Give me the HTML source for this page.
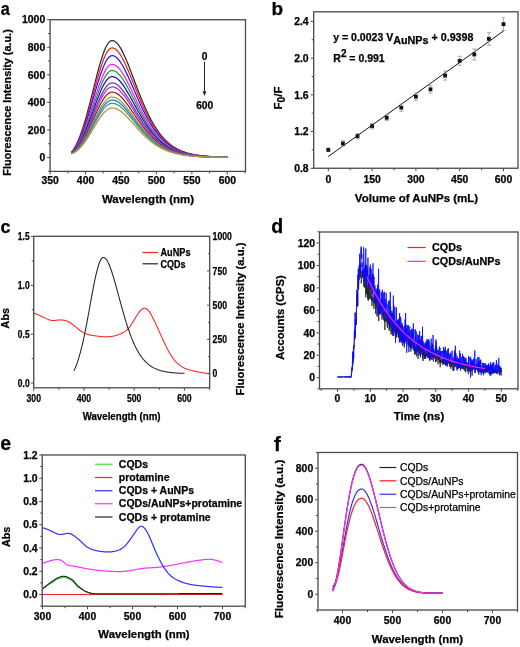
<!DOCTYPE html>
<html><head><meta charset="utf-8"><style>
html,body{margin:0;padding:0;background:#fff;}
svg{display:block;font-family:"Liberation Sans", sans-serif;will-change:transform;} text{stroke:#000;stroke-width:0.25px;}
</style></head><body>
<svg width="520" height="647" viewBox="0 0 520 647">
<rect width="520" height="647" fill="#fff"/>
<text x="0.8" y="14.8" font-size="17.6" text-anchor="start" font-weight="bold" fill="#000"  textLength="9.1" lengthAdjust="spacingAndGlyphs">a</text>
<path d="M71.36 152.28 L72.07 151.45 L72.78 150.52 L73.49 149.51 L74.20 148.40 L74.91 147.21 L75.62 145.92 L76.33 144.55 L77.03 143.09 L77.74 141.55 L78.45 139.92 L79.16 138.20 L79.87 136.40 L80.58 134.51 L81.29 132.54 L82.00 130.50 L82.70 128.37 L83.41 126.17 L84.12 123.89 L84.83 121.55 L85.54 119.13 L86.25 116.65 L86.96 114.11 L87.67 111.51 L88.38 108.87 L89.08 106.17 L89.79 103.44 L90.50 100.67 L91.21 97.87 L91.92 95.06 L92.63 92.22 L93.34 89.38 L94.05 86.55 L94.75 83.72 L95.46 80.90 L96.17 78.12 L96.88 75.37 L97.59 72.66 L98.30 70.01 L99.01 67.41 L99.72 64.89 L100.42 62.45 L101.13 60.10 L101.84 57.84 L102.55 55.69 L103.26 53.66 L103.97 51.74 L104.68 49.96 L105.39 48.31 L106.10 46.81 L106.80 45.45 L107.51 44.25 L108.22 43.21 L108.93 42.34 L109.64 41.63 L110.35 41.09 L111.06 40.73 L111.77 40.54 L112.47 40.52 L113.18 40.62 L113.89 40.85 L114.60 41.19 L115.31 41.65 L116.02 42.21 L116.73 42.88 L117.44 43.65 L118.14 44.52 L118.85 45.48 L119.56 46.53 L120.27 47.66 L120.98 48.88 L121.69 50.17 L122.40 51.52 L123.11 52.95 L123.82 54.43 L124.52 55.97 L125.23 57.56 L125.94 59.20 L126.65 60.88 L127.36 62.60 L128.07 64.35 L128.78 66.13 L129.49 67.93 L130.19 69.76 L130.90 71.60 L131.61 73.46 L132.32 75.33 L133.03 77.20 L133.74 79.08 L134.45 80.96 L135.16 82.83 L135.86 84.70 L136.57 86.56 L137.28 88.41 L137.99 90.25 L138.70 92.07 L139.41 93.87 L140.12 95.66 L140.83 97.42 L141.54 99.16 L142.24 100.87 L142.95 102.57 L143.66 104.23 L144.37 105.86 L145.08 107.47 L145.79 109.05 L146.50 110.59 L147.21 112.11 L147.91 113.59 L148.62 115.04 L149.33 116.46 L150.04 117.85 L150.75 119.20 L151.46 120.52 L152.17 121.81 L152.88 123.06 L153.58 124.28 L154.29 125.47 L155.00 126.62 L155.71 127.74 L156.42 128.83 L157.13 129.89 L157.84 130.92 L158.55 131.92 L159.26 132.88 L159.96 133.82 L160.67 134.73 L161.38 135.60 L162.09 136.45 L162.80 137.27 L163.51 138.07 L164.22 138.83 L164.93 139.58 L165.63 140.29 L166.34 140.98 L167.05 141.65 L167.76 142.29 L168.47 142.91 L169.18 143.51 L169.89 144.08 L170.60 144.64 L171.30 145.17 L172.01 145.69 L172.72 146.18 L173.43 146.66 L174.14 147.11 L174.85 147.55 L175.56 147.98 L176.27 148.38 L176.98 148.77 L177.68 149.15 L178.39 149.51 L179.10 149.85 L179.81 150.18 L180.52 150.50 L181.23 150.81 L181.94 151.10 L182.65 151.38 L183.35 151.65 L184.06 151.91 L184.77 152.16 L185.48 152.39 L186.19 152.62 L186.90 152.84 L187.61 153.04 L188.32 153.24 L189.02 153.43 L189.73 153.62 L190.44 153.79 L191.15 153.96 L191.86 154.12 L192.57 154.27 L193.28 154.42 L193.99 154.56 L194.70 154.69 L195.40 154.82 L196.11 154.94 L196.82 155.06 L197.53 155.17 L198.24 155.28 L198.95 155.38 L199.66 155.48 L200.37 155.57 L201.07 155.66 L201.78 155.74 L202.49 155.82 L203.20 155.90 L203.91 155.97 L204.62 156.05 L205.33 156.11 L206.04 156.18 L206.74 156.24 L207.45 156.30 L208.16 156.35 L208.87 156.41 L209.58 156.46 L210.29 156.50 L211.00 156.55 L211.71 156.60 L212.42 156.64 L213.12 156.68 L213.83 156.72 L214.54 156.75 L215.25 156.79 L215.96 156.82 L216.67 156.85 L217.38 156.88 L218.09 156.91 L218.79 156.94 L219.50 156.96 L220.21 156.99 L220.92 157.01 L221.63 157.04 L222.34 157.06 L223.05 157.08 L223.76 157.10 L224.46 157.12 L225.17 157.13 L225.88 157.15 L226.59 157.17 L227.30 157.18" fill="none" stroke="#2a2a2a" stroke-width="1.25" stroke-linejoin="round" />
<path d="M71.36 152.44 L72.07 151.67 L72.78 150.82 L73.49 149.88 L74.20 148.86 L74.91 147.75 L75.62 146.56 L76.33 145.29 L77.03 143.93 L77.74 142.49 L78.45 140.97 L79.16 139.37 L79.87 137.68 L80.58 135.92 L81.29 134.09 L82.00 132.17 L82.70 130.19 L83.41 128.13 L84.12 126.00 L84.83 123.80 L85.54 121.54 L86.25 119.22 L86.96 116.85 L87.67 114.42 L88.38 111.94 L89.08 109.42 L89.79 106.86 L90.50 104.27 L91.21 101.65 L91.92 99.01 L92.63 96.36 L93.34 93.70 L94.05 91.05 L94.75 88.40 L95.46 85.76 L96.17 83.16 L96.88 80.58 L97.59 78.05 L98.30 75.56 L99.01 73.13 L99.72 70.77 L100.42 68.49 L101.13 66.28 L101.84 64.17 L102.55 62.16 L103.26 60.25 L103.97 58.46 L104.68 56.79 L105.39 55.25 L106.10 53.84 L106.80 52.57 L107.51 51.45 L108.22 50.47 L108.93 49.65 L109.64 48.99 L110.35 48.49 L111.06 48.15 L111.77 47.97 L112.47 47.95 L113.18 48.05 L113.89 48.26 L114.60 48.58 L115.31 49.01 L116.02 49.53 L116.73 50.16 L117.44 50.88 L118.14 51.70 L118.85 52.60 L119.56 53.58 L120.27 54.64 L120.98 55.78 L121.69 56.98 L122.40 58.26 L123.11 59.59 L123.82 60.98 L124.52 62.42 L125.23 63.91 L125.94 65.44 L126.65 67.02 L127.36 68.63 L128.07 70.27 L128.78 71.93 L129.49 73.62 L130.19 75.33 L130.90 77.06 L131.61 78.80 L132.32 80.55 L133.03 82.30 L133.74 84.06 L134.45 85.82 L135.16 87.58 L135.86 89.33 L136.57 91.07 L137.28 92.80 L137.99 94.52 L138.70 96.23 L139.41 97.91 L140.12 99.59 L140.83 101.24 L141.54 102.87 L142.24 104.47 L142.95 106.06 L143.66 107.61 L144.37 109.14 L145.08 110.65 L145.79 112.13 L146.50 113.57 L147.21 114.99 L147.91 116.38 L148.62 117.74 L149.33 119.07 L150.04 120.37 L150.75 121.63 L151.46 122.87 L152.17 124.07 L152.88 125.25 L153.58 126.39 L154.29 127.50 L155.00 128.58 L155.71 129.63 L156.42 130.66 L157.13 131.65 L157.84 132.61 L158.55 133.54 L159.26 134.45 L159.96 135.32 L160.67 136.17 L161.38 136.99 L162.09 137.79 L162.80 138.56 L163.51 139.30 L164.22 140.02 L164.93 140.71 L165.63 141.38 L166.34 142.03 L167.05 142.66 L167.76 143.26 L168.47 143.84 L169.18 144.40 L169.89 144.94 L170.60 145.46 L171.30 145.96 L172.01 146.44 L172.72 146.90 L173.43 147.34 L174.14 147.77 L174.85 148.19 L175.56 148.58 L176.27 148.96 L176.98 149.33 L177.68 149.68 L178.39 150.02 L179.10 150.34 L179.81 150.65 L180.52 150.95 L181.23 151.23 L181.94 151.51 L182.65 151.77 L183.35 152.02 L184.06 152.26 L184.77 152.50 L185.48 152.72 L186.19 152.93 L186.90 153.13 L187.61 153.33 L188.32 153.51 L189.02 153.69 L189.73 153.86 L190.44 154.03 L191.15 154.18 L191.86 154.33 L192.57 154.48 L193.28 154.61 L193.99 154.74 L194.70 154.87 L195.40 154.99 L196.11 155.10 L196.82 155.21 L197.53 155.32 L198.24 155.42 L198.95 155.51 L199.66 155.60 L200.37 155.69 L201.07 155.77 L201.78 155.85 L202.49 155.93 L203.20 156.00 L203.91 156.07 L204.62 156.14 L205.33 156.20 L206.04 156.26 L206.74 156.32 L207.45 156.37 L208.16 156.43 L208.87 156.48 L209.58 156.52 L210.29 156.57 L211.00 156.61 L211.71 156.65 L212.42 156.69 L213.12 156.73 L213.83 156.77 L214.54 156.80 L215.25 156.83 L215.96 156.86 L216.67 156.89 L217.38 156.92 L218.09 156.95 L218.79 156.97 L219.50 157.00 L220.21 157.02 L220.92 157.04 L221.63 157.07 L222.34 157.09 L223.05 157.11 L223.76 157.12 L224.46 157.14 L225.17 157.16 L225.88 157.17 L226.59 157.19 L227.30 157.20" fill="none" stroke="#ff1a1a" stroke-width="1.25" stroke-linejoin="round" />
<path d="M71.36 152.60 L72.07 151.91 L72.78 151.13 L73.49 150.28 L74.20 149.34 L74.91 148.32 L75.62 147.22 L76.33 146.05 L77.03 144.80 L77.74 143.47 L78.45 142.06 L79.16 140.58 L79.87 139.02 L80.58 137.39 L81.29 135.69 L82.00 133.91 L82.70 132.07 L83.41 130.16 L84.12 128.18 L84.83 126.14 L85.54 124.05 L86.25 121.89 L86.96 119.69 L87.67 117.43 L88.38 115.13 L89.08 112.79 L89.79 110.41 L90.50 108.00 L91.21 105.57 L91.92 103.12 L92.63 100.65 L93.34 98.18 L94.05 95.71 L94.75 93.25 L95.46 90.80 L96.17 88.38 L96.88 85.99 L97.59 83.63 L98.30 81.32 L99.01 79.06 L99.72 76.87 L100.42 74.74 L101.13 72.70 L101.84 70.73 L102.55 68.86 L103.26 67.09 L103.97 65.42 L104.68 63.87 L105.39 62.44 L106.10 61.13 L106.80 59.95 L107.51 58.91 L108.22 58.00 L108.93 57.24 L109.64 56.63 L110.35 56.16 L111.06 55.84 L111.77 55.67 L112.47 55.66 L113.18 55.75 L113.89 55.94 L114.60 56.24 L115.31 56.64 L116.02 57.13 L116.73 57.71 L117.44 58.38 L118.14 59.14 L118.85 59.98 L119.56 60.89 L120.27 61.88 L120.98 62.93 L121.69 64.06 L122.40 65.24 L123.11 66.48 L123.82 67.77 L124.52 69.11 L125.23 70.49 L125.94 71.92 L126.65 73.38 L127.36 74.88 L128.07 76.40 L128.78 77.95 L129.49 79.52 L130.19 81.11 L130.90 82.72 L131.61 84.34 L132.32 85.96 L133.03 87.59 L133.74 89.23 L134.45 90.86 L135.16 92.50 L135.86 94.12 L136.57 95.74 L137.28 97.35 L137.99 98.95 L138.70 100.54 L139.41 102.11 L140.12 103.66 L140.83 105.19 L141.54 106.71 L142.24 108.20 L142.95 109.67 L143.66 111.12 L144.37 112.55 L145.08 113.94 L145.79 115.32 L146.50 116.66 L147.21 117.98 L147.91 119.27 L148.62 120.54 L149.33 121.77 L150.04 122.98 L150.75 124.16 L151.46 125.30 L152.17 126.42 L152.88 127.52 L153.58 128.58 L154.29 129.61 L155.00 130.62 L155.71 131.59 L156.42 132.54 L157.13 133.47 L157.84 134.36 L158.55 135.23 L159.26 136.07 L159.96 136.88 L160.67 137.67 L161.38 138.44 L162.09 139.18 L162.80 139.89 L163.51 140.58 L164.22 141.25 L164.93 141.90 L165.63 142.52 L166.34 143.12 L167.05 143.70 L167.76 144.26 L168.47 144.80 L169.18 145.32 L169.89 145.82 L170.60 146.30 L171.30 146.77 L172.01 147.21 L172.72 147.65 L173.43 148.06 L174.14 148.46 L174.85 148.84 L175.56 149.21 L176.27 149.56 L176.98 149.90 L177.68 150.23 L178.39 150.54 L179.10 150.84 L179.81 151.13 L180.52 151.41 L181.23 151.67 L181.94 151.93 L182.65 152.17 L183.35 152.41 L184.06 152.63 L184.77 152.85 L185.48 153.05 L186.19 153.25 L186.90 153.44 L187.61 153.62 L188.32 153.79 L189.02 153.96 L189.73 154.12 L190.44 154.27 L191.15 154.42 L191.86 154.56 L192.57 154.69 L193.28 154.82 L193.99 154.94 L194.70 155.05 L195.40 155.17 L196.11 155.27 L196.82 155.37 L197.53 155.47 L198.24 155.56 L198.95 155.65 L199.66 155.74 L200.37 155.82 L201.07 155.90 L201.78 155.97 L202.49 156.04 L203.20 156.11 L203.91 156.17 L204.62 156.23 L205.33 156.29 L206.04 156.35 L206.74 156.40 L207.45 156.45 L208.16 156.50 L208.87 156.55 L209.58 156.59 L210.29 156.63 L211.00 156.67 L211.71 156.71 L212.42 156.75 L213.12 156.78 L213.83 156.82 L214.54 156.85 L215.25 156.88 L215.96 156.91 L216.67 156.94 L217.38 156.96 L218.09 156.99 L218.79 157.01 L219.50 157.03 L220.21 157.06 L220.92 157.08 L221.63 157.10 L222.34 157.12 L223.05 157.13 L223.76 157.15 L224.46 157.17 L225.17 157.18 L225.88 157.20 L226.59 157.21 L227.30 157.22" fill="none" stroke="#1a1aff" stroke-width="1.25" stroke-linejoin="round" />
<path d="M71.36 152.78 L72.07 152.17 L72.78 151.48 L73.49 150.72 L74.20 149.88 L74.91 148.96 L75.62 147.97 L76.33 146.91 L77.03 145.77 L77.74 144.57 L78.45 143.29 L79.16 141.94 L79.87 140.52 L80.58 139.04 L81.29 137.49 L82.00 135.87 L82.70 134.19 L83.41 132.44 L84.12 130.64 L84.83 128.78 L85.54 126.86 L86.25 124.90 L86.96 122.88 L87.67 120.82 L88.38 118.71 L89.08 116.57 L89.79 114.40 L90.50 112.20 L91.21 109.98 L91.92 107.73 L92.63 105.48 L93.34 103.22 L94.05 100.96 L94.75 98.71 L95.46 96.48 L96.17 94.26 L96.88 92.07 L97.59 89.91 L98.30 87.80 L99.01 85.74 L99.72 83.73 L100.42 81.79 L101.13 79.91 L101.84 78.12 L102.55 76.41 L103.26 74.78 L103.97 73.26 L104.68 71.84 L105.39 70.53 L106.10 69.33 L106.80 68.25 L107.51 67.30 L108.22 66.47 L108.93 65.78 L109.64 65.21 L110.35 64.78 L111.06 64.49 L111.77 64.34 L112.47 64.33 L113.18 64.41 L113.89 64.59 L114.60 64.86 L115.31 65.23 L116.02 65.67 L116.73 66.21 L117.44 66.82 L118.14 67.51 L118.85 68.28 L119.56 69.12 L120.27 70.02 L120.98 70.99 L121.69 72.01 L122.40 73.09 L123.11 74.23 L123.82 75.41 L124.52 76.63 L125.23 77.90 L125.94 79.21 L126.65 80.54 L127.36 81.91 L128.07 83.31 L128.78 84.72 L129.49 86.16 L130.19 87.62 L130.90 89.09 L131.61 90.57 L132.32 92.05 L133.03 93.55 L133.74 95.04 L134.45 96.54 L135.16 98.03 L135.86 99.52 L136.57 101.00 L137.28 102.47 L137.99 103.94 L138.70 105.39 L139.41 106.82 L140.12 108.24 L140.83 109.65 L141.54 111.03 L142.24 112.40 L142.95 113.75 L143.66 115.07 L144.37 116.37 L145.08 117.65 L145.79 118.91 L146.50 120.14 L147.21 121.35 L147.91 122.53 L148.62 123.68 L149.33 124.81 L150.04 125.92 L150.75 126.99 L151.46 128.05 L152.17 129.07 L152.88 130.07 L153.58 131.04 L154.29 131.99 L155.00 132.91 L155.71 133.80 L156.42 134.67 L157.13 135.51 L157.84 136.33 L158.55 137.12 L159.26 137.89 L159.96 138.64 L160.67 139.36 L161.38 140.06 L162.09 140.74 L162.80 141.39 L163.51 142.02 L164.22 142.63 L164.93 143.22 L165.63 143.79 L166.34 144.34 L167.05 144.87 L167.76 145.39 L168.47 145.88 L169.18 146.36 L169.89 146.81 L170.60 147.26 L171.30 147.68 L172.01 148.09 L172.72 148.48 L173.43 148.86 L174.14 149.23 L174.85 149.58 L175.56 149.91 L176.27 150.24 L176.98 150.55 L177.68 150.85 L178.39 151.13 L179.10 151.41 L179.81 151.67 L180.52 151.93 L181.23 152.17 L181.94 152.40 L182.65 152.63 L183.35 152.84 L184.06 153.05 L184.77 153.24 L185.48 153.43 L186.19 153.61 L186.90 153.79 L187.61 153.95 L188.32 154.11 L189.02 154.26 L189.73 154.41 L190.44 154.55 L191.15 154.68 L191.86 154.81 L192.57 154.93 L193.28 155.05 L193.99 155.16 L194.70 155.26 L195.40 155.36 L196.11 155.46 L196.82 155.56 L197.53 155.64 L198.24 155.73 L198.95 155.81 L199.66 155.89 L200.37 155.96 L201.07 156.03 L201.78 156.10 L202.49 156.16 L203.20 156.23 L203.91 156.29 L204.62 156.34 L205.33 156.39 L206.04 156.45 L206.74 156.49 L207.45 156.54 L208.16 156.59 L208.87 156.63 L209.58 156.67 L210.29 156.71 L211.00 156.74 L211.71 156.78 L212.42 156.81 L213.12 156.84 L213.83 156.88 L214.54 156.90 L215.25 156.93 L215.96 156.96 L216.67 156.98 L217.38 157.01 L218.09 157.03 L218.79 157.05 L219.50 157.07 L220.21 157.09 L220.92 157.11 L221.63 157.13 L222.34 157.15 L223.05 157.16 L223.76 157.18 L224.46 157.19 L225.17 157.21 L225.88 157.22 L226.59 157.24 L227.30 157.25" fill="none" stroke="#ff1aff" stroke-width="1.25" stroke-linejoin="round" />
<path d="M71.36 152.91 L72.07 152.36 L72.78 151.73 L73.49 151.03 L74.20 150.26 L74.91 149.42 L75.62 148.50 L76.33 147.52 L77.03 146.47 L77.74 145.35 L78.45 144.17 L79.16 142.91 L79.87 141.60 L80.58 140.21 L81.29 138.77 L82.00 137.26 L82.70 135.70 L83.41 134.08 L84.12 132.40 L84.83 130.66 L85.54 128.88 L86.25 127.04 L86.96 125.16 L87.67 123.24 L88.38 121.28 L89.08 119.28 L89.79 117.25 L90.50 115.20 L91.21 113.12 L91.92 111.03 L92.63 108.93 L93.34 106.82 L94.05 104.71 L94.75 102.61 L95.46 100.53 L96.17 98.46 L96.88 96.41 L97.59 94.40 L98.30 92.43 L99.01 90.50 L99.72 88.63 L100.42 86.82 L101.13 85.07 L101.84 83.39 L102.55 81.79 L103.26 80.28 L103.97 78.86 L104.68 77.53 L105.39 76.31 L106.10 75.19 L106.80 74.19 L107.51 73.29 L108.22 72.52 L108.93 71.87 L109.64 71.35 L110.35 70.95 L111.06 70.68 L111.77 70.53 L112.47 70.52 L113.18 70.60 L113.89 70.77 L114.60 71.02 L115.31 71.36 L116.02 71.78 L116.73 72.28 L117.44 72.85 L118.14 73.50 L118.85 74.21 L119.56 74.99 L120.27 75.83 L120.98 76.74 L121.69 77.69 L122.40 78.70 L123.11 79.76 L123.82 80.86 L124.52 82.01 L125.23 83.19 L125.94 84.41 L126.65 85.66 L127.36 86.94 L128.07 88.24 L128.78 89.56 L129.49 90.90 L130.19 92.26 L130.90 93.63 L131.61 95.02 L132.32 96.40 L133.03 97.80 L133.74 99.19 L134.45 100.59 L135.16 101.98 L135.86 103.37 L136.57 104.76 L137.28 106.13 L137.99 107.50 L138.70 108.85 L139.41 110.19 L140.12 111.52 L140.83 112.83 L141.54 114.12 L142.24 115.40 L142.95 116.65 L143.66 117.89 L144.37 119.11 L145.08 120.30 L145.79 121.47 L146.50 122.62 L147.21 123.75 L147.91 124.85 L148.62 125.93 L149.33 126.99 L150.04 128.02 L150.75 129.02 L151.46 130.00 L152.17 130.96 L152.88 131.89 L153.58 132.80 L154.29 133.68 L155.00 134.54 L155.71 135.38 L156.42 136.19 L157.13 136.97 L157.84 137.74 L158.55 138.48 L159.26 139.20 L159.96 139.89 L160.67 140.57 L161.38 141.22 L162.09 141.85 L162.80 142.46 L163.51 143.05 L164.22 143.62 L164.93 144.17 L165.63 144.70 L166.34 145.22 L167.05 145.71 L167.76 146.19 L168.47 146.65 L169.18 147.10 L169.89 147.52 L170.60 147.94 L171.30 148.33 L172.01 148.72 L172.72 149.08 L173.43 149.44 L174.14 149.78 L174.85 150.10 L175.56 150.42 L176.27 150.72 L176.98 151.01 L177.68 151.29 L178.39 151.56 L179.10 151.81 L179.81 152.06 L180.52 152.30 L181.23 152.52 L181.94 152.74 L182.65 152.95 L183.35 153.15 L184.06 153.34 L184.77 153.53 L185.48 153.70 L186.19 153.87 L186.90 154.03 L187.61 154.19 L188.32 154.34 L189.02 154.48 L189.73 154.61 L190.44 154.74 L191.15 154.87 L191.86 154.99 L192.57 155.10 L193.28 155.21 L193.99 155.31 L194.70 155.41 L195.40 155.51 L196.11 155.60 L196.82 155.68 L197.53 155.77 L198.24 155.85 L198.95 155.92 L199.66 155.99 L200.37 156.06 L201.07 156.13 L201.78 156.19 L202.49 156.25 L203.20 156.31 L203.91 156.37 L204.62 156.42 L205.33 156.47 L206.04 156.52 L206.74 156.56 L207.45 156.61 L208.16 156.65 L208.87 156.69 L209.58 156.72 L210.29 156.76 L211.00 156.79 L211.71 156.83 L212.42 156.86 L213.12 156.89 L213.83 156.92 L214.54 156.94 L215.25 156.97 L215.96 156.99 L216.67 157.02 L217.38 157.04 L218.09 157.06 L218.79 157.08 L219.50 157.10 L220.21 157.12 L220.92 157.14 L221.63 157.16 L222.34 157.17 L223.05 157.19 L223.76 157.20 L224.46 157.22 L225.17 157.23 L225.88 157.24 L226.59 157.25 L227.30 157.26" fill="none" stroke="#1f9a4f" stroke-width="1.25" stroke-linejoin="round" />
<path d="M71.36 153.04 L72.07 152.54 L72.78 151.98 L73.49 151.34 L74.20 150.64 L74.91 149.86 L75.62 149.02 L76.33 148.12 L77.03 147.15 L77.74 146.12 L78.45 145.02 L79.16 143.86 L79.87 142.65 L80.58 141.37 L81.29 140.03 L82.00 138.63 L82.70 137.18 L83.41 135.67 L84.12 134.11 L84.83 132.50 L85.54 130.84 L86.25 129.14 L86.96 127.39 L87.67 125.60 L88.38 123.78 L89.08 121.92 L89.79 120.04 L90.50 118.13 L91.21 116.20 L91.92 114.26 L92.63 112.30 L93.34 110.34 L94.05 108.38 L94.75 106.43 L95.46 104.49 L96.17 102.56 L96.88 100.66 L97.59 98.79 L98.30 96.96 L99.01 95.16 L99.72 93.42 L100.42 91.73 L101.13 90.11 L101.84 88.55 L102.55 87.06 L103.26 85.65 L103.97 84.33 L104.68 83.10 L105.39 81.96 L106.10 80.92 L106.80 79.98 L107.51 79.16 L108.22 78.44 L108.93 77.83 L109.64 77.34 L110.35 76.97 L111.06 76.72 L111.77 76.59 L112.47 76.57 L113.18 76.65 L113.89 76.80 L114.60 77.04 L115.31 77.36 L116.02 77.75 L116.73 78.21 L117.44 78.74 L118.14 79.34 L118.85 80.01 L119.56 80.73 L120.27 81.52 L120.98 82.36 L121.69 83.25 L122.40 84.19 L123.11 85.17 L123.82 86.20 L124.52 87.26 L125.23 88.37 L125.94 89.50 L126.65 90.66 L127.36 91.85 L128.07 93.06 L128.78 94.29 L129.49 95.54 L130.19 96.80 L130.90 98.08 L131.61 99.37 L132.32 100.66 L133.03 101.95 L133.74 103.25 L134.45 104.55 L135.16 105.85 L135.86 107.14 L136.57 108.43 L137.28 109.71 L137.99 110.98 L138.70 112.24 L139.41 113.48 L140.12 114.72 L140.83 115.94 L141.54 117.14 L142.24 118.33 L142.95 119.50 L143.66 120.65 L144.37 121.78 L145.08 122.89 L145.79 123.98 L146.50 125.05 L147.21 126.10 L147.91 127.13 L148.62 128.13 L149.33 129.11 L150.04 130.07 L150.75 131.00 L151.46 131.92 L152.17 132.81 L152.88 133.67 L153.58 134.52 L154.29 135.34 L155.00 136.14 L155.71 136.92 L156.42 137.67 L157.13 138.40 L157.84 139.11 L158.55 139.80 L159.26 140.47 L159.96 141.12 L160.67 141.75 L161.38 142.35 L162.09 142.94 L162.80 143.51 L163.51 144.06 L164.22 144.59 L164.93 145.10 L165.63 145.60 L166.34 146.07 L167.05 146.53 L167.76 146.98 L168.47 147.41 L169.18 147.82 L169.89 148.22 L170.60 148.60 L171.30 148.97 L172.01 149.33 L172.72 149.67 L173.43 150.00 L174.14 150.31 L174.85 150.62 L175.56 150.91 L176.27 151.19 L176.98 151.46 L177.68 151.72 L178.39 151.97 L179.10 152.21 L179.81 152.44 L180.52 152.66 L181.23 152.87 L181.94 153.07 L182.65 153.27 L183.35 153.45 L184.06 153.63 L184.77 153.80 L185.48 153.97 L186.19 154.12 L186.90 154.27 L187.61 154.42 L188.32 154.56 L189.02 154.69 L189.73 154.81 L190.44 154.93 L191.15 155.05 L191.86 155.16 L192.57 155.27 L193.28 155.37 L193.99 155.46 L194.70 155.56 L195.40 155.65 L196.11 155.73 L196.82 155.81 L197.53 155.89 L198.24 155.96 L198.95 156.03 L199.66 156.10 L200.37 156.16 L201.07 156.23 L201.78 156.28 L202.49 156.34 L203.20 156.39 L203.91 156.44 L204.62 156.49 L205.33 156.54 L206.04 156.58 L206.74 156.63 L207.45 156.67 L208.16 156.71 L208.87 156.74 L209.58 156.78 L210.29 156.81 L211.00 156.84 L211.71 156.87 L212.42 156.90 L213.12 156.93 L213.83 156.96 L214.54 156.98 L215.25 157.01 L215.96 157.03 L216.67 157.05 L217.38 157.07 L218.09 157.09 L218.79 157.11 L219.50 157.13 L220.21 157.15 L220.92 157.16 L221.63 157.18 L222.34 157.19 L223.05 157.21 L223.76 157.22 L224.46 157.24 L225.17 157.25 L225.88 157.26 L226.59 157.27 L227.30 157.28" fill="none" stroke="#1a1a9a" stroke-width="1.25" stroke-linejoin="round" />
<path d="M71.36 153.17 L72.07 152.74 L72.78 152.23 L73.49 151.66 L74.20 151.03 L74.91 150.33 L75.62 149.57 L76.33 148.75 L77.03 147.86 L77.74 146.92 L78.45 145.92 L79.16 144.86 L79.87 143.74 L80.58 142.57 L81.29 141.34 L82.00 140.06 L82.70 138.72 L83.41 137.34 L84.12 135.91 L84.83 134.42 L85.54 132.90 L86.25 131.33 L86.96 129.72 L87.67 128.08 L88.38 126.40 L89.08 124.69 L89.79 122.95 L90.50 121.20 L91.21 119.42 L91.92 117.63 L92.63 115.83 L93.34 114.02 L94.05 112.22 L94.75 110.42 L95.46 108.63 L96.17 106.85 L96.88 105.10 L97.59 103.38 L98.30 101.69 L99.01 100.04 L99.72 98.43 L100.42 96.87 L101.13 95.38 L101.84 93.94 L102.55 92.57 L103.26 91.27 L103.97 90.05 L104.68 88.92 L105.39 87.87 L106.10 86.91 L106.80 86.05 L107.51 85.28 L108.22 84.62 L108.93 84.06 L109.64 83.61 L110.35 83.27 L111.06 83.04 L111.77 82.92 L112.47 82.90 L113.18 82.97 L113.89 83.12 L114.60 83.33 L115.31 83.62 L116.02 83.98 L116.73 84.41 L117.44 84.90 L118.14 85.46 L118.85 86.07 L119.56 86.74 L120.27 87.46 L120.98 88.24 L121.69 89.06 L122.40 89.92 L123.11 90.83 L123.82 91.78 L124.52 92.76 L125.23 93.77 L125.94 94.82 L126.65 95.89 L127.36 96.98 L128.07 98.10 L128.78 99.24 L129.49 100.39 L130.19 101.55 L130.90 102.73 L131.61 103.91 L132.32 105.10 L133.03 106.30 L133.74 107.50 L134.45 108.69 L135.16 109.89 L135.86 111.08 L136.57 112.27 L137.28 113.45 L137.99 114.62 L138.70 115.78 L139.41 116.93 L140.12 118.07 L140.83 119.19 L141.54 120.30 L142.24 121.39 L142.95 122.47 L143.66 123.53 L144.37 124.57 L145.08 125.60 L145.79 126.60 L146.50 127.59 L147.21 128.56 L147.91 129.50 L148.62 130.43 L149.33 131.33 L150.04 132.21 L150.75 133.08 L151.46 133.92 L152.17 134.74 L152.88 135.54 L153.58 136.32 L154.29 137.07 L155.00 137.81 L155.71 138.53 L156.42 139.22 L157.13 139.90 L157.84 140.55 L158.55 141.19 L159.26 141.80 L159.96 142.40 L160.67 142.98 L161.38 143.54 L162.09 144.08 L162.80 144.60 L163.51 145.11 L164.22 145.60 L164.93 146.07 L165.63 146.53 L166.34 146.97 L167.05 147.39 L167.76 147.80 L168.47 148.20 L169.18 148.58 L169.89 148.95 L170.60 149.30 L171.30 149.64 L172.01 149.97 L172.72 150.28 L173.43 150.59 L174.14 150.88 L174.85 151.16 L175.56 151.43 L176.27 151.69 L176.98 151.93 L177.68 152.17 L178.39 152.40 L179.10 152.62 L179.81 152.84 L180.52 153.04 L181.23 153.23 L181.94 153.42 L182.65 153.60 L183.35 153.77 L184.06 153.93 L184.77 154.09 L185.48 154.24 L186.19 154.39 L186.90 154.53 L187.61 154.66 L188.32 154.79 L189.02 154.91 L189.73 155.02 L190.44 155.14 L191.15 155.24 L191.86 155.34 L192.57 155.44 L193.28 155.53 L193.99 155.62 L194.70 155.71 L195.40 155.79 L196.11 155.87 L196.82 155.94 L197.53 156.01 L198.24 156.08 L198.95 156.15 L199.66 156.21 L200.37 156.27 L201.07 156.33 L201.78 156.38 L202.49 156.43 L203.20 156.48 L203.91 156.53 L204.62 156.57 L205.33 156.62 L206.04 156.66 L206.74 156.70 L207.45 156.73 L208.16 156.77 L208.87 156.80 L209.58 156.83 L210.29 156.87 L211.00 156.89 L211.71 156.92 L212.42 156.95 L213.12 156.98 L213.83 157.00 L214.54 157.02 L215.25 157.05 L215.96 157.07 L216.67 157.09 L217.38 157.11 L218.09 157.12 L218.79 157.14 L219.50 157.16 L220.21 157.17 L220.92 157.19 L221.63 157.20 L222.34 157.22 L223.05 157.23 L223.76 157.24 L224.46 157.26 L225.17 157.27 L225.88 157.28 L226.59 157.29 L227.30 157.30" fill="none" stroke="#8a2ab8" stroke-width="1.25" stroke-linejoin="round" />
<path d="M71.36 153.26 L72.07 152.86 L72.78 152.39 L73.49 151.87 L74.20 151.28 L74.91 150.62 L75.62 149.91 L76.33 149.14 L77.03 148.31 L77.74 147.43 L78.45 146.49 L79.16 145.49 L79.87 144.43 L80.58 143.33 L81.29 142.17 L82.00 140.96 L82.70 139.70 L83.41 138.39 L84.12 137.04 L84.83 135.64 L85.54 134.19 L86.25 132.71 L86.96 131.19 L87.67 129.64 L88.38 128.05 L89.08 126.43 L89.79 124.79 L90.50 123.13 L91.21 121.45 L91.92 119.75 L92.63 118.05 L93.34 116.34 L94.05 114.63 L94.75 112.93 L95.46 111.24 L96.17 109.56 L96.88 107.90 L97.59 106.27 L98.30 104.67 L99.01 103.11 L99.72 101.59 L100.42 100.12 L101.13 98.70 L101.84 97.34 L102.55 96.04 L103.26 94.81 L103.97 93.66 L104.68 92.59 L105.39 91.59 L106.10 90.69 L106.80 89.87 L107.51 89.15 L108.22 88.52 L108.93 87.99 L109.64 87.57 L110.35 87.24 L111.06 87.02 L111.77 86.91 L112.47 86.89 L113.18 86.96 L113.89 87.10 L114.60 87.30 L115.31 87.58 L116.02 87.92 L116.73 88.32 L117.44 88.79 L118.14 89.31 L118.85 89.89 L119.56 90.53 L120.27 91.21 L120.98 91.94 L121.69 92.72 L122.40 93.54 L123.11 94.40 L123.82 95.29 L124.52 96.22 L125.23 97.18 L125.94 98.17 L126.65 99.19 L127.36 100.22 L128.07 101.28 L128.78 102.35 L129.49 103.44 L130.19 104.55 L130.90 105.66 L131.61 106.78 L132.32 107.91 L133.03 109.04 L133.74 110.17 L134.45 111.30 L135.16 112.44 L135.86 113.56 L136.57 114.69 L137.28 115.80 L137.99 116.91 L138.70 118.01 L139.41 119.10 L140.12 120.18 L140.83 121.24 L141.54 122.29 L142.24 123.33 L142.95 124.35 L143.66 125.35 L144.37 126.34 L145.08 127.31 L145.79 128.26 L146.50 129.19 L147.21 130.10 L147.91 131.00 L148.62 131.88 L149.33 132.73 L150.04 133.57 L150.75 134.38 L151.46 135.18 L152.17 135.96 L152.88 136.71 L153.58 137.45 L154.29 138.17 L155.00 138.86 L155.71 139.54 L156.42 140.20 L157.13 140.84 L157.84 141.46 L158.55 142.06 L159.26 142.64 L159.96 143.21 L160.67 143.75 L161.38 144.28 L162.09 144.80 L162.80 145.29 L163.51 145.77 L164.22 146.23 L164.93 146.68 L165.63 147.11 L166.34 147.53 L167.05 147.93 L167.76 148.32 L168.47 148.69 L169.18 149.06 L169.89 149.40 L170.60 149.74 L171.30 150.06 L172.01 150.37 L172.72 150.67 L173.43 150.96 L174.14 151.23 L174.85 151.50 L175.56 151.75 L176.27 152.00 L176.98 152.23 L177.68 152.46 L178.39 152.68 L179.10 152.88 L179.81 153.08 L180.52 153.28 L181.23 153.46 L181.94 153.64 L182.65 153.81 L183.35 153.97 L184.06 154.13 L184.77 154.27 L185.48 154.42 L186.19 154.55 L186.90 154.69 L187.61 154.81 L188.32 154.93 L189.02 155.05 L189.73 155.16 L190.44 155.26 L191.15 155.36 L191.86 155.46 L192.57 155.55 L193.28 155.64 L193.99 155.72 L194.70 155.81 L195.40 155.88 L196.11 155.96 L196.82 156.03 L197.53 156.09 L198.24 156.16 L198.95 156.22 L199.66 156.28 L200.37 156.33 L201.07 156.39 L201.78 156.44 L202.49 156.49 L203.20 156.53 L203.91 156.58 L204.62 156.62 L205.33 156.66 L206.04 156.70 L206.74 156.74 L207.45 156.77 L208.16 156.81 L208.87 156.84 L209.58 156.87 L210.29 156.90 L211.00 156.93 L211.71 156.95 L212.42 156.98 L213.12 157.00 L213.83 157.03 L214.54 157.05 L215.25 157.07 L215.96 157.09 L216.67 157.11 L217.38 157.13 L218.09 157.14 L218.79 157.16 L219.50 157.18 L220.21 157.19 L220.92 157.21 L221.63 157.22 L222.34 157.23 L223.05 157.25 L223.76 157.26 L224.46 157.27 L225.17 157.28 L225.88 157.29 L226.59 157.30 L227.30 157.31" fill="none" stroke="#9a3ad8" stroke-width="1.25" stroke-linejoin="round" />
<path d="M71.36 153.37 L72.07 153.02 L72.78 152.60 L73.49 152.13 L74.20 151.60 L74.91 151.01 L75.62 150.36 L76.33 149.66 L77.03 148.90 L77.74 148.09 L78.45 147.23 L79.16 146.31 L79.87 145.34 L80.58 144.32 L81.29 143.25 L82.00 142.14 L82.70 140.98 L83.41 139.77 L84.12 138.52 L84.83 137.23 L85.54 135.89 L86.25 134.52 L86.96 133.12 L87.67 131.68 L88.38 130.21 L89.08 128.72 L89.79 127.20 L90.50 125.66 L91.21 124.11 L91.92 122.54 L92.63 120.96 L93.34 119.38 L94.05 117.80 L94.75 116.22 L95.46 114.66 L96.17 113.10 L96.88 111.57 L97.59 110.06 L98.30 108.58 L99.01 107.13 L99.72 105.73 L100.42 104.36 L101.13 103.05 L101.84 101.79 L102.55 100.59 L103.26 99.46 L103.97 98.39 L104.68 97.39 L105.39 96.47 L106.10 95.63 L106.80 94.88 L107.51 94.21 L108.22 93.63 L108.93 93.14 L109.64 92.74 L110.35 92.45 L111.06 92.24 L111.77 92.14 L112.47 92.12 L113.18 92.18 L113.89 92.31 L114.60 92.50 L115.31 92.76 L116.02 93.07 L116.73 93.45 L117.44 93.88 L118.14 94.36 L118.85 94.90 L119.56 95.49 L120.27 96.12 L120.98 96.80 L121.69 97.52 L122.40 98.28 L123.11 99.07 L123.82 99.90 L124.52 100.76 L125.23 101.65 L125.94 102.57 L126.65 103.51 L127.36 104.47 L128.07 105.44 L128.78 106.44 L129.49 107.45 L130.19 108.47 L130.90 109.50 L131.61 110.54 L132.32 111.58 L133.03 112.63 L133.74 113.68 L134.45 114.73 L135.16 115.77 L135.86 116.82 L136.57 117.86 L137.28 118.89 L137.99 119.92 L138.70 120.94 L139.41 121.94 L140.12 122.94 L140.83 123.93 L141.54 124.90 L142.24 125.86 L142.95 126.80 L143.66 127.73 L144.37 128.64 L145.08 129.54 L145.79 130.42 L146.50 131.29 L147.21 132.13 L147.91 132.96 L148.62 133.77 L149.33 134.57 L150.04 135.34 L150.75 136.10 L151.46 136.83 L152.17 137.55 L152.88 138.25 L153.58 138.94 L154.29 139.60 L155.00 140.24 L155.71 140.87 L156.42 141.48 L157.13 142.07 L157.84 142.65 L158.55 143.20 L159.26 143.74 L159.96 144.27 L160.67 144.77 L161.38 145.26 L162.09 145.74 L162.80 146.20 L163.51 146.64 L164.22 147.07 L164.93 147.48 L165.63 147.88 L166.34 148.27 L167.05 148.64 L167.76 149.00 L168.47 149.35 L169.18 149.68 L169.89 150.00 L170.60 150.31 L171.30 150.61 L172.01 150.90 L172.72 151.17 L173.43 151.44 L174.14 151.70 L174.85 151.94 L175.56 152.18 L176.27 152.40 L176.98 152.62 L177.68 152.83 L178.39 153.03 L179.10 153.23 L179.81 153.41 L180.52 153.59 L181.23 153.76 L181.94 153.92 L182.65 154.08 L183.35 154.23 L184.06 154.38 L184.77 154.51 L185.48 154.65 L186.19 154.77 L186.90 154.89 L187.61 155.01 L188.32 155.12 L189.02 155.23 L189.73 155.33 L190.44 155.43 L191.15 155.52 L191.86 155.61 L192.57 155.70 L193.28 155.78 L193.99 155.86 L194.70 155.93 L195.40 156.00 L196.11 156.07 L196.82 156.14 L197.53 156.20 L198.24 156.26 L198.95 156.31 L199.66 156.37 L200.37 156.42 L201.07 156.47 L201.78 156.52 L202.49 156.56 L203.20 156.61 L203.91 156.65 L204.62 156.69 L205.33 156.72 L206.04 156.76 L206.74 156.79 L207.45 156.83 L208.16 156.86 L208.87 156.89 L209.58 156.92 L210.29 156.94 L211.00 156.97 L211.71 156.99 L212.42 157.02 L213.12 157.04 L213.83 157.06 L214.54 157.08 L215.25 157.10 L215.96 157.12 L216.67 157.14 L217.38 157.15 L218.09 157.17 L218.79 157.19 L219.50 157.20 L220.21 157.21 L220.92 157.23 L221.63 157.24 L222.34 157.25 L223.05 157.26 L223.76 157.28 L224.46 157.29 L225.17 157.30 L225.88 157.31 L226.59 157.31 L227.30 157.32" fill="none" stroke="#a01a1a" stroke-width="1.25" stroke-linejoin="round" />
<path d="M71.36 153.47 L72.07 153.17 L72.78 152.80 L73.49 152.38 L74.20 151.91 L74.91 151.37 L75.62 150.79 L76.33 150.15 L77.03 149.46 L77.74 148.72 L78.45 147.93 L79.16 147.09 L79.87 146.20 L80.58 145.26 L81.29 144.28 L82.00 143.26 L82.70 142.19 L83.41 141.07 L84.12 139.92 L84.83 138.73 L85.54 137.50 L86.25 136.24 L86.96 134.94 L87.67 133.62 L88.38 132.26 L89.08 130.88 L89.79 129.48 L90.50 128.06 L91.21 126.62 L91.92 125.18 L92.63 123.72 L93.34 122.26 L94.05 120.80 L94.75 119.34 L95.46 117.90 L96.17 116.46 L96.88 115.04 L97.59 113.65 L98.30 112.28 L99.01 110.95 L99.72 109.65 L100.42 108.39 L101.13 107.17 L101.84 106.01 L102.55 104.90 L103.26 103.85 L103.97 102.87 L104.68 101.95 L105.39 101.10 L106.10 100.32 L106.80 99.62 L107.51 99.00 L108.22 98.47 L108.93 98.02 L109.64 97.65 L110.35 97.37 L111.06 97.19 L111.77 97.09 L112.47 97.08 L113.18 97.13 L113.89 97.25 L114.60 97.43 L115.31 97.66 L116.02 97.95 L116.73 98.30 L117.44 98.70 L118.14 99.15 L118.85 99.64 L119.56 100.19 L120.27 100.77 L120.98 101.40 L121.69 102.06 L122.40 102.77 L123.11 103.50 L123.82 104.27 L124.52 105.06 L125.23 105.88 L125.94 106.73 L126.65 107.60 L127.36 108.48 L128.07 109.39 L128.78 110.31 L129.49 111.24 L130.19 112.18 L130.90 113.14 L131.61 114.10 L132.32 115.06 L133.03 116.03 L133.74 117.00 L134.45 117.97 L135.16 118.94 L135.86 119.90 L136.57 120.86 L137.28 121.82 L137.99 122.77 L138.70 123.71 L139.41 124.64 L140.12 125.56 L140.83 126.47 L141.54 127.37 L142.24 128.25 L142.95 129.13 L143.66 129.99 L144.37 130.83 L145.08 131.66 L145.79 132.48 L146.50 133.27 L147.21 134.06 L147.91 134.82 L148.62 135.57 L149.33 136.30 L150.04 137.02 L150.75 137.72 L151.46 138.40 L152.17 139.06 L152.88 139.71 L153.58 140.34 L154.29 140.96 L155.00 141.55 L155.71 142.13 L156.42 142.70 L157.13 143.24 L157.84 143.77 L158.55 144.29 L159.26 144.79 L159.96 145.27 L160.67 145.74 L161.38 146.19 L162.09 146.63 L162.80 147.05 L163.51 147.46 L164.22 147.86 L164.93 148.24 L165.63 148.61 L166.34 148.97 L167.05 149.31 L167.76 149.64 L168.47 149.97 L169.18 150.27 L169.89 150.57 L170.60 150.86 L171.30 151.13 L172.01 151.40 L172.72 151.65 L173.43 151.90 L174.14 152.14 L174.85 152.36 L175.56 152.58 L176.27 152.79 L176.98 152.99 L177.68 153.19 L178.39 153.37 L179.10 153.55 L179.81 153.72 L180.52 153.89 L181.23 154.04 L181.94 154.19 L182.65 154.34 L183.35 154.48 L184.06 154.61 L184.77 154.74 L185.48 154.86 L186.19 154.98 L186.90 155.09 L187.61 155.20 L188.32 155.30 L189.02 155.40 L189.73 155.49 L190.44 155.58 L191.15 155.67 L191.86 155.75 L192.57 155.83 L193.28 155.91 L193.99 155.98 L194.70 156.05 L195.40 156.12 L196.11 156.18 L196.82 156.24 L197.53 156.30 L198.24 156.35 L198.95 156.40 L199.66 156.45 L200.37 156.50 L201.07 156.55 L201.78 156.59 L202.49 156.63 L203.20 156.67 L203.91 156.71 L204.62 156.75 L205.33 156.78 L206.04 156.82 L206.74 156.85 L207.45 156.88 L208.16 156.91 L208.87 156.93 L209.58 156.96 L210.29 156.99 L211.00 157.01 L211.71 157.03 L212.42 157.05 L213.12 157.08 L213.83 157.09 L214.54 157.11 L215.25 157.13 L215.96 157.15 L216.67 157.17 L217.38 157.18 L218.09 157.20 L218.79 157.21 L219.50 157.22 L220.21 157.24 L220.92 157.25 L221.63 157.26 L222.34 157.27 L223.05 157.28 L223.76 157.29 L224.46 157.30 L225.17 157.31 L225.88 157.32 L226.59 157.33 L227.30 157.34" fill="none" stroke="#a0a030" stroke-width="1.25" stroke-linejoin="round" />
<path d="M71.36 153.54 L72.07 153.26 L72.78 152.93 L73.49 152.54 L74.20 152.09 L74.91 151.60 L75.62 151.05 L76.33 150.45 L77.03 149.80 L77.74 149.10 L78.45 148.36 L79.16 147.56 L79.87 146.72 L80.58 145.84 L81.29 144.91 L82.00 143.94 L82.70 142.93 L83.41 141.87 L84.12 140.78 L84.83 139.65 L85.54 138.49 L86.25 137.29 L86.96 136.06 L87.67 134.80 L88.38 133.51 L89.08 132.20 L89.79 130.87 L90.50 129.53 L91.21 128.16 L91.92 126.79 L92.63 125.41 L93.34 124.02 L94.05 122.63 L94.75 121.25 L95.46 119.88 L96.17 118.51 L96.88 117.17 L97.59 115.84 L98.30 114.55 L99.01 113.28 L99.72 112.04 L100.42 110.85 L101.13 109.69 L101.84 108.59 L102.55 107.54 L103.26 106.54 L103.97 105.60 L104.68 104.73 L105.39 103.92 L106.10 103.19 L106.80 102.52 L107.51 101.93 L108.22 101.43 L108.93 101.00 L109.64 100.65 L110.35 100.39 L111.06 100.21 L111.77 100.12 L112.47 100.11 L113.18 100.16 L113.89 100.27 L114.60 100.44 L115.31 100.66 L116.02 100.94 L116.73 101.27 L117.44 101.65 L118.14 102.07 L118.85 102.54 L119.56 103.06 L120.27 103.61 L120.98 104.21 L121.69 104.84 L122.40 105.51 L123.11 106.21 L123.82 106.93 L124.52 107.69 L125.23 108.47 L125.94 109.27 L126.65 110.10 L127.36 110.94 L128.07 111.80 L128.78 112.67 L129.49 113.56 L130.19 114.46 L130.90 115.36 L131.61 116.27 L132.32 117.19 L133.03 118.11 L133.74 119.03 L134.45 119.95 L135.16 120.87 L135.86 121.79 L136.57 122.70 L137.28 123.61 L137.99 124.51 L138.70 125.40 L139.41 126.28 L140.12 127.16 L140.83 128.02 L141.54 128.88 L142.24 129.72 L142.95 130.55 L143.66 131.37 L144.37 132.17 L145.08 132.96 L145.79 133.73 L146.50 134.49 L147.21 135.23 L147.91 135.96 L148.62 136.67 L149.33 137.37 L150.04 138.05 L150.75 138.71 L151.46 139.36 L152.17 139.99 L152.88 140.60 L153.58 141.20 L154.29 141.78 L155.00 142.35 L155.71 142.90 L156.42 143.44 L157.13 143.96 L157.84 144.46 L158.55 144.95 L159.26 145.42 L159.96 145.88 L160.67 146.33 L161.38 146.76 L162.09 147.17 L162.80 147.58 L163.51 147.97 L164.22 148.34 L164.93 148.71 L165.63 149.06 L166.34 149.40 L167.05 149.72 L167.76 150.04 L168.47 150.34 L169.18 150.64 L169.89 150.92 L170.60 151.19 L171.30 151.45 L172.01 151.70 L172.72 151.95 L173.43 152.18 L174.14 152.40 L174.85 152.62 L175.56 152.83 L176.27 153.03 L176.98 153.22 L177.68 153.40 L178.39 153.58 L179.10 153.75 L179.81 153.91 L180.52 154.07 L181.23 154.22 L181.94 154.36 L182.65 154.50 L183.35 154.63 L184.06 154.76 L184.77 154.88 L185.48 154.99 L186.19 155.11 L186.90 155.21 L187.61 155.31 L188.32 155.41 L189.02 155.51 L189.73 155.60 L190.44 155.68 L191.15 155.76 L191.86 155.84 L192.57 155.92 L193.28 155.99 L193.99 156.06 L194.70 156.12 L195.40 156.18 L196.11 156.24 L196.82 156.30 L197.53 156.36 L198.24 156.41 L198.95 156.46 L199.66 156.51 L200.37 156.55 L201.07 156.60 L201.78 156.64 L202.49 156.68 L203.20 156.72 L203.91 156.75 L204.62 156.79 L205.33 156.82 L206.04 156.85 L206.74 156.88 L207.45 156.91 L208.16 156.94 L208.87 156.96 L209.58 156.99 L210.29 157.01 L211.00 157.03 L211.71 157.06 L212.42 157.08 L213.12 157.10 L213.83 157.12 L214.54 157.13 L215.25 157.15 L215.96 157.17 L216.67 157.18 L217.38 157.20 L218.09 157.21 L218.79 157.22 L219.50 157.24 L220.21 157.25 L220.92 157.26 L221.63 157.27 L222.34 157.28 L223.05 157.29 L223.76 157.30 L224.46 157.31 L225.17 157.32 L225.88 157.33 L226.59 157.34 L227.30 157.34" fill="none" stroke="#3a70d8" stroke-width="1.25" stroke-linejoin="round" />
<path d="M71.36 153.60 L72.07 153.36 L72.78 153.05 L73.49 152.70 L74.20 152.29 L74.91 151.83 L75.62 151.32 L76.33 150.76 L77.03 150.16 L77.74 149.50 L78.45 148.81 L79.16 148.06 L79.87 147.27 L80.58 146.44 L81.29 145.57 L82.00 144.65 L82.70 143.70 L83.41 142.71 L84.12 141.68 L84.83 140.61 L85.54 139.51 L86.25 138.38 L86.96 137.22 L87.67 136.04 L88.38 134.82 L89.08 133.59 L89.79 132.33 L90.50 131.06 L91.21 129.77 L91.92 128.47 L92.63 127.17 L93.34 125.86 L94.05 124.55 L94.75 123.24 L95.46 121.95 L96.17 120.66 L96.88 119.39 L97.59 118.14 L98.30 116.91 L99.01 115.71 L99.72 114.55 L100.42 113.42 L101.13 112.33 L101.84 111.29 L102.55 110.29 L103.26 109.35 L103.97 108.46 L104.68 107.64 L105.39 106.88 L106.10 106.18 L106.80 105.55 L107.51 105.00 L108.22 104.52 L108.93 104.11 L109.64 103.79 L110.35 103.54 L111.06 103.37 L111.77 103.28 L112.47 103.27 L113.18 103.32 L113.89 103.43 L114.60 103.58 L115.31 103.80 L116.02 104.06 L116.73 104.37 L117.44 104.73 L118.14 105.13 L118.85 105.57 L119.56 106.06 L120.27 106.59 L120.98 107.15 L121.69 107.75 L122.40 108.38 L123.11 109.04 L123.82 109.72 L124.52 110.44 L125.23 111.17 L125.94 111.93 L126.65 112.71 L127.36 113.51 L128.07 114.32 L128.78 115.15 L129.49 115.98 L130.19 116.83 L130.90 117.68 L131.61 118.55 L132.32 119.41 L133.03 120.28 L133.74 121.15 L134.45 122.02 L135.16 122.89 L135.86 123.76 L136.57 124.62 L137.28 125.48 L137.99 126.33 L138.70 127.17 L139.41 128.01 L140.12 128.83 L140.83 129.65 L141.54 130.46 L142.24 131.25 L142.95 132.04 L143.66 132.81 L144.37 133.57 L145.08 134.31 L145.79 135.04 L146.50 135.76 L147.21 136.46 L147.91 137.15 L148.62 137.82 L149.33 138.48 L150.04 139.12 L150.75 139.75 L151.46 140.36 L152.17 140.95 L152.88 141.54 L153.58 142.10 L154.29 142.65 L155.00 143.19 L155.71 143.71 L156.42 144.21 L157.13 144.70 L157.84 145.18 L158.55 145.64 L159.26 146.09 L159.96 146.52 L160.67 146.94 L161.38 147.35 L162.09 147.74 L162.80 148.12 L163.51 148.49 L164.22 148.85 L164.93 149.19 L165.63 149.52 L166.34 149.84 L167.05 150.15 L167.76 150.45 L168.47 150.74 L169.18 151.01 L169.89 151.28 L170.60 151.54 L171.30 151.79 L172.01 152.02 L172.72 152.25 L173.43 152.47 L174.14 152.69 L174.85 152.89 L175.56 153.09 L176.27 153.27 L176.98 153.45 L177.68 153.63 L178.39 153.80 L179.10 153.96 L179.81 154.11 L180.52 154.26 L181.23 154.40 L181.94 154.53 L182.65 154.66 L183.35 154.79 L184.06 154.91 L184.77 155.02 L185.48 155.13 L186.19 155.24 L186.90 155.34 L187.61 155.43 L188.32 155.53 L189.02 155.62 L189.73 155.70 L190.44 155.78 L191.15 155.86 L191.86 155.93 L192.57 156.00 L193.28 156.07 L193.99 156.14 L194.70 156.20 L195.40 156.26 L196.11 156.31 L196.82 156.37 L197.53 156.42 L198.24 156.47 L198.95 156.52 L199.66 156.56 L200.37 156.60 L201.07 156.65 L201.78 156.69 L202.49 156.72 L203.20 156.76 L203.91 156.79 L204.62 156.83 L205.33 156.86 L206.04 156.89 L206.74 156.91 L207.45 156.94 L208.16 156.97 L208.87 156.99 L209.58 157.02 L210.29 157.04 L211.00 157.06 L211.71 157.08 L212.42 157.10 L213.12 157.12 L213.83 157.14 L214.54 157.15 L215.25 157.17 L215.96 157.18 L216.67 157.20 L217.38 157.21 L218.09 157.23 L218.79 157.24 L219.50 157.25 L220.21 157.26 L220.92 157.27 L221.63 157.29 L222.34 157.30 L223.05 157.30 L223.76 157.31 L224.46 157.32 L225.17 157.33 L225.88 157.34 L226.59 157.35 L227.30 157.35" fill="none" stroke="#2aaa6a" stroke-width="1.25" stroke-linejoin="round" />
<path d="M71.36 153.70 L72.07 153.50 L72.78 153.24 L73.49 152.94 L74.20 152.58 L74.91 152.18 L75.62 151.72 L76.33 151.23 L77.03 150.68 L77.74 150.10 L78.45 149.47 L79.16 148.80 L79.87 148.08 L80.58 147.33 L81.29 146.54 L82.00 145.71 L82.70 144.84 L83.41 143.94 L84.12 143.00 L84.83 142.03 L85.54 141.03 L86.25 140.00 L86.96 138.95 L87.67 137.86 L88.38 136.76 L89.08 135.63 L89.79 134.49 L90.50 133.32 L91.21 132.15 L91.92 130.97 L92.63 129.77 L93.34 128.58 L94.05 127.38 L94.75 126.19 L95.46 125.01 L96.17 123.83 L96.88 122.67 L97.59 121.53 L98.30 120.41 L99.01 119.31 L99.72 118.25 L100.42 117.22 L101.13 116.22 L101.84 115.27 L102.55 114.36 L103.26 113.50 L103.97 112.69 L104.68 111.94 L105.39 111.24 L106.10 110.61 L106.80 110.03 L107.51 109.53 L108.22 109.09 L108.93 108.72 L109.64 108.42 L110.35 108.19 L111.06 108.04 L111.77 107.96 L112.47 107.95 L113.18 108.00 L113.89 108.09 L114.60 108.24 L115.31 108.43 L116.02 108.67 L116.73 108.95 L117.44 109.28 L118.14 109.65 L118.85 110.05 L119.56 110.50 L120.27 110.98 L120.98 111.49 L121.69 112.04 L122.40 112.61 L123.11 113.22 L123.82 113.85 L124.52 114.50 L125.23 115.17 L125.94 115.87 L126.65 116.58 L127.36 117.31 L128.07 118.05 L128.78 118.80 L129.49 119.57 L130.19 120.34 L130.90 121.12 L131.61 121.91 L132.32 122.70 L133.03 123.49 L133.74 124.29 L134.45 125.08 L135.16 125.88 L135.86 126.67 L136.57 127.46 L137.28 128.24 L137.99 129.02 L138.70 129.79 L139.41 130.55 L140.12 131.31 L140.83 132.05 L141.54 132.79 L142.24 133.52 L142.95 134.23 L143.66 134.94 L144.37 135.63 L145.08 136.31 L145.79 136.98 L146.50 137.63 L147.21 138.28 L147.91 138.90 L148.62 139.52 L149.33 140.12 L150.04 140.71 L150.75 141.28 L151.46 141.84 L152.17 142.38 L152.88 142.91 L153.58 143.43 L154.29 143.93 L155.00 144.42 L155.71 144.90 L156.42 145.36 L157.13 145.81 L157.84 146.24 L158.55 146.66 L159.26 147.07 L159.96 147.47 L160.67 147.85 L161.38 148.23 L162.09 148.59 L162.80 148.93 L163.51 149.27 L164.22 149.59 L164.93 149.91 L165.63 150.21 L166.34 150.50 L167.05 150.79 L167.76 151.06 L168.47 151.32 L169.18 151.57 L169.89 151.82 L170.60 152.05 L171.30 152.28 L172.01 152.50 L172.72 152.71 L173.43 152.91 L174.14 153.10 L174.85 153.29 L175.56 153.47 L176.27 153.64 L176.98 153.80 L177.68 153.96 L178.39 154.11 L179.10 154.26 L179.81 154.40 L180.52 154.54 L181.23 154.67 L181.94 154.79 L182.65 154.91 L183.35 155.02 L184.06 155.13 L184.77 155.24 L185.48 155.34 L186.19 155.43 L186.90 155.52 L187.61 155.61 L188.32 155.70 L189.02 155.78 L189.73 155.86 L190.44 155.93 L191.15 156.00 L191.86 156.07 L192.57 156.13 L193.28 156.19 L193.99 156.25 L194.70 156.31 L195.40 156.36 L196.11 156.42 L196.82 156.47 L197.53 156.51 L198.24 156.56 L198.95 156.60 L199.66 156.64 L200.37 156.68 L201.07 156.72 L201.78 156.76 L202.49 156.79 L203.20 156.82 L203.91 156.85 L204.62 156.88 L205.33 156.91 L206.04 156.94 L206.74 156.97 L207.45 156.99 L208.16 157.01 L208.87 157.04 L209.58 157.06 L210.29 157.08 L211.00 157.10 L211.71 157.12 L212.42 157.13 L213.12 157.15 L213.83 157.17 L214.54 157.18 L215.25 157.20 L215.96 157.21 L216.67 157.23 L217.38 157.24 L218.09 157.25 L218.79 157.26 L219.50 157.27 L220.21 157.28 L220.92 157.29 L221.63 157.30 L222.34 157.31 L223.05 157.32 L223.76 157.33 L224.46 157.34 L225.17 157.35 L225.88 157.35 L226.59 157.36 L227.30 157.37" fill="none" stroke="#c8844a" stroke-width="1.25" stroke-linejoin="round" />
<rect x="50.1" y="19.7" width="195.4" height="151.7" fill="none" stroke="#4a4a4a" stroke-width="1.3"/>
<line x1="50.1" y1="171.4" x2="50.1" y2="174.4" stroke="#4a4a4a" stroke-width="1.0" />
<line x1="85.54" y1="171.4" x2="85.54" y2="174.4" stroke="#4a4a4a" stroke-width="1.0" />
<line x1="120.98" y1="171.4" x2="120.98" y2="174.4" stroke="#4a4a4a" stroke-width="1.0" />
<line x1="156.42" y1="171.4" x2="156.42" y2="174.4" stroke="#4a4a4a" stroke-width="1.0" />
<line x1="191.86" y1="171.4" x2="191.86" y2="174.4" stroke="#4a4a4a" stroke-width="1.0" />
<line x1="227.3" y1="171.4" x2="227.3" y2="174.4" stroke="#4a4a4a" stroke-width="1.0" />
<line x1="67.82" y1="171.4" x2="67.82" y2="173.4" stroke="#4a4a4a" stroke-width="1.0" />
<line x1="103.26" y1="171.4" x2="103.26" y2="173.4" stroke="#4a4a4a" stroke-width="1.0" />
<line x1="138.7" y1="171.4" x2="138.7" y2="173.4" stroke="#4a4a4a" stroke-width="1.0" />
<line x1="174.14" y1="171.4" x2="174.14" y2="173.4" stroke="#4a4a4a" stroke-width="1.0" />
<line x1="209.58" y1="171.4" x2="209.58" y2="173.4" stroke="#4a4a4a" stroke-width="1.0" />
<line x1="245.02" y1="171.4" x2="245.02" y2="173.4" stroke="#4a4a4a" stroke-width="1.0" />
<line x1="50.1" y1="157.5" x2="47.1" y2="157.5" stroke="#4a4a4a" stroke-width="1.0" />
<line x1="50.1" y1="129.94" x2="47.1" y2="129.94" stroke="#4a4a4a" stroke-width="1.0" />
<line x1="50.1" y1="102.38" x2="47.1" y2="102.38" stroke="#4a4a4a" stroke-width="1.0" />
<line x1="50.1" y1="74.82" x2="47.1" y2="74.82" stroke="#4a4a4a" stroke-width="1.0" />
<line x1="50.1" y1="47.26" x2="47.1" y2="47.26" stroke="#4a4a4a" stroke-width="1.0" />
<line x1="50.1" y1="19.7" x2="47.1" y2="19.7" stroke="#4a4a4a" stroke-width="1.0" />
<line x1="50.1" y1="171.28" x2="48.1" y2="171.28" stroke="#4a4a4a" stroke-width="1.0" />
<line x1="50.1" y1="143.72" x2="48.1" y2="143.72" stroke="#4a4a4a" stroke-width="1.0" />
<line x1="50.1" y1="116.16" x2="48.1" y2="116.16" stroke="#4a4a4a" stroke-width="1.0" />
<line x1="50.1" y1="88.6" x2="48.1" y2="88.6" stroke="#4a4a4a" stroke-width="1.0" />
<line x1="50.1" y1="61.04" x2="48.1" y2="61.04" stroke="#4a4a4a" stroke-width="1.0" />
<line x1="50.1" y1="33.48" x2="48.1" y2="33.48" stroke="#4a4a4a" stroke-width="1.0" />
<text x="50.1" y="184.4" font-size="10.4" text-anchor="middle" font-weight="bold" fill="#000" >350</text>
<text x="85.54" y="184.4" font-size="10.4" text-anchor="middle" font-weight="bold" fill="#000" >400</text>
<text x="120.98" y="184.4" font-size="10.4" text-anchor="middle" font-weight="bold" fill="#000" >450</text>
<text x="156.42" y="184.4" font-size="10.4" text-anchor="middle" font-weight="bold" fill="#000" >500</text>
<text x="191.86" y="184.4" font-size="10.4" text-anchor="middle" font-weight="bold" fill="#000" >550</text>
<text x="227.3" y="184.4" font-size="10.4" text-anchor="middle" font-weight="bold" fill="#000" >600</text>
<text x="45.2" y="161.2" font-size="10.4" text-anchor="end" font-weight="bold" fill="#000" >0</text>
<text x="45.2" y="133.64" font-size="10.4" text-anchor="end" font-weight="bold" fill="#000" >200</text>
<text x="45.2" y="106.08" font-size="10.4" text-anchor="end" font-weight="bold" fill="#000" >400</text>
<text x="45.2" y="78.52" font-size="10.4" text-anchor="end" font-weight="bold" fill="#000" >600</text>
<text x="45.2" y="50.96" font-size="10.4" text-anchor="end" font-weight="bold" fill="#000" >800</text>
<text x="45.2" y="23.4" font-size="10.4" text-anchor="end" font-weight="bold" fill="#000" >1000</text>
<text x="148" y="203.3" font-size="11.5" text-anchor="middle" font-weight="bold" fill="#000" >Wavelength (nm)</text>
<text x="10.6" y="102.5" font-size="11.2" text-anchor="middle" font-weight="bold" fill="#000" transform="rotate(-90 10.6 102.5)"  textLength="146.5" lengthAdjust="spacingAndGlyphs">Fluorescence Intensity (a.u.)</text>
<text x="204.5" y="59.7" font-size="10.2" text-anchor="middle" font-weight="bold" fill="#000" >0</text>
<line x1="204.5" y1="62" x2="204.5" y2="92" stroke="#222" stroke-width="1.0" />
<path d="M202.6 91.2 L206.4 91.2 L204.5 96 Z" fill="#222"/>
<text x="204.7" y="108.7" font-size="10.2" text-anchor="middle" font-weight="bold" fill="#000" >600</text>
<text x="271.4" y="15" font-size="19" text-anchor="start" font-weight="bold" fill="#000" >b</text>
<rect x="313.7" y="11.8" width="204.3" height="156.45" fill="none" stroke="#4a4a4a" stroke-width="1.3"/>
<line x1="328.3" y1="168.25" x2="328.3" y2="171.25" stroke="#4a4a4a" stroke-width="1.0" />
<line x1="372.1" y1="168.25" x2="372.1" y2="171.25" stroke="#4a4a4a" stroke-width="1.0" />
<line x1="415.9" y1="168.25" x2="415.9" y2="171.25" stroke="#4a4a4a" stroke-width="1.0" />
<line x1="459.7" y1="168.25" x2="459.7" y2="171.25" stroke="#4a4a4a" stroke-width="1.0" />
<line x1="503.5" y1="168.25" x2="503.5" y2="171.25" stroke="#4a4a4a" stroke-width="1.0" />
<line x1="350.2" y1="168.25" x2="350.2" y2="170.25" stroke="#4a4a4a" stroke-width="1.0" />
<line x1="394" y1="168.25" x2="394" y2="170.25" stroke="#4a4a4a" stroke-width="1.0" />
<line x1="437.8" y1="168.25" x2="437.8" y2="170.25" stroke="#4a4a4a" stroke-width="1.0" />
<line x1="481.6" y1="168.25" x2="481.6" y2="170.25" stroke="#4a4a4a" stroke-width="1.0" />
<line x1="525.4" y1="168.25" x2="525.4" y2="170.25" stroke="#4a4a4a" stroke-width="1.0" />
<line x1="313.7" y1="168.25" x2="310.7" y2="168.25" stroke="#4a4a4a" stroke-width="1.0" />
<line x1="313.7" y1="131.54" x2="310.7" y2="131.54" stroke="#4a4a4a" stroke-width="1.0" />
<line x1="313.7" y1="94.82" x2="310.7" y2="94.82" stroke="#4a4a4a" stroke-width="1.0" />
<line x1="313.7" y1="58.11" x2="310.7" y2="58.11" stroke="#4a4a4a" stroke-width="1.0" />
<line x1="313.7" y1="21.4" x2="310.7" y2="21.4" stroke="#4a4a4a" stroke-width="1.0" />
<line x1="313.7" y1="149.89" x2="311.7" y2="149.89" stroke="#4a4a4a" stroke-width="1.0" />
<line x1="313.7" y1="113.18" x2="311.7" y2="113.18" stroke="#4a4a4a" stroke-width="1.0" />
<line x1="313.7" y1="76.47" x2="311.7" y2="76.47" stroke="#4a4a4a" stroke-width="1.0" />
<line x1="313.7" y1="39.76" x2="311.7" y2="39.76" stroke="#4a4a4a" stroke-width="1.0" />
<text x="328.3" y="183.2" font-size="10.4" text-anchor="middle" font-weight="bold" fill="#000" >0</text>
<text x="372.1" y="183.2" font-size="10.4" text-anchor="middle" font-weight="bold" fill="#000" >150</text>
<text x="415.9" y="183.2" font-size="10.4" text-anchor="middle" font-weight="bold" fill="#000" >300</text>
<text x="459.7" y="183.2" font-size="10.4" text-anchor="middle" font-weight="bold" fill="#000" >450</text>
<text x="503.5" y="183.2" font-size="10.4" text-anchor="middle" font-weight="bold" fill="#000" >600</text>
<text x="308.6" y="171.95" font-size="10.4" text-anchor="end" font-weight="bold" fill="#000" >0.8</text>
<text x="308.6" y="135.24" font-size="10.4" text-anchor="end" font-weight="bold" fill="#000" >1.2</text>
<text x="308.6" y="98.52" font-size="10.4" text-anchor="end" font-weight="bold" fill="#000" >1.6</text>
<text x="308.6" y="61.81" font-size="10.4" text-anchor="end" font-weight="bold" fill="#000" >2.0</text>
<text x="308.6" y="25.1" font-size="10.4" text-anchor="end" font-weight="bold" fill="#000" >2.4</text>
<text x="416.5" y="202.3" font-size="11.5" text-anchor="middle" font-weight="bold" fill="#000" >Volume of AuNPs (mL)</text>
<text transform="translate(282.4 98) rotate(-90)" font-size="11.5" font-weight="bold" text-anchor="middle">F<tspan dy="2.6" font-size="10.2">0</tspan><tspan dy="-2.6">/F</tspan></text>
<line x1="328.2" y1="156.6" x2="503.8" y2="30.8" stroke="#111" stroke-width="1.0" />
<line x1="328.3" y1="148.06" x2="328.3" y2="151.73" stroke="#9a9a9a" stroke-width="0.8" />
<line x1="326.3" y1="148.06" x2="330.3" y2="148.06" stroke="#9a9a9a" stroke-width="0.8" />
<line x1="326.3" y1="151.73" x2="330.3" y2="151.73" stroke="#9a9a9a" stroke-width="0.8" />
<rect x="326.4" y="147.99" width="3.8" height="3.8" fill="#111"/>
<line x1="342.9" y1="140.71" x2="342.9" y2="146.23" stroke="#9a9a9a" stroke-width="0.8" />
<line x1="340.9" y1="140.71" x2="344.9" y2="140.71" stroke="#9a9a9a" stroke-width="0.8" />
<line x1="340.9" y1="146.23" x2="344.9" y2="146.23" stroke="#9a9a9a" stroke-width="0.8" />
<rect x="341" y="141.57" width="3.8" height="3.8" fill="#111"/>
<line x1="357.5" y1="133.37" x2="357.5" y2="138.88" stroke="#9a9a9a" stroke-width="0.8" />
<line x1="355.5" y1="133.37" x2="359.5" y2="133.37" stroke="#9a9a9a" stroke-width="0.8" />
<line x1="355.5" y1="138.88" x2="359.5" y2="138.88" stroke="#9a9a9a" stroke-width="0.8" />
<rect x="355.6" y="134.23" width="3.8" height="3.8" fill="#111"/>
<line x1="372.1" y1="123.27" x2="372.1" y2="128.79" stroke="#9a9a9a" stroke-width="0.8" />
<line x1="370.1" y1="123.27" x2="374.1" y2="123.27" stroke="#9a9a9a" stroke-width="0.8" />
<line x1="370.1" y1="128.79" x2="374.1" y2="128.79" stroke="#9a9a9a" stroke-width="0.8" />
<rect x="370.2" y="124.13" width="3.8" height="3.8" fill="#111"/>
<line x1="386.7" y1="115.01" x2="386.7" y2="120.53" stroke="#9a9a9a" stroke-width="0.8" />
<line x1="384.7" y1="115.01" x2="388.7" y2="115.01" stroke="#9a9a9a" stroke-width="0.8" />
<line x1="384.7" y1="120.53" x2="388.7" y2="120.53" stroke="#9a9a9a" stroke-width="0.8" />
<rect x="384.8" y="115.87" width="3.8" height="3.8" fill="#111"/>
<line x1="401.3" y1="104" x2="401.3" y2="111.35" stroke="#9a9a9a" stroke-width="0.8" />
<line x1="399.3" y1="104" x2="403.3" y2="104" stroke="#9a9a9a" stroke-width="0.8" />
<line x1="399.3" y1="111.35" x2="403.3" y2="111.35" stroke="#9a9a9a" stroke-width="0.8" />
<rect x="399.4" y="105.77" width="3.8" height="3.8" fill="#111"/>
<line x1="415.9" y1="92.98" x2="415.9" y2="100.34" stroke="#9a9a9a" stroke-width="0.8" />
<line x1="413.9" y1="92.98" x2="417.9" y2="92.98" stroke="#9a9a9a" stroke-width="0.8" />
<line x1="413.9" y1="100.34" x2="417.9" y2="100.34" stroke="#9a9a9a" stroke-width="0.8" />
<rect x="414" y="94.76" width="3.8" height="3.8" fill="#111"/>
<line x1="430.5" y1="85.64" x2="430.5" y2="92.99" stroke="#9a9a9a" stroke-width="0.8" />
<line x1="428.5" y1="85.64" x2="432.5" y2="85.64" stroke="#9a9a9a" stroke-width="0.8" />
<line x1="428.5" y1="92.99" x2="432.5" y2="92.99" stroke="#9a9a9a" stroke-width="0.8" />
<rect x="428.6" y="87.42" width="3.8" height="3.8" fill="#111"/>
<line x1="445.1" y1="70.96" x2="445.1" y2="80.15" stroke="#9a9a9a" stroke-width="0.8" />
<line x1="443.1" y1="70.96" x2="447.1" y2="70.96" stroke="#9a9a9a" stroke-width="0.8" />
<line x1="443.1" y1="80.15" x2="447.1" y2="80.15" stroke="#9a9a9a" stroke-width="0.8" />
<rect x="443.2" y="73.65" width="3.8" height="3.8" fill="#111"/>
<line x1="459.7" y1="56.27" x2="459.7" y2="65.46" stroke="#9a9a9a" stroke-width="0.8" />
<line x1="457.7" y1="56.27" x2="461.7" y2="56.27" stroke="#9a9a9a" stroke-width="0.8" />
<line x1="457.7" y1="65.46" x2="461.7" y2="65.46" stroke="#9a9a9a" stroke-width="0.8" />
<rect x="457.8" y="58.97" width="3.8" height="3.8" fill="#111"/>
<line x1="474.3" y1="48.93" x2="474.3" y2="59.96" stroke="#9a9a9a" stroke-width="0.8" />
<line x1="472.3" y1="48.93" x2="476.3" y2="48.93" stroke="#9a9a9a" stroke-width="0.8" />
<line x1="472.3" y1="59.96" x2="476.3" y2="59.96" stroke="#9a9a9a" stroke-width="0.8" />
<rect x="472.4" y="52.54" width="3.8" height="3.8" fill="#111"/>
<line x1="488.9" y1="32.41" x2="488.9" y2="45.27" stroke="#9a9a9a" stroke-width="0.8" />
<line x1="486.9" y1="32.41" x2="490.9" y2="32.41" stroke="#9a9a9a" stroke-width="0.8" />
<line x1="486.9" y1="45.27" x2="490.9" y2="45.27" stroke="#9a9a9a" stroke-width="0.8" />
<rect x="487" y="36.94" width="3.8" height="3.8" fill="#111"/>
<line x1="503.5" y1="17.72" x2="503.5" y2="30.59" stroke="#9a9a9a" stroke-width="0.8" />
<line x1="501.5" y1="17.72" x2="505.5" y2="17.72" stroke="#9a9a9a" stroke-width="0.8" />
<line x1="501.5" y1="30.59" x2="505.5" y2="30.59" stroke="#9a9a9a" stroke-width="0.8" />
<rect x="501.6" y="22.25" width="3.8" height="3.8" fill="#111"/>
<text x="333.3" y="40.8" font-size="10.5" font-weight="bold">y = 0.0023 V<tspan dy="3.4" font-size="10.8">AuNPs</tspan><tspan dy="-3.4" font-size="10.7"> + 0.9398</tspan></text>
<text x="333.3" y="61.5" font-size="10.5" font-weight="bold">R<tspan dy="-4.5" font-size="10">2</tspan><tspan dy="4.5"> = 0.991</tspan></text>
<text x="0.5" y="233.2" font-size="18" text-anchor="start" font-weight="bold" fill="#000" >c</text>
<path d="M33.75 312.92 L34.25 313.14 L34.75 313.35 L35.26 313.57 L35.76 313.78 L36.26 314.00 L36.76 314.22 L37.27 314.44 L37.77 314.66 L38.27 314.88 L38.77 315.10 L39.27 315.32 L39.78 315.54 L40.28 315.77 L40.78 316.00 L41.28 316.23 L41.78 316.46 L42.29 316.69 L42.79 316.93 L43.29 317.17 L43.79 317.41 L44.30 317.66 L44.80 317.90 L45.30 318.15 L45.80 318.39 L46.30 318.63 L46.81 318.86 L47.31 319.08 L47.81 319.30 L48.31 319.50 L48.81 319.69 L49.32 319.86 L49.82 320.02 L50.32 320.16 L50.82 320.27 L51.33 320.37 L51.83 320.44 L52.33 320.48 L52.83 320.51 L53.33 320.51 L53.84 320.49 L54.34 320.46 L54.84 320.42 L55.34 320.36 L55.85 320.30 L56.35 320.24 L56.85 320.17 L57.35 320.11 L57.85 320.05 L58.36 319.99 L58.86 319.95 L59.36 319.92 L59.86 319.90 L60.36 319.89 L60.87 319.90 L61.37 319.92 L61.87 319.95 L62.37 319.99 L62.88 320.05 L63.38 320.12 L63.88 320.20 L64.38 320.30 L64.88 320.41 L65.39 320.54 L65.89 320.69 L66.39 320.85 L66.89 321.02 L67.40 321.22 L67.90 321.43 L68.40 321.67 L68.90 321.92 L69.40 322.19 L69.91 322.49 L70.41 322.80 L70.91 323.14 L71.41 323.49 L71.91 323.86 L72.42 324.24 L72.92 324.63 L73.42 325.04 L73.92 325.45 L74.43 325.87 L74.93 326.29 L75.43 326.72 L75.93 327.15 L76.43 327.57 L76.94 328.00 L77.44 328.42 L77.94 328.83 L78.44 329.24 L78.94 329.63 L79.45 330.02 L79.95 330.40 L80.45 330.76 L80.95 331.11 L81.46 331.45 L81.96 331.78 L82.46 332.09 L82.96 332.39 L83.46 332.67 L83.97 332.93 L84.47 333.18 L84.97 333.41 L85.47 333.62 L85.98 333.82 L86.48 334.01 L86.98 334.18 L87.48 334.34 L87.98 334.49 L88.49 334.62 L88.99 334.75 L89.49 334.87 L89.99 334.98 L90.49 335.08 L91.00 335.18 L91.50 335.27 L92.00 335.35 L92.50 335.44 L93.01 335.51 L93.51 335.59 L94.01 335.66 L94.51 335.74 L95.01 335.81 L95.52 335.88 L96.02 335.95 L96.52 336.02 L97.02 336.09 L97.53 336.16 L98.03 336.22 L98.53 336.28 L99.03 336.34 L99.53 336.40 L100.04 336.45 L100.54 336.50 L101.04 336.55 L101.54 336.59 L102.04 336.64 L102.55 336.67 L103.05 336.71 L103.55 336.74 L104.05 336.76 L104.56 336.78 L105.06 336.80 L105.56 336.81 L106.06 336.82 L106.56 336.82 L107.07 336.81 L107.57 336.80 L108.07 336.78 L108.57 336.76 L109.08 336.72 L109.58 336.68 L110.08 336.64 L110.58 336.58 L111.08 336.52 L111.59 336.44 L112.09 336.36 L112.59 336.27 L113.09 336.17 L113.59 336.07 L114.10 335.95 L114.60 335.83 L115.10 335.69 L115.60 335.55 L116.11 335.40 L116.61 335.24 L117.11 335.08 L117.61 334.90 L118.11 334.72 L118.62 334.53 L119.12 334.33 L119.62 334.13 L120.12 333.91 L120.62 333.69 L121.13 333.46 L121.63 333.22 L122.13 332.98 L122.63 332.72 L123.14 332.46 L123.64 332.18 L124.14 331.88 L124.64 331.56 L125.14 331.22 L125.65 330.86 L126.15 330.47 L126.65 330.06 L127.15 329.61 L127.66 329.13 L128.16 328.61 L128.66 328.06 L129.16 327.47 L129.66 326.83 L130.17 326.16 L130.67 325.45 L131.17 324.71 L131.67 323.95 L132.17 323.17 L132.68 322.36 L133.18 321.54 L133.68 320.72 L134.18 319.88 L134.69 319.05 L135.19 318.21 L135.69 317.38 L136.19 316.56 L136.69 315.76 L137.20 314.97 L137.70 314.21 L138.20 313.47 L138.70 312.76 L139.20 312.09 L139.71 311.45 L140.21 310.86 L140.71 310.31 L141.21 309.82 L141.72 309.38 L142.22 309.01 L142.72 308.69 L143.22 308.45 L143.72 308.28 L144.23 308.18 L144.73 308.17 L145.23 308.24 L145.73 308.40 L146.24 308.64 L146.74 308.97 L147.24 309.37 L147.74 309.85 L148.24 310.39 L148.75 311.00 L149.25 311.67 L149.75 312.39 L150.25 313.17 L150.75 313.99 L151.26 314.86 L151.76 315.77 L152.26 316.71 L152.76 317.68 L153.27 318.68 L153.77 319.69 L154.27 320.73 L154.77 321.78 L155.27 322.85 L155.78 323.92 L156.28 325.00 L156.78 326.10 L157.28 327.20 L157.79 328.31 L158.29 329.42 L158.79 330.53 L159.29 331.65 L159.79 332.77 L160.30 333.89 L160.80 335.01 L161.30 336.13 L161.80 337.24 L162.30 338.35 L162.81 339.45 L163.31 340.55 L163.81 341.64 L164.31 342.71 L164.82 343.78 L165.32 344.83 L165.82 345.86 L166.32 346.88 L166.82 347.88 L167.33 348.86 L167.83 349.82 L168.33 350.76 L168.83 351.68 L169.34 352.57 L169.84 353.43 L170.34 354.26 L170.84 355.07 L171.34 355.84 L171.85 356.59 L172.35 357.32 L172.85 358.02 L173.35 358.69 L173.85 359.34 L174.36 359.96 L174.86 360.56 L175.36 361.13 L175.86 361.69 L176.37 362.22 L176.87 362.72 L177.37 363.21 L177.87 363.67 L178.37 364.12 L178.88 364.54 L179.38 364.94 L179.88 365.33 L180.38 365.69 L180.88 366.04 L181.39 366.37 L181.89 366.69 L182.39 366.99 L182.89 367.27 L183.40 367.54 L183.90 367.79 L184.40 368.04 L184.90 368.27 L185.40 368.48 L185.91 368.69 L186.41 368.89 L186.91 369.08 L187.41 369.25 L187.92 369.42 L188.42 369.59 L188.92 369.74 L189.42 369.89 L189.92 370.04 L190.43 370.18 L190.93 370.31 L191.43 370.44 L191.93 370.57 L192.43 370.70 L192.94 370.82 L193.44 370.94 L193.94 371.06 L194.44 371.17 L194.95 371.28 L195.45 371.39 L195.95 371.50 L196.45 371.60 L196.95 371.70 L197.46 371.80 L197.96 371.90 L198.46 371.99 L198.96 372.08 L199.47 372.17 L199.97 372.26 L200.47 372.35 L200.97 372.44 L201.47 372.52 L201.98 372.60 L202.48 372.68 L202.98 372.76 L203.48 372.84 L203.98 372.92 L204.49 373.00 L204.99 373.07 L205.49 373.15 L205.99 373.22 L206.50 373.30 L207.00 373.37 L207.50 373.44 L208.00 373.51 L208.50 373.58 L209.01 373.66 L209.51 373.73" fill="none" stroke="#ff2020" stroke-width="1.05" stroke-linejoin="round" />
<path d="M73.92 370.83 L74.43 369.77 L74.93 368.65 L75.43 367.47 L75.93 366.23 L76.43 364.92 L76.94 363.56 L77.44 362.12 L77.94 360.63 L78.44 359.06 L78.94 357.43 L79.45 355.72 L79.95 353.95 L80.45 352.11 L80.95 350.19 L81.46 348.21 L81.96 346.15 L82.46 344.03 L82.96 341.84 L83.46 339.58 L83.97 337.26 L84.47 334.87 L84.97 332.43 L85.47 329.93 L85.98 327.38 L86.48 324.78 L86.98 322.14 L87.48 319.46 L87.98 316.74 L88.49 314.00 L88.99 311.24 L89.49 308.46 L89.99 305.68 L90.49 302.89 L91.00 300.12 L91.50 297.36 L92.00 294.63 L92.50 291.92 L93.01 289.26 L93.51 286.65 L94.01 284.10 L94.51 281.62 L95.01 279.22 L95.52 276.90 L96.02 274.68 L96.52 272.56 L97.02 270.55 L97.53 268.66 L98.03 266.89 L98.53 265.26 L99.03 263.77 L99.53 262.43 L100.04 261.24 L100.54 260.21 L101.04 259.34 L101.54 258.63 L102.04 258.09 L102.55 257.72 L103.05 257.53 L103.55 257.50 L104.05 257.60 L104.56 257.82 L105.06 258.16 L105.56 258.60 L106.06 259.16 L106.56 259.82 L107.07 260.58 L107.57 261.43 L108.07 262.38 L108.57 263.42 L109.08 264.54 L109.58 265.74 L110.08 267.01 L110.58 268.36 L111.08 269.76 L111.59 271.23 L112.09 272.76 L112.59 274.33 L113.09 275.95 L113.59 277.62 L114.10 279.32 L114.60 281.06 L115.10 282.82 L115.60 284.61 L116.11 286.43 L116.61 288.25 L117.11 290.10 L117.61 291.95 L118.11 293.81 L118.62 295.67 L119.12 297.54 L119.62 299.40 L120.12 301.25 L120.62 303.10 L121.13 304.94 L121.63 306.76 L122.13 308.57 L122.63 310.37 L123.14 312.14 L123.64 313.89 L124.14 315.62 L124.64 317.33 L125.14 319.01 L125.65 320.66 L126.15 322.29 L126.65 323.88 L127.15 325.45 L127.66 326.99 L128.16 328.50 L128.66 329.97 L129.16 331.41 L129.66 332.83 L130.17 334.20 L130.67 335.55 L131.17 336.86 L131.67 338.14 L132.17 339.39 L132.68 340.61 L133.18 341.79 L133.68 342.94 L134.18 344.05 L134.69 345.14 L135.19 346.19 L135.69 347.22 L136.19 348.21 L136.69 349.17 L137.20 350.10 L137.70 351.01 L138.20 351.88 L138.70 352.73 L139.20 353.54 L139.71 354.33 L140.21 355.10 L140.71 355.84 L141.21 356.55 L141.72 357.24 L142.22 357.90 L142.72 358.54 L143.22 359.16 L143.72 359.75 L144.23 360.33 L144.73 360.88 L145.23 361.41 L145.73 361.92 L146.24 362.42 L146.74 362.89 L147.24 363.35 L147.74 363.78 L148.24 364.21 L148.75 364.61 L149.25 365.00 L149.75 365.37 L150.25 365.73 L150.75 366.08 L151.26 366.41 L151.76 366.72 L152.26 367.03 L152.76 367.32 L153.27 367.60 L153.77 367.87 L154.27 368.12 L154.77 368.37 L155.27 368.61 L155.78 368.83 L156.28 369.05 L156.78 369.26 L157.28 369.46 L157.79 369.65 L158.29 369.83 L158.79 370.00 L159.29 370.17 L159.79 370.33 L160.30 370.48 L160.80 370.63 L161.30 370.77 L161.80 370.90 L162.30 371.03 L162.81 371.15 L163.31 371.27 L163.81 371.38 L164.31 371.48 L164.82 371.58 L165.32 371.68 L165.82 371.77 L166.32 371.86 L166.82 371.95 L167.33 372.03 L167.83 372.11 L168.33 372.18 L168.83 372.25 L169.34 372.32 L169.84 372.38 L170.34 372.44 L170.84 372.50 L171.34 372.56 L171.85 372.61 L172.35 372.66 L172.85 372.71 L173.35 372.75 L173.85 372.80 L174.36 372.84 L174.86 372.88 L175.36 372.92 L175.86 372.95 L176.37 372.99 L176.87 373.02 L177.37 373.05 L177.87 373.08 L178.37 373.11 L178.88 373.14 L179.38 373.17 L179.88 373.19 L180.38 373.21 L180.88 373.24 L181.39 373.26 L181.89 373.28 L182.39 373.30 L182.89 373.32 L183.40 373.34 L183.90 373.35 L184.40 373.37" fill="none" stroke="#222222" stroke-width="1.05" stroke-linejoin="round" />
<rect x="33.75" y="236.3" width="175.95" height="151.5" fill="none" stroke="#4a4a4a" stroke-width="1.3"/>
<line x1="33.75" y1="387.8" x2="33.75" y2="390.8" stroke="#4a4a4a" stroke-width="1.0" />
<line x1="83.97" y1="387.8" x2="83.97" y2="390.8" stroke="#4a4a4a" stroke-width="1.0" />
<line x1="134.18" y1="387.8" x2="134.18" y2="390.8" stroke="#4a4a4a" stroke-width="1.0" />
<line x1="184.4" y1="387.8" x2="184.4" y2="390.8" stroke="#4a4a4a" stroke-width="1.0" />
<line x1="58.86" y1="387.8" x2="58.86" y2="389.8" stroke="#4a4a4a" stroke-width="1.0" />
<line x1="109.08" y1="387.8" x2="109.08" y2="389.8" stroke="#4a4a4a" stroke-width="1.0" />
<line x1="159.29" y1="387.8" x2="159.29" y2="389.8" stroke="#4a4a4a" stroke-width="1.0" />
<line x1="209.51" y1="387.8" x2="209.51" y2="389.8" stroke="#4a4a4a" stroke-width="1.0" />
<line x1="33.75" y1="383" x2="30.75" y2="383" stroke="#4a4a4a" stroke-width="1.0" />
<line x1="33.75" y1="334.2" x2="30.75" y2="334.2" stroke="#4a4a4a" stroke-width="1.0" />
<line x1="33.75" y1="285.4" x2="30.75" y2="285.4" stroke="#4a4a4a" stroke-width="1.0" />
<line x1="33.75" y1="236.6" x2="30.75" y2="236.6" stroke="#4a4a4a" stroke-width="1.0" />
<line x1="33.75" y1="358.6" x2="31.75" y2="358.6" stroke="#4a4a4a" stroke-width="1.0" />
<line x1="33.75" y1="309.8" x2="31.75" y2="309.8" stroke="#4a4a4a" stroke-width="1.0" />
<line x1="33.75" y1="261" x2="31.75" y2="261" stroke="#4a4a4a" stroke-width="1.0" />
<line x1="209.7" y1="373.7" x2="207.1" y2="373.7" stroke="#4a4a4a" stroke-width="1.0" />
<line x1="209.7" y1="339.43" x2="207.1" y2="339.43" stroke="#4a4a4a" stroke-width="1.0" />
<line x1="209.7" y1="305.15" x2="207.1" y2="305.15" stroke="#4a4a4a" stroke-width="1.0" />
<line x1="209.7" y1="270.88" x2="207.1" y2="270.88" stroke="#4a4a4a" stroke-width="1.0" />
<line x1="209.7" y1="236.6" x2="207.1" y2="236.6" stroke="#4a4a4a" stroke-width="1.0" />
<line x1="209.7" y1="356.56" x2="208.1" y2="356.56" stroke="#4a4a4a" stroke-width="1.0" />
<line x1="209.7" y1="322.29" x2="208.1" y2="322.29" stroke="#4a4a4a" stroke-width="1.0" />
<line x1="209.7" y1="288.01" x2="208.1" y2="288.01" stroke="#4a4a4a" stroke-width="1.0" />
<line x1="209.7" y1="253.74" x2="208.1" y2="253.74" stroke="#4a4a4a" stroke-width="1.0" />
<text x="33.75" y="401.7" font-size="10.3" text-anchor="middle" font-weight="bold" fill="#000"  textLength="14.43" lengthAdjust="spacingAndGlyphs">300</text>
<text x="83.97" y="401.7" font-size="10.3" text-anchor="middle" font-weight="bold" fill="#000"  textLength="14.43" lengthAdjust="spacingAndGlyphs">400</text>
<text x="134.18" y="401.7" font-size="10.3" text-anchor="middle" font-weight="bold" fill="#000"  textLength="14.43" lengthAdjust="spacingAndGlyphs">500</text>
<text x="184.4" y="401.7" font-size="10.3" text-anchor="middle" font-weight="bold" fill="#000"  textLength="14.43" lengthAdjust="spacingAndGlyphs">600</text>
<text x="29.6" y="386.7" font-size="10.3" text-anchor="end" font-weight="bold" fill="#000"  textLength="11.74" lengthAdjust="spacingAndGlyphs">0.0</text>
<text x="29.6" y="337.9" font-size="10.3" text-anchor="end" font-weight="bold" fill="#000"  textLength="11.74" lengthAdjust="spacingAndGlyphs">0.5</text>
<text x="29.6" y="289.1" font-size="10.3" text-anchor="end" font-weight="bold" fill="#000"  textLength="11.74" lengthAdjust="spacingAndGlyphs">1.0</text>
<text x="29.6" y="240.3" font-size="10.3" text-anchor="end" font-weight="bold" fill="#000"  textLength="11.74" lengthAdjust="spacingAndGlyphs">1.5</text>
<text x="212.6" y="377.4" font-size="10.3" text-anchor="start" font-weight="bold" fill="#000"  textLength="4.81" lengthAdjust="spacingAndGlyphs">0</text>
<text x="212.6" y="343.12" font-size="10.3" text-anchor="start" font-weight="bold" fill="#000"  textLength="14.43" lengthAdjust="spacingAndGlyphs">250</text>
<text x="212.6" y="308.85" font-size="10.3" text-anchor="start" font-weight="bold" fill="#000"  textLength="14.43" lengthAdjust="spacingAndGlyphs">500</text>
<text x="212.6" y="274.57" font-size="10.3" text-anchor="start" font-weight="bold" fill="#000"  textLength="14.43" lengthAdjust="spacingAndGlyphs">750</text>
<text x="212.6" y="240.3" font-size="10.3" text-anchor="start" font-weight="bold" fill="#000"  textLength="19.25" lengthAdjust="spacingAndGlyphs">1000</text>
<text x="121.6" y="420.2" font-size="11.0" text-anchor="middle" font-weight="bold" fill="#000"  textLength="77.9" lengthAdjust="spacingAndGlyphs">Wavelength (nm)</text>
<text x="9.4" y="318.2" font-size="10.8" text-anchor="middle" font-weight="bold" fill="#000" transform="rotate(-90 9.4 318.2)" >Abs</text>
<text x="243.8" y="319" font-size="11.0" text-anchor="middle" font-weight="bold" fill="#000" transform="rotate(-90 243.8 319)"  textLength="153" lengthAdjust="spacingAndGlyphs">Fluorescence Intensity (a.u.)</text>
<line x1="142.5" y1="252.5" x2="158" y2="252.5" stroke="#ff2020" stroke-width="1.2" />
<line x1="142.5" y1="263.8" x2="158" y2="263.8" stroke="#222" stroke-width="1.2" />
<text x="160.5" y="256.2" font-size="10.6" text-anchor="start" font-weight="bold" fill="#000"  textLength="30" lengthAdjust="spacingAndGlyphs">AuNPs</text>
<text x="160.5" y="267.5" font-size="10.6" text-anchor="start" font-weight="bold" fill="#000"  textLength="25" lengthAdjust="spacingAndGlyphs">CQDs</text>
<text x="271.2" y="232.9" font-size="19.5" text-anchor="start" font-weight="bold" fill="#000" >d</text>
<path d="M368.62 292.39 L369.44 293.97 L370.26 295.52 L371.08 297.05 L371.90 298.54 L372.72 300.01 L373.54 301.44 L374.36 302.85 L375.17 304.23 L375.99 305.59 L376.81 306.92 L377.63 308.23 L378.45 309.51 L379.27 310.76 L380.09 312.00 L380.91 313.20 L381.73 314.39 L382.55 315.55 L383.36 316.69 L384.18 317.81 L385.00 318.91 L385.82 319.99 L386.64 321.05 L387.46 322.08 L388.28 323.10 L389.10 324.10 L389.92 325.07 L390.74 326.03 L391.55 326.97 L392.37 327.90 L393.19 328.80 L394.01 329.69 L394.83 330.56 L395.65 331.42 L396.47 332.26 L397.29 333.08 L398.11 333.89 L398.93 334.68 L399.74 335.46 L400.56 336.22 L401.38 336.97 L402.20 337.70 L403.02 338.42 L403.84 339.12 L404.66 339.81 L405.48 340.49 L406.30 341.16 L407.12 341.81 L407.93 342.45 L408.75 343.08 L409.57 343.70 L410.39 344.30 L411.21 344.90 L412.03 345.48 L412.85 346.05 L413.67 346.61 L414.49 347.16 L415.31 347.70 L416.12 348.23 L416.94 348.75 L417.76 349.25 L418.58 349.75 L419.40 350.24 L420.22 350.72 L421.04 351.19 L421.86 351.66 L422.68 352.11 L423.50 352.55 L424.31 352.99 L425.13 353.42 L425.95 353.84 L426.77 354.25 L427.59 354.65 L428.41 355.05 L429.23 355.44 L430.05 355.82 L430.87 356.19 L431.69 356.56 L432.50 356.92 L433.32 357.27 L434.14 357.62 L434.96 357.96 L435.78 358.29 L436.60 358.62 L437.42 358.94 L438.24 359.26 L439.06 359.56 L439.88 359.87 L440.69 360.16 L441.51 360.45 L442.33 360.74 L443.15 361.02 L443.97 361.30 L444.79 361.57 L445.61 361.83 L446.43 362.09 L447.25 362.34 L448.06 362.59 L448.88 362.84 L449.70 363.08 L450.52 363.31 L451.34 363.55 L452.16 363.77 L452.98 364.00 L453.80 364.21 L454.62 364.43 L455.44 364.64 L456.25 364.84 L457.07 365.05 L457.89 365.24 L458.71 365.44 L459.53 365.63 L460.35 365.82 L461.17 366.00 L461.99 366.18 L462.81 366.36 L463.63 366.53 L464.44 366.70 L465.26 366.87 L466.08 367.03 L466.90 367.19 L467.72 367.35 L468.54 367.50 L469.36 367.65 L470.18 367.80 L471.00 367.95 L471.82 368.09 L472.63 368.23 L473.45 368.37 L474.27 368.50 L475.09 368.64 L475.91 368.77 L476.73 368.89 L477.55 369.02 L478.37 369.14 L479.19 369.26 L480.01 369.38 L480.83 369.50 L481.64 369.61 L482.46 369.72 L483.28 369.83 L484.10 369.94 L484.92 370.04" fill="none" stroke="#ff2020" stroke-width="1.1" stroke-linejoin="round" />
<path d="M337.50 376.96 L337.68 376.86 L337.86 376.53 L338.04 376.95 L338.22 376.91 L338.40 376.84 L338.58 377.20 L338.76 376.90 L338.94 376.80 L339.12 376.65 L339.30 377.28 L339.48 377.09 L339.66 377.28 L339.84 376.64 L340.02 376.74 L340.20 377.33 L340.38 376.48 L340.56 376.50 L340.74 376.78 L340.92 376.81 L341.10 377.22 L341.28 377.35 L341.46 376.89 L341.64 377.31 L341.82 377.19 L342.00 377.15 L342.18 377.34 L342.36 376.95 L342.55 376.97 L342.73 376.61 L342.91 376.90 L343.09 376.79 L343.27 376.91 L343.45 376.77 L343.63 376.95 L343.81 377.11 L343.99 376.47 L344.17 376.47 L344.35 376.61 L344.53 376.73 L344.71 377.08 L344.89 377.16 L345.07 377.10 L345.25 377.30 L345.43 376.68 L345.61 377.00 L345.79 376.60 L345.97 377.02 L346.15 376.50 L346.33 376.60 L346.51 377.36 L346.69 377.17 L346.87 376.55 L347.05 376.94 L347.23 376.48 L347.41 377.01 L347.59 377.30 L347.77 376.80 L347.95 376.66 L348.13 377.12 L348.31 377.28 L348.49 377.06 L348.67 376.50 L348.85 376.68 L349.03 377.26 L349.21 377.14 L349.39 377.27 L349.57 377.31 L349.75 376.65 L349.93 377.20 L350.11 376.86 L350.29 376.96 L350.47 377.13 L350.65 376.11 L350.83 376.27 L351.01 375.64 L351.19 375.00 L351.37 374.01 L351.55 373.62 L351.73 371.23 L351.91 367.58 L352.09 370.51 L352.27 369.82 L352.45 360.98 L352.64 363.68 L352.82 359.37 L353.00 357.39 L353.18 361.98 L353.36 346.91 L353.54 346.64 L353.72 350.26 L353.90 345.36 L354.08 345.38 L354.26 347.26 L354.44 341.21 L354.62 336.26 L354.80 329.90 L354.98 329.08 L355.16 329.63 L355.34 320.05 L355.52 328.62 L355.70 317.40 L355.88 312.81 L356.06 318.11 L356.24 324.16 L356.42 316.42 L356.60 307.23 L356.78 303.03 L356.96 294.64 L357.14 307.01 L357.32 298.83 L357.50 292.80 L357.68 295.25 L357.86 305.93 L358.04 285.48 L358.22 274.80 L358.40 280.51 L358.58 289.87 L358.76 285.27 L358.94 280.04 L359.12 265.46 L359.30 274.97 L359.48 276.68 L359.66 267.23 L359.84 275.77 L360.02 263.70 L360.20 277.77 L360.38 276.01 L360.56 268.69 L360.74 264.38 L360.92 268.75 L361.10 270.86 L361.28 283.39 L361.46 277.36 L361.64 277.20 L361.82 277.18 L362.00 271.12 L362.18 276.88 L362.36 270.81 L362.55 275.31 L362.73 278.14 L362.91 275.95 L363.09 274.56 L363.27 272.49 L363.45 280.64 L363.63 279.64 L363.81 286.60 L363.99 269.82 L364.17 271.11 L364.35 280.95 L364.53 283.09 L364.71 287.88 L364.89 280.14 L365.07 280.33 L365.25 269.28 L365.43 280.89 L365.61 287.21 L365.79 297.26 L365.97 275.33 L366.15 282.78 L366.33 293.58 L366.51 283.60 L366.69 294.35 L366.87 265.26 L367.05 279.31 L367.23 282.86 L367.41 287.56 L367.59 299.32 L367.77 288.03 L367.95 296.67 L368.13 284.59 L368.31 300.80 L368.49 294.03 L368.67 282.08 L368.85 279.99 L369.03 296.71 L369.21 299.11 L369.39 285.50 L369.57 286.01 L369.75 297.02 L369.93 295.68 L370.11 296.03 L370.29 299.26 L370.47 296.66 L370.65 285.82 L370.83 289.42 L371.01 281.85 L371.19 294.61 L371.37 295.23 L371.55 300.48 L371.73 295.85 L371.91 303.08 L372.09 306.10 L372.27 292.11 L372.45 288.14 L372.64 291.97 L372.82 289.43 L373.00 296.02 L373.18 301.97 L373.36 297.63 L373.54 300.63 L373.72 305.22 L373.90 308.91 L374.08 308.02 L374.26 299.78 L374.44 299.20 L374.62 303.14 L374.80 292.43 L374.98 299.99 L375.16 297.96 L375.34 294.59 L375.52 306.71 L375.70 313.68 L375.88 298.22 L376.06 306.88 L376.24 295.60 L376.42 301.54 L376.60 297.97 L376.78 299.68 L376.96 316.46 L377.14 300.54 L377.32 308.90 L377.50 309.68 L377.68 308.12 L377.86 301.45 L378.04 301.07 L378.22 300.62 L378.40 316.38 L378.58 310.48 L378.76 321.11 L378.94 308.23 L379.12 304.45 L379.30 312.63 L379.48 307.08 L379.66 307.44 L379.84 303.22 L380.02 314.09 L380.20 314.42 L380.38 314.32 L380.56 300.02 L380.74 304.13 L380.92 311.44 L381.10 309.69 L381.28 310.60 L381.46 310.36 L381.64 313.02 L381.82 314.01 L382.00 319.62 L382.18 316.33 L382.36 303.32 L382.54 310.03 L382.73 313.03 L382.91 314.91 L383.09 313.56 L383.27 312.14 L383.45 318.19 L383.63 313.56 L383.81 313.57 L383.99 319.55 L384.17 320.04 L384.35 321.51 L384.53 322.13 L384.71 311.08 L384.89 330.09 L385.07 318.26 L385.25 320.48 L385.43 320.78 L385.61 316.91 L385.79 311.26 L385.97 317.52 L386.15 318.99 L386.33 321.92 L386.51 319.41 L386.69 313.75 L386.87 321.38 L387.05 325.87 L387.23 326.75 L387.41 326.09 L387.59 327.90 L387.77 314.18 L387.95 318.58 L388.13 322.12 L388.31 312.90 L388.49 324.92 L388.67 317.31 L388.85 317.28 L389.03 330.50 L389.21 330.77 L389.39 327.51 L389.57 317.63 L389.75 315.72 L389.93 329.79 L390.11 317.55 L390.29 325.60 L390.47 325.87 L390.65 326.94 L390.83 325.92 L391.01 334.24 L391.19 330.01 L391.37 331.48 L391.55 322.38 L391.73 313.99 L391.91 310.77 L392.09 327.46 L392.27 335.08 L392.45 328.25 L392.64 331.29 L392.82 315.93 L393.00 323.67 L393.18 330.77 L393.36 322.16 L393.54 324.48 L393.72 336.09 L393.90 330.52 L394.08 329.18 L394.26 328.02 L394.44 327.63 L394.62 330.29 L394.80 327.73 L394.98 331.97 L395.16 333.77 L395.34 321.44 L395.52 327.64 L395.70 327.43 L395.88 338.12 L396.06 330.94 L396.24 326.06 L396.42 337.09 L396.60 325.03 L396.78 332.84 L396.96 328.98 L397.14 331.90 L397.32 330.30 L397.50 325.48 L397.68 333.82 L397.86 324.05 L398.04 336.10 L398.22 337.03 L398.40 328.93 L398.58 338.05 L398.76 334.73 L398.94 328.51 L399.12 327.18 L399.30 342.26 L399.48 331.07 L399.66 324.40 L399.84 328.01 L400.02 335.30 L400.20 337.26 L400.38 335.93 L400.56 340.31 L400.74 336.11 L400.92 335.90 L401.10 335.87 L401.28 329.54 L401.46 336.61 L401.64 342.76 L401.82 330.72 L402.00 341.20 L402.18 338.33 L402.36 336.98 L402.54 338.15 L402.73 341.49 L402.91 338.02 L403.09 326.50 L403.27 340.06 L403.45 337.96 L403.63 332.10 L403.81 334.08 L403.99 334.16 L404.17 333.85 L404.35 347.44 L404.53 342.35 L404.71 337.82 L404.89 336.23 L405.07 332.64 L405.25 336.68 L405.43 340.16 L405.61 339.01 L405.79 340.34 L405.97 338.35 L406.15 336.51 L406.33 341.39 L406.51 343.73 L406.69 344.07 L406.87 335.18 L407.05 334.49 L407.23 335.98 L407.41 336.76 L407.59 337.02 L407.77 341.00 L407.95 338.10 L408.13 346.09 L408.31 342.35 L408.49 344.91 L408.67 338.41 L408.85 344.49 L409.03 342.49 L409.21 340.33 L409.39 336.17 L409.57 345.98 L409.75 346.78 L409.93 339.03 L410.11 347.79 L410.29 340.95 L410.47 345.65 L410.65 343.72 L410.83 351.48 L411.01 340.35 L411.19 345.87 L411.37 347.76 L411.55 334.75 L411.73 340.92 L411.91 328.75 L412.09 342.53 L412.27 345.98 L412.45 344.11 L412.64 337.69 L412.82 344.96 L413.00 343.01 L413.18 342.86 L413.36 349.17 L413.54 344.80 L413.72 347.66 L413.90 350.98 L414.08 341.98 L414.26 343.00 L414.44 345.67 L414.62 350.00 L414.80 354.81 L414.98 344.28 L415.16 346.90 L415.34 353.76 L415.52 346.98 L415.70 353.29 L415.88 347.08 L416.06 346.48 L416.24 345.71 L416.42 346.41 L416.60 346.73 L416.78 352.34 L416.96 349.29 L417.14 349.93 L417.32 348.90 L417.50 346.91 L417.68 345.57 L417.86 341.48 L418.04 359.02 L418.22 346.83 L418.40 349.42 L418.58 339.34 L418.76 344.99 L418.94 355.73 L419.12 347.41 L419.30 351.30 L419.48 345.22 L419.66 353.69 L419.84 349.91 L420.02 350.14 L420.20 350.11 L420.38 352.19 L420.56 357.36 L420.74 348.18 L420.92 346.12 L421.10 350.53 L421.28 354.45 L421.46 349.65 L421.64 348.31 L421.82 351.38 L422.00 350.84 L422.18 345.28 L422.36 355.43 L422.54 353.31 L422.73 358.74 L422.91 354.07 L423.09 354.32 L423.27 355.28 L423.45 354.33 L423.63 344.65 L423.81 352.57 L423.99 352.35 L424.17 343.42 L424.35 352.34 L424.53 358.95 L424.71 350.74 L424.89 356.03 L425.07 346.15 L425.25 357.41 L425.43 354.93 L425.61 358.97 L425.79 352.51 L425.97 356.87 L426.15 353.32 L426.33 354.61 L426.51 355.60 L426.69 349.76 L426.87 349.89 L427.05 353.30 L427.23 357.04 L427.41 357.77 L427.59 352.80 L427.77 344.89 L427.95 355.72 L428.13 357.04 L428.31 356.79 L428.49 358.37 L428.67 357.99 L428.85 355.21 L429.03 349.19 L429.21 354.63 L429.39 356.61 L429.57 360.79 L429.75 354.10 L429.93 355.07 L430.11 359.58 L430.29 359.15 L430.47 355.39 L430.65 351.60 L430.83 353.11 L431.01 354.74 L431.19 356.75 L431.37 354.49 L431.55 355.78 L431.73 347.93 L431.91 360.01 L432.09 357.32 L432.27 351.49 L432.45 357.11 L432.64 351.10 L432.82 356.47 L433.00 355.87 L433.18 357.80 L433.36 361.49 L433.54 360.10 L433.72 348.82 L433.90 354.50 L434.08 354.72 L434.26 353.57 L434.44 355.01 L434.62 353.50 L434.80 358.12 L434.98 358.05 L435.16 353.88 L435.34 358.65 L435.52 362.15 L435.70 358.36 L435.88 359.54 L436.06 355.58 L436.24 360.30 L436.42 361.55 L436.60 359.09 L436.78 352.64 L436.96 358.25 L437.14 357.61 L437.32 358.20 L437.50 357.29 L437.68 355.19 L437.86 353.67 L438.04 364.15 L438.22 353.95 L438.40 358.68 L438.58 359.83 L438.76 350.66 L438.94 359.45 L439.12 352.36 L439.30 355.74 L439.48 362.56 L439.66 357.51 L439.84 356.75 L440.02 359.72 L440.20 367.17 L440.38 360.58 L440.56 360.14 L440.74 363.26 L440.92 353.55 L441.10 360.51 L441.28 361.07 L441.46 360.83 L441.64 362.49 L441.82 362.53 L442.00 359.72 L442.18 359.06 L442.36 361.83 L442.54 360.52 L442.73 364.84 L442.91 358.65 L443.09 362.86 L443.27 359.78 L443.45 363.49 L443.63 362.28 L443.81 359.97 L443.99 364.65 L444.17 352.81 L444.35 360.97 L444.53 361.15 L444.71 363.34 L444.89 355.92 L445.07 356.66 L445.25 360.20 L445.43 365.59 L445.61 362.89 L445.79 359.38 L445.97 363.03 L446.15 365.22 L446.33 365.28 L446.51 364.02 L446.69 361.59 L446.87 363.74 L447.05 361.70 L447.23 353.03 L447.41 356.30 L447.59 365.18 L447.77 360.91 L447.95 361.77 L448.13 362.53 L448.31 358.90 L448.49 363.24 L448.67 363.27 L448.85 363.48 L449.03 362.69 L449.21 358.46 L449.39 360.09 L449.57 366.67 L449.75 363.95 L449.93 365.10 L450.11 360.20 L450.29 362.07 L450.47 360.09 L450.65 363.05 L450.83 368.73 L451.01 361.60 L451.19 362.33 L451.37 361.54 L451.55 367.07 L451.73 362.93 L451.91 365.30 L452.09 365.35 L452.27 362.27 L452.45 362.33 L452.64 366.11 L452.82 368.61 L453.00 370.92 L453.18 365.30 L453.36 360.30 L453.54 363.85 L453.72 370.42 L453.90 366.34 L454.08 362.59 L454.26 358.95 L454.44 360.49 L454.62 362.90 L454.80 363.45 L454.98 367.19 L455.16 365.45 L455.34 365.15 L455.52 366.48 L455.70 364.09 L455.88 365.46 L456.06 363.39 L456.24 360.25 L456.42 362.31 L456.60 363.30 L456.78 365.25 L456.96 368.98 L457.14 364.97 L457.32 363.13 L457.50 367.63 L457.68 361.19 L457.86 365.78 L458.04 363.81 L458.22 365.85 L458.40 368.53 L458.58 359.13 L458.76 368.34 L458.94 362.49 L459.12 366.71 L459.30 364.39 L459.48 367.49 L459.66 366.44 L459.84 362.72 L460.02 359.89 L460.20 367.77 L460.38 365.41 L460.56 362.83 L460.74 367.28 L460.92 363.58 L461.10 367.79 L461.28 363.97 L461.46 364.48 L461.64 362.37 L461.82 364.76 L462.00 369.10 L462.18 364.02 L462.36 368.92 L462.54 363.87 L462.73 361.83 L462.91 364.38 L463.09 367.56 L463.27 362.84 L463.45 365.67 L463.63 369.56 L463.81 367.17 L463.99 362.40 L464.17 367.11 L464.35 366.00 L464.53 367.29 L464.71 370.95 L464.89 367.82 L465.07 365.52 L465.25 365.96 L465.43 367.02 L465.61 372.31 L465.79 363.36 L465.97 364.75 L466.15 363.98 L466.33 363.28 L466.51 367.96 L466.69 368.42 L466.87 366.02 L467.05 362.46 L467.23 371.37 L467.41 367.57 L467.59 368.88 L467.77 365.56 L467.95 363.22 L468.13 367.88 L468.31 370.38 L468.49 367.04 L468.67 367.95 L468.85 371.26 L469.03 364.98 L469.21 368.67 L469.39 365.57 L469.57 370.79 L469.75 364.58 L469.93 371.17 L470.11 364.77 L470.29 372.18 L470.47 364.00 L470.65 368.54 L470.83 371.60 L471.01 368.25 L471.19 366.82 L471.37 370.24 L471.55 369.00 L471.73 367.09 L471.91 368.24 L472.09 375.62 L472.27 368.97 L472.45 366.83 L472.63 367.19 L472.82 365.43 L473.00 369.74 L473.18 361.62 L473.36 366.06 L473.54 367.32 L473.72 365.41 L473.90 365.77 L474.08 367.94 L474.26 369.77 L474.44 365.70 L474.62 367.23 L474.80 373.01 L474.98 371.08 L475.16 367.22 L475.34 368.13 L475.52 367.74 L475.70 366.88 L475.88 368.13 L476.06 364.63 L476.24 370.00 L476.42 369.56 L476.60 367.82 L476.78 366.82 L476.96 366.75 L477.14 365.07 L477.32 369.88 L477.50 365.92 L477.68 367.65 L477.86 371.33 L478.04 369.17 L478.22 363.83 L478.40 367.00 L478.58 370.05 L478.76 374.71 L478.94 370.74 L479.12 370.69 L479.30 368.85 L479.48 363.53 L479.66 367.30 L479.84 368.36 L480.02 371.36 L480.20 371.98 L480.38 369.68 L480.56 370.33 L480.74 362.12 L480.92 370.23 L481.10 370.75 L481.28 366.66 L481.46 369.17 L481.64 372.28 L481.82 366.37 L482.00 370.16 L482.18 372.56 L482.36 368.72 L482.54 368.36 L482.73 370.31 L482.91 367.93 L483.09 367.67 L483.27 371.65 L483.45 374.40 L483.63 375.19 L483.81 369.97 L483.99 366.86 L484.17 367.41 L484.35 366.54 L484.53 365.50 L484.71 369.76 L484.89 367.40 L485.07 373.35 L485.25 368.29 L485.43 368.99 L485.61 370.13 L485.79 370.94 L485.97 372.50 L486.15 369.67 L486.33 367.11 L486.51 370.86 L486.69 368.85 L486.87 371.58 L487.05 369.53 L487.23 372.39 L487.41 369.29 L487.59 370.66 L487.77 369.48 L487.95 371.57 L488.13 372.87 L488.31 370.99 L488.49 367.96 L488.67 366.78 L488.85 371.04 L489.03 368.56 L489.21 368.68 L489.39 369.51 L489.57 373.84 L489.75 369.71 L489.93 372.59 L490.11 367.87 L490.29 368.75 L490.47 369.15 L490.65 376.11 L490.83 369.19 L491.01 369.04 L491.19 373.39 L491.37 368.49 L491.55 370.47 L491.73 371.06 L491.91 372.23 L492.09 372.91 L492.27 371.66 L492.45 364.04 L492.63 370.32 L492.82 370.33 L493.00 372.20 L493.18 372.15 L493.36 372.03 L493.54 372.76 L493.72 368.99 L493.90 371.47 L494.08 369.06 L494.26 373.41 L494.44 368.96 L494.62 371.03 L494.80 369.57 L494.98 371.23 L495.16 372.92 L495.34 368.47 L495.52 371.99 L495.70 371.39 L495.88 372.98 L496.06 370.69 L496.24 371.96 L496.42 370.56 L496.60 370.45 L496.78 372.64 L496.96 374.17 L497.14 370.32 L497.32 369.32 L497.50 369.81 L497.68 373.68 L497.86 370.04 L498.04 370.51 L498.22 370.74 L498.40 370.46 L498.58 372.04 L498.76 370.94 L498.94 369.48 L499.12 372.47 L499.30 374.42 L499.48 371.67 L499.66 371.07 L499.84 375.29 L500.02 372.90 L500.20 370.31 L500.38 371.85 L500.56 371.37 L500.74 374.15 L500.92 369.73 L501.10 368.02 L501.28 372.03" fill="none" stroke="#222222" stroke-width="0.8" stroke-linejoin="round" />
<path d="M337.50 376.53 L337.68 376.51 L337.86 376.56 L338.04 377.29 L338.22 376.83 L338.40 376.98 L338.58 376.89 L338.76 377.25 L338.94 377.19 L339.12 376.96 L339.30 377.16 L339.48 376.95 L339.66 377.34 L339.84 377.29 L340.02 376.73 L340.20 376.98 L340.38 376.90 L340.56 376.70 L340.74 377.04 L340.92 377.31 L341.10 376.66 L341.28 376.83 L341.46 376.77 L341.64 376.81 L341.82 376.49 L342.00 377.04 L342.18 376.68 L342.36 377.03 L342.55 376.85 L342.73 376.77 L342.91 377.08 L343.09 377.29 L343.27 376.94 L343.45 376.72 L343.63 376.83 L343.81 376.96 L343.99 376.79 L344.17 377.20 L344.35 377.20 L344.53 377.07 L344.71 376.63 L344.89 377.19 L345.07 377.26 L345.25 377.27 L345.43 377.33 L345.61 377.12 L345.79 376.85 L345.97 376.63 L346.15 377.07 L346.33 377.03 L346.51 377.10 L346.69 377.09 L346.87 376.66 L347.05 376.87 L347.23 377.13 L347.41 377.27 L347.59 376.66 L347.77 376.73 L347.95 376.62 L348.13 377.15 L348.31 376.87 L348.49 376.54 L348.67 376.83 L348.85 376.51 L349.03 377.21 L349.21 376.49 L349.39 377.31 L349.57 376.99 L349.75 377.34 L349.93 376.64 L350.11 376.75 L350.29 376.49 L350.47 376.31 L350.65 377.70 L350.83 377.70 L351.01 377.51 L351.19 375.79 L351.37 376.65 L351.55 370.75 L351.73 372.70 L351.91 370.26 L352.09 367.57 L352.27 369.63 L352.45 364.69 L352.64 351.47 L352.82 365.52 L353.00 358.26 L353.18 353.58 L353.36 357.09 L353.54 352.01 L353.72 358.76 L353.90 348.98 L354.08 343.41 L354.26 331.98 L354.44 330.22 L354.62 338.99 L354.80 339.89 L354.98 312.67 L355.16 318.07 L355.34 337.68 L355.52 322.97 L355.70 324.52 L355.88 319.28 L356.06 325.15 L356.24 311.97 L356.42 309.86 L356.60 304.82 L356.78 289.71 L356.96 295.26 L357.14 304.45 L357.32 305.97 L357.50 293.86 L357.68 275.64 L357.86 275.39 L358.04 287.24 L358.22 268.68 L358.40 274.00 L358.58 281.14 L358.76 270.18 L358.94 273.33 L359.12 279.96 L359.30 273.04 L359.48 266.67 L359.66 253.66 L359.84 274.15 L360.02 262.62 L360.20 264.01 L360.38 263.93 L360.56 272.80 L360.74 250.00 L360.92 249.46 L361.10 246.44 L361.28 258.15 L361.46 248.22 L361.64 258.24 L361.82 253.98 L362.00 267.18 L362.18 262.73 L362.36 267.96 L362.55 274.22 L362.73 269.68 L362.91 275.60 L363.09 275.97 L363.27 270.59 L363.45 272.70 L363.63 247.25 L363.81 250.65 L363.99 258.14 L364.17 261.50 L364.35 276.80 L364.53 267.57 L364.71 282.30 L364.89 276.18 L365.07 275.41 L365.25 274.89 L365.43 263.60 L365.61 279.06 L365.79 248.51 L365.97 277.63 L366.15 265.27 L366.33 286.98 L366.51 265.45 L366.69 284.94 L366.87 273.50 L367.05 275.91 L367.23 267.86 L367.41 270.42 L367.59 273.06 L367.77 278.59 L367.95 257.76 L368.13 281.84 L368.31 278.42 L368.49 282.67 L368.67 277.91 L368.85 287.37 L369.03 283.33 L369.21 275.26 L369.39 285.39 L369.57 276.41 L369.75 286.17 L369.93 267.33 L370.11 283.28 L370.29 264.59 L370.47 277.87 L370.65 284.34 L370.83 273.95 L371.01 272.10 L371.19 268.74 L371.37 270.49 L371.55 275.93 L371.73 294.78 L371.91 276.24 L372.09 286.81 L372.27 282.33 L372.45 273.84 L372.64 292.89 L372.82 273.86 L373.00 263.29 L373.18 282.50 L373.36 291.00 L373.54 274.78 L373.72 287.34 L373.90 278.74 L374.08 277.00 L374.26 302.30 L374.44 287.23 L374.62 303.06 L374.80 296.81 L374.98 285.30 L375.16 301.41 L375.34 297.93 L375.52 296.15 L375.70 289.63 L375.88 289.59 L376.06 288.95 L376.24 297.81 L376.42 300.12 L376.60 290.25 L376.78 301.71 L376.96 301.56 L377.14 288.25 L377.32 302.06 L377.50 303.25 L377.68 284.80 L377.86 296.97 L378.04 314.84 L378.22 303.29 L378.40 277.63 L378.58 268.85 L378.76 300.53 L378.94 291.34 L379.12 291.27 L379.30 295.91 L379.48 313.95 L379.66 289.49 L379.84 297.17 L380.02 302.14 L380.20 313.52 L380.38 305.90 L380.56 302.04 L380.74 303.44 L380.92 299.46 L381.10 305.08 L381.28 292.14 L381.46 296.26 L381.64 312.10 L381.82 307.98 L382.00 299.20 L382.18 308.14 L382.36 289.75 L382.54 308.59 L382.73 302.12 L382.91 298.70 L383.09 314.18 L383.27 292.69 L383.45 307.33 L383.63 311.62 L383.81 311.75 L383.99 320.02 L384.17 317.64 L384.35 291.79 L384.53 308.31 L384.71 309.80 L384.89 305.91 L385.07 302.28 L385.25 314.69 L385.43 310.27 L385.61 306.16 L385.79 298.87 L385.97 306.87 L386.15 292.76 L386.33 311.61 L386.51 312.83 L386.69 321.50 L386.87 311.00 L387.05 304.43 L387.23 313.12 L387.41 312.79 L387.59 319.46 L387.77 316.59 L387.95 315.71 L388.13 313.12 L388.31 301.78 L388.49 307.78 L388.67 303.88 L388.85 301.46 L389.03 317.32 L389.21 300.30 L389.39 313.72 L389.57 324.87 L389.75 319.40 L389.93 315.50 L390.11 327.31 L390.29 291.88 L390.47 315.92 L390.65 307.12 L390.83 325.63 L391.01 315.32 L391.19 313.93 L391.37 322.75 L391.55 314.45 L391.73 317.16 L391.91 313.70 L392.09 327.15 L392.27 312.73 L392.45 320.31 L392.64 325.00 L392.82 335.78 L393.00 320.25 L393.18 321.87 L393.36 295.60 L393.54 328.82 L393.72 304.93 L393.90 307.51 L394.08 316.07 L394.26 317.92 L394.44 315.65 L394.62 332.11 L394.80 307.10 L394.98 323.61 L395.16 327.04 L395.34 321.59 L395.52 342.81 L395.70 332.12 L395.88 331.18 L396.06 334.36 L396.24 317.06 L396.42 307.45 L396.60 322.93 L396.78 325.68 L396.96 320.44 L397.14 327.45 L397.32 322.72 L397.50 320.27 L397.68 325.98 L397.86 327.55 L398.04 324.13 L398.22 324.42 L398.40 318.74 L398.58 336.48 L398.76 333.77 L398.94 329.27 L399.12 321.40 L399.30 335.61 L399.48 315.00 L399.66 313.07 L399.84 332.07 L400.02 316.49 L400.20 342.35 L400.38 327.96 L400.56 339.20 L400.74 317.75 L400.92 320.10 L401.10 323.42 L401.28 332.44 L401.46 336.59 L401.64 324.91 L401.82 332.50 L402.00 322.92 L402.18 340.66 L402.36 325.62 L402.54 325.01 L402.73 346.01 L402.91 339.03 L403.09 335.17 L403.27 334.59 L403.45 342.77 L403.63 330.57 L403.81 338.89 L403.99 331.58 L404.17 344.18 L404.35 339.75 L404.53 325.53 L404.71 343.82 L404.89 332.19 L405.07 319.34 L405.25 325.26 L405.43 341.69 L405.61 313.02 L405.79 336.68 L405.97 324.89 L406.15 324.82 L406.33 335.51 L406.51 328.08 L406.69 352.69 L406.87 333.17 L407.05 332.77 L407.23 336.51 L407.41 333.44 L407.59 325.32 L407.77 326.61 L407.95 339.04 L408.13 328.28 L408.31 325.11 L408.49 334.48 L408.67 332.26 L408.85 352.15 L409.03 346.37 L409.21 332.87 L409.39 346.15 L409.57 329.13 L409.75 326.60 L409.93 343.14 L410.11 344.48 L410.29 338.16 L410.47 335.30 L410.65 330.38 L410.83 338.82 L411.01 337.22 L411.19 344.21 L411.37 335.58 L411.55 343.02 L411.73 329.84 L411.91 332.55 L412.09 349.13 L412.27 335.86 L412.45 345.84 L412.64 330.98 L412.82 345.71 L413.00 328.82 L413.18 330.60 L413.36 323.40 L413.54 337.02 L413.72 339.36 L413.90 329.99 L414.08 347.85 L414.26 340.36 L414.44 342.28 L414.62 340.76 L414.80 350.66 L414.98 351.40 L415.16 351.71 L415.34 329.22 L415.52 343.21 L415.70 336.37 L415.88 342.14 L416.06 342.99 L416.24 331.33 L416.42 356.38 L416.60 343.28 L416.78 346.96 L416.96 347.94 L417.14 352.41 L417.32 352.03 L417.50 350.04 L417.68 334.20 L417.86 347.10 L418.04 345.83 L418.22 344.15 L418.40 338.50 L418.58 335.36 L418.76 342.14 L418.94 343.55 L419.12 339.80 L419.30 348.70 L419.48 342.47 L419.66 331.07 L419.84 348.16 L420.02 349.53 L420.20 353.81 L420.38 344.22 L420.56 340.06 L420.74 347.37 L420.92 346.89 L421.10 336.14 L421.28 344.96 L421.46 340.12 L421.64 347.57 L421.82 335.75 L422.00 338.86 L422.18 346.58 L422.36 349.39 L422.54 326.80 L422.73 352.43 L422.91 351.88 L423.09 361.03 L423.27 341.39 L423.45 346.13 L423.63 347.10 L423.81 355.71 L423.99 346.73 L424.17 351.56 L424.35 353.88 L424.53 348.56 L424.71 345.14 L424.89 348.22 L425.07 350.39 L425.25 342.33 L425.43 346.06 L425.61 349.92 L425.79 343.83 L425.97 345.96 L426.15 341.56 L426.33 342.31 L426.51 343.08 L426.69 351.80 L426.87 339.08 L427.05 341.51 L427.23 351.79 L427.41 339.95 L427.59 348.40 L427.77 354.70 L427.95 349.34 L428.13 356.47 L428.31 341.39 L428.49 356.53 L428.67 339.20 L428.85 354.47 L429.03 350.48 L429.21 340.89 L429.39 347.58 L429.57 359.17 L429.75 350.86 L429.93 360.32 L430.11 345.72 L430.29 356.04 L430.47 350.99 L430.65 351.32 L430.83 358.98 L431.01 348.62 L431.19 338.59 L431.37 355.97 L431.55 354.22 L431.73 348.73 L431.91 342.99 L432.09 356.10 L432.27 350.21 L432.45 349.19 L432.64 344.51 L432.82 356.14 L433.00 335.00 L433.18 338.02 L433.36 359.27 L433.54 356.32 L433.72 349.81 L433.90 355.64 L434.08 355.12 L434.26 352.39 L434.44 356.38 L434.62 355.83 L434.80 351.36 L434.98 354.86 L435.16 350.52 L435.34 345.99 L435.52 345.61 L435.70 352.58 L435.88 339.53 L436.06 355.30 L436.24 347.48 L436.42 341.47 L436.60 352.31 L436.78 348.26 L436.96 356.10 L437.14 356.67 L437.32 352.58 L437.50 350.82 L437.68 351.66 L437.86 349.78 L438.04 352.11 L438.22 354.65 L438.40 357.40 L438.58 354.91 L438.76 354.18 L438.94 354.58 L439.12 360.09 L439.30 346.57 L439.48 347.76 L439.66 353.42 L439.84 357.30 L440.02 347.99 L440.20 356.19 L440.38 356.34 L440.56 351.48 L440.74 358.00 L440.92 354.59 L441.10 357.83 L441.28 351.70 L441.46 352.95 L441.64 351.18 L441.82 353.02 L442.00 353.79 L442.18 353.52 L442.36 351.00 L442.54 360.69 L442.73 361.80 L442.91 355.76 L443.09 355.27 L443.27 357.49 L443.45 347.13 L443.63 353.58 L443.81 348.80 L443.99 356.04 L444.17 363.24 L444.35 363.29 L444.53 350.22 L444.71 356.64 L444.89 359.22 L445.07 349.20 L445.25 346.64 L445.43 354.80 L445.61 349.46 L445.79 358.73 L445.97 361.80 L446.15 365.20 L446.33 350.95 L446.51 364.81 L446.69 359.51 L446.87 357.31 L447.05 354.32 L447.23 366.55 L447.41 358.99 L447.59 361.76 L447.77 349.43 L447.95 358.97 L448.13 361.20 L448.31 348.19 L448.49 357.40 L448.67 353.76 L448.85 356.58 L449.03 359.23 L449.21 354.25 L449.39 361.93 L449.57 365.02 L449.75 361.75 L449.93 355.20 L450.11 360.62 L450.29 352.81 L450.47 354.91 L450.65 357.90 L450.83 352.81 L451.01 357.06 L451.19 357.46 L451.37 360.55 L451.55 359.86 L451.73 359.78 L451.91 353.54 L452.09 350.60 L452.27 353.50 L452.45 358.32 L452.64 360.29 L452.82 358.40 L453.00 362.40 L453.18 360.00 L453.36 361.45 L453.54 360.21 L453.72 370.52 L453.90 360.19 L454.08 356.62 L454.26 364.98 L454.44 350.56 L454.62 359.63 L454.80 362.91 L454.98 352.70 L455.16 364.70 L455.34 345.68 L455.52 363.76 L455.70 355.60 L455.88 352.96 L456.06 357.06 L456.24 360.22 L456.42 364.00 L456.60 361.64 L456.78 359.90 L456.96 355.80 L457.14 370.63 L457.32 357.95 L457.50 366.08 L457.68 363.97 L457.86 361.84 L458.04 364.13 L458.22 358.28 L458.40 368.46 L458.58 359.11 L458.76 365.95 L458.94 363.27 L459.12 362.12 L459.30 367.75 L459.48 359.73 L459.66 350.64 L459.84 364.73 L460.02 365.79 L460.20 354.16 L460.38 353.38 L460.56 370.70 L460.74 363.76 L460.92 365.66 L461.10 361.55 L461.28 362.85 L461.46 366.65 L461.64 364.34 L461.82 356.85 L462.00 366.47 L462.18 361.55 L462.36 359.50 L462.54 353.86 L462.73 360.68 L462.91 361.67 L463.09 366.77 L463.27 361.72 L463.45 356.15 L463.63 360.75 L463.81 356.84 L463.99 365.07 L464.17 359.20 L464.35 364.27 L464.53 366.11 L464.71 365.85 L464.89 357.33 L465.07 360.51 L465.25 364.21 L465.43 364.56 L465.61 359.53 L465.79 365.40 L465.97 357.99 L466.15 362.19 L466.33 365.99 L466.51 364.54 L466.69 368.00 L466.87 368.12 L467.05 365.93 L467.23 365.92 L467.41 365.46 L467.59 367.03 L467.77 366.74 L467.95 362.58 L468.13 369.40 L468.31 374.09 L468.49 355.90 L468.67 363.86 L468.85 363.50 L469.03 358.71 L469.21 358.89 L469.39 357.43 L469.57 359.91 L469.75 360.85 L469.93 362.28 L470.11 365.16 L470.29 365.18 L470.47 377.70 L470.65 356.78 L470.83 365.28 L471.01 368.66 L471.19 359.34 L471.37 367.64 L471.55 363.18 L471.73 368.28 L471.91 369.46 L472.09 359.77 L472.27 364.54 L472.45 371.08 L472.63 362.10 L472.82 360.98 L473.00 366.40 L473.18 362.00 L473.36 359.19 L473.54 359.87 L473.72 362.48 L473.90 361.85 L474.08 357.83 L474.26 364.60 L474.44 366.63 L474.62 366.67 L474.80 350.47 L474.98 369.48 L475.16 365.69 L475.34 372.63 L475.52 366.00 L475.70 366.57 L475.88 366.24 L476.06 362.35 L476.24 359.08 L476.42 365.02 L476.60 368.99 L476.78 367.96 L476.96 366.09 L477.14 368.84 L477.32 366.49 L477.50 363.85 L477.68 365.34 L477.86 356.97 L478.04 372.36 L478.22 365.82 L478.40 361.60 L478.58 370.45 L478.76 372.66 L478.94 356.97 L479.12 362.21 L479.30 364.17 L479.48 361.20 L479.66 370.28 L479.84 370.80 L480.02 359.66 L480.20 366.32 L480.38 372.59 L480.56 367.33 L480.74 359.78 L480.92 370.72 L481.10 372.65 L481.28 375.24 L481.46 367.61 L481.64 367.42 L481.82 369.43 L482.00 369.13 L482.18 368.19 L482.36 369.46 L482.54 369.28 L482.73 362.95 L482.91 367.23 L483.09 365.06 L483.27 373.85 L483.45 370.62 L483.63 362.97 L483.81 366.87 L483.99 362.99 L484.17 372.62 L484.35 364.77 L484.53 369.57 L484.71 367.61 L484.89 370.06 L485.07 370.99 L485.25 371.38 L485.43 368.23 L485.61 363.26 L485.79 371.49 L485.97 369.90 L486.15 371.26 L486.33 370.79 L486.51 365.07 L486.69 369.45 L486.87 371.24 L487.05 365.04 L487.23 366.59 L487.41 366.62 L487.59 367.52 L487.77 370.15 L487.95 364.71 L488.13 370.30 L488.31 367.30 L488.49 367.61 L488.67 363.39 L488.85 368.85 L489.03 364.91 L489.21 374.05 L489.39 367.87 L489.57 367.62 L489.75 368.05 L489.93 375.19 L490.11 365.41 L490.29 370.59 L490.47 370.81 L490.65 362.02 L490.83 369.35 L491.01 364.72 L491.19 374.31 L491.37 365.81 L491.55 367.91 L491.73 367.53 L491.91 371.88 L492.09 367.33 L492.27 369.45 L492.45 363.21 L492.63 370.52 L492.82 374.11 L493.00 364.57 L493.18 372.43 L493.36 369.67 L493.54 365.90 L493.72 362.11 L493.90 366.76 L494.08 366.11 L494.26 368.34 L494.44 368.61 L494.62 369.32 L494.80 367.84 L494.98 372.06 L495.16 368.36 L495.34 364.48 L495.52 368.62 L495.70 369.71 L495.88 366.25 L496.06 372.06 L496.24 370.00 L496.42 360.22 L496.60 366.07 L496.78 366.32 L496.96 369.77 L497.14 371.68 L497.32 373.00 L497.50 369.37 L497.68 364.32 L497.86 369.71 L498.04 366.20 L498.22 370.44 L498.40 369.17 L498.58 368.08 L498.76 357.93 L498.94 369.14 L499.12 372.46 L499.30 366.01 L499.48 369.73 L499.66 367.56 L499.84 371.97 L500.02 366.23 L500.20 371.90 L500.38 368.26 L500.56 371.04 L500.74 372.11 L500.92 367.56 L501.10 368.27 L501.28 376.06" fill="none" stroke="#0a0aff" stroke-width="0.8" stroke-linejoin="round" />
<path d="M366.98 276.68 L367.80 278.49 L368.62 280.27 L369.44 282.01 L370.26 283.73 L371.08 285.41 L371.90 287.06 L372.72 288.68 L373.54 290.28 L374.36 291.84 L375.17 293.37 L375.99 294.88 L376.81 296.36 L377.63 297.81 L378.45 299.23 L379.27 300.63 L380.09 302.01 L380.91 303.35 L381.73 304.68 L382.55 305.97 L383.36 307.25 L384.18 308.50 L385.00 309.73 L385.82 310.94 L386.64 312.12 L387.46 313.28 L388.28 314.42 L389.10 315.54 L389.92 316.64 L390.74 317.72 L391.55 318.78 L392.37 319.82 L393.19 320.84 L394.01 321.84 L394.83 322.83 L395.65 323.79 L396.47 324.74 L397.29 325.67 L398.11 326.58 L398.93 327.48 L399.74 328.36 L400.56 329.22 L401.38 330.07 L402.20 330.91 L403.02 331.72 L403.84 332.53 L404.66 333.31 L405.48 334.09 L406.30 334.85 L407.12 335.59 L407.93 336.32 L408.75 337.04 L409.57 337.74 L410.39 338.44 L411.21 339.12 L412.03 339.78 L412.85 340.44 L413.67 341.08 L414.49 341.71 L415.31 342.33 L416.12 342.94 L416.94 343.53 L417.76 344.12 L418.58 344.69 L419.40 345.26 L420.22 345.81 L421.04 346.36 L421.86 346.89 L422.68 347.41 L423.50 347.93 L424.31 348.43 L425.13 348.93 L425.95 349.42 L426.77 349.89 L427.59 350.36 L428.41 350.82 L429.23 351.28 L430.05 351.72 L430.87 352.16 L431.69 352.58 L432.50 353.00 L433.32 353.41 L434.14 353.82 L434.96 354.22 L435.78 354.61 L436.60 354.99 L437.42 355.36 L438.24 355.73 L439.06 356.09 L439.88 356.45 L440.69 356.80 L441.51 357.14 L442.33 357.48 L443.15 357.81 L443.97 358.13 L444.79 358.45 L445.61 358.76 L446.43 359.07 L447.25 359.37 L448.06 359.66 L448.88 359.95 L449.70 360.24 L450.52 360.52 L451.34 360.79 L452.16 361.06 L452.98 361.32 L453.80 361.58 L454.62 361.84 L455.44 362.09 L456.25 362.33 L457.07 362.57 L457.89 362.81 L458.71 363.04 L459.53 363.27 L460.35 363.49 L461.17 363.71 L461.99 363.93 L462.81 364.14 L463.63 364.35 L464.44 364.55 L465.26 364.75 L466.08 364.95 L466.90 365.14 L467.72 365.33 L468.54 365.51 L469.36 365.70 L470.18 365.88 L471.00 366.05 L471.82 366.22 L472.63 366.39 L473.45 366.56 L474.27 366.72 L475.09 366.88 L475.91 367.04 L476.73 367.20 L477.55 367.35 L478.37 367.50 L479.19 367.64 L480.01 367.78 L480.83 367.93 L481.64 368.06 L482.46 368.20 L483.28 368.33 L484.10 368.46 L484.92 368.59" fill="none" stroke="#ff20ff" stroke-width="1.2" stroke-linejoin="round" />
<rect x="319.5" y="232" width="198.5" height="156.8" fill="none" stroke="#4a4a4a" stroke-width="1.3"/>
<line x1="337.5" y1="388.8" x2="337.5" y2="391.8" stroke="#4a4a4a" stroke-width="1.0" />
<line x1="370.26" y1="388.8" x2="370.26" y2="391.8" stroke="#4a4a4a" stroke-width="1.0" />
<line x1="403.02" y1="388.8" x2="403.02" y2="391.8" stroke="#4a4a4a" stroke-width="1.0" />
<line x1="435.78" y1="388.8" x2="435.78" y2="391.8" stroke="#4a4a4a" stroke-width="1.0" />
<line x1="468.54" y1="388.8" x2="468.54" y2="391.8" stroke="#4a4a4a" stroke-width="1.0" />
<line x1="501.3" y1="388.8" x2="501.3" y2="391.8" stroke="#4a4a4a" stroke-width="1.0" />
<line x1="321.12" y1="388.8" x2="321.12" y2="390.8" stroke="#4a4a4a" stroke-width="1.0" />
<line x1="353.88" y1="388.8" x2="353.88" y2="390.8" stroke="#4a4a4a" stroke-width="1.0" />
<line x1="386.64" y1="388.8" x2="386.64" y2="390.8" stroke="#4a4a4a" stroke-width="1.0" />
<line x1="419.4" y1="388.8" x2="419.4" y2="390.8" stroke="#4a4a4a" stroke-width="1.0" />
<line x1="452.16" y1="388.8" x2="452.16" y2="390.8" stroke="#4a4a4a" stroke-width="1.0" />
<line x1="484.92" y1="388.8" x2="484.92" y2="390.8" stroke="#4a4a4a" stroke-width="1.0" />
<line x1="517.68" y1="388.8" x2="517.68" y2="390.8" stroke="#4a4a4a" stroke-width="1.0" />
<line x1="319.5" y1="377.7" x2="316.5" y2="377.7" stroke="#4a4a4a" stroke-width="1.0" />
<line x1="319.5" y1="355.25" x2="316.5" y2="355.25" stroke="#4a4a4a" stroke-width="1.0" />
<line x1="319.5" y1="332.8" x2="316.5" y2="332.8" stroke="#4a4a4a" stroke-width="1.0" />
<line x1="319.5" y1="310.35" x2="316.5" y2="310.35" stroke="#4a4a4a" stroke-width="1.0" />
<line x1="319.5" y1="287.9" x2="316.5" y2="287.9" stroke="#4a4a4a" stroke-width="1.0" />
<line x1="319.5" y1="265.45" x2="316.5" y2="265.45" stroke="#4a4a4a" stroke-width="1.0" />
<line x1="319.5" y1="243" x2="316.5" y2="243" stroke="#4a4a4a" stroke-width="1.0" />
<line x1="319.5" y1="388.93" x2="317.5" y2="388.93" stroke="#4a4a4a" stroke-width="1.0" />
<line x1="319.5" y1="366.47" x2="317.5" y2="366.47" stroke="#4a4a4a" stroke-width="1.0" />
<line x1="319.5" y1="344.02" x2="317.5" y2="344.02" stroke="#4a4a4a" stroke-width="1.0" />
<line x1="319.5" y1="321.57" x2="317.5" y2="321.57" stroke="#4a4a4a" stroke-width="1.0" />
<line x1="319.5" y1="299.12" x2="317.5" y2="299.12" stroke="#4a4a4a" stroke-width="1.0" />
<line x1="319.5" y1="276.68" x2="317.5" y2="276.68" stroke="#4a4a4a" stroke-width="1.0" />
<line x1="319.5" y1="254.23" x2="317.5" y2="254.23" stroke="#4a4a4a" stroke-width="1.0" />
<line x1="319.5" y1="231.77" x2="317.5" y2="231.77" stroke="#4a4a4a" stroke-width="1.0" />
<text x="337.5" y="402.2" font-size="10.4" text-anchor="middle" font-weight="bold" fill="#000" >0</text>
<text x="370.26" y="402.2" font-size="10.4" text-anchor="middle" font-weight="bold" fill="#000" >10</text>
<text x="403.02" y="402.2" font-size="10.4" text-anchor="middle" font-weight="bold" fill="#000" >20</text>
<text x="435.78" y="402.2" font-size="10.4" text-anchor="middle" font-weight="bold" fill="#000" >30</text>
<text x="468.54" y="402.2" font-size="10.4" text-anchor="middle" font-weight="bold" fill="#000" >40</text>
<text x="501.3" y="402.2" font-size="10.4" text-anchor="middle" font-weight="bold" fill="#000" >50</text>
<text x="315" y="381.4" font-size="10.4" text-anchor="end" font-weight="bold" fill="#000" >0</text>
<text x="315" y="358.95" font-size="10.4" text-anchor="end" font-weight="bold" fill="#000" >20</text>
<text x="315" y="336.5" font-size="10.4" text-anchor="end" font-weight="bold" fill="#000" >40</text>
<text x="315" y="314.05" font-size="10.4" text-anchor="end" font-weight="bold" fill="#000" >60</text>
<text x="315" y="291.6" font-size="10.4" text-anchor="end" font-weight="bold" fill="#000" >80</text>
<text x="315" y="269.15" font-size="10.4" text-anchor="end" font-weight="bold" fill="#000" >100</text>
<text x="315" y="246.7" font-size="10.4" text-anchor="end" font-weight="bold" fill="#000" >120</text>
<text x="419" y="420.3" font-size="11.4" text-anchor="middle" font-weight="bold" fill="#000" >Time (ns)</text>
<text x="284.4" y="317.5" font-size="11.2" text-anchor="middle" font-weight="bold" fill="#000" transform="rotate(-90 284.4 317.5)" >Accounts (CPS)</text>
<line x1="407.5" y1="247.5" x2="425.8" y2="247.5" stroke="#ff2020" stroke-width="1.2" />
<line x1="407.5" y1="261.3" x2="425.8" y2="261.3" stroke="#ff20ff" stroke-width="1.2" />
<text x="432" y="251.3" font-size="10.8" text-anchor="start" font-weight="bold" fill="#000" >CQDs</text>
<text x="432" y="265.1" font-size="10.8" text-anchor="start" font-weight="bold" fill="#000" >CQDs/AuNPs</text>
<text x="0.3" y="449.9" font-size="19.5" text-anchor="start" font-weight="bold" fill="#000" >e</text>
<path d="M42.50 594.50 L222.50 594.50" fill="none" stroke="#ff2020" stroke-width="1.2" stroke-linejoin="round" />
<path d="M42.50 563.46 L42.95 563.29 L43.40 563.12 L43.85 562.95 L44.30 562.78 L44.75 562.61 L45.20 562.45 L45.65 562.28 L46.10 562.12 L46.55 561.96 L47.00 561.80 L47.45 561.65 L47.90 561.50 L48.35 561.35 L48.80 561.21 L49.25 561.07 L49.70 560.93 L50.15 560.80 L50.60 560.67 L51.05 560.55 L51.50 560.44 L51.95 560.33 L52.40 560.23 L52.85 560.13 L53.30 560.04 L53.75 559.96 L54.20 559.88 L54.65 559.81 L55.10 559.75 L55.55 559.70 L56.00 559.66 L56.45 559.62 L56.90 559.60 L57.35 559.59 L57.80 559.59 L58.25 559.61 L58.70 559.65 L59.15 559.72 L59.60 559.80 L60.05 559.92 L60.50 560.07 L60.95 560.25 L61.40 560.47 L61.85 560.72 L62.30 561.02 L62.75 561.36 L63.20 561.73 L63.65 562.13 L64.10 562.53 L64.55 562.94 L65.00 563.33 L65.45 563.70 L65.90 564.04 L66.35 564.34 L66.80 564.60 L67.25 564.82 L67.70 565.00 L68.15 565.16 L68.60 565.29 L69.05 565.41 L69.50 565.50 L69.95 565.58 L70.40 565.65 L70.85 565.72 L71.30 565.79 L71.75 565.85 L72.20 565.92 L72.65 565.99 L73.10 566.07 L73.55 566.14 L74.00 566.22 L74.45 566.30 L74.90 566.38 L75.35 566.46 L75.80 566.54 L76.25 566.62 L76.70 566.71 L77.15 566.79 L77.60 566.88 L78.05 566.97 L78.50 567.06 L78.95 567.15 L79.40 567.24 L79.85 567.33 L80.30 567.42 L80.75 567.51 L81.20 567.60 L81.65 567.69 L82.10 567.78 L82.55 567.88 L83.00 567.97 L83.45 568.06 L83.90 568.15 L84.35 568.24 L84.80 568.33 L85.25 568.41 L85.70 568.50 L86.15 568.59 L86.60 568.67 L87.05 568.76 L87.50 568.84 L87.95 568.92 L88.40 569.00 L88.85 569.08 L89.30 569.16 L89.75 569.23 L90.20 569.31 L90.65 569.38 L91.10 569.45 L91.55 569.52 L92.00 569.58 L92.45 569.65 L92.90 569.71 L93.35 569.77 L93.80 569.84 L94.25 569.89 L94.70 569.95 L95.15 570.01 L95.60 570.06 L96.05 570.12 L96.50 570.17 L96.95 570.22 L97.40 570.27 L97.85 570.32 L98.30 570.37 L98.75 570.41 L99.20 570.46 L99.65 570.50 L100.10 570.55 L100.55 570.59 L101.00 570.63 L101.45 570.67 L101.90 570.71 L102.35 570.75 L102.80 570.78 L103.25 570.82 L103.70 570.85 L104.15 570.89 L104.60 570.92 L105.05 570.96 L105.50 570.99 L105.95 571.02 L106.40 571.05 L106.85 571.08 L107.30 571.11 L107.75 571.14 L108.20 571.17 L108.65 571.20 L109.10 571.22 L109.55 571.25 L110.00 571.28 L110.45 571.30 L110.90 571.33 L111.35 571.35 L111.80 571.38 L112.25 571.40 L112.70 571.42 L113.15 571.44 L113.60 571.46 L114.05 571.48 L114.50 571.50 L114.95 571.51 L115.40 571.53 L115.85 571.54 L116.30 571.55 L116.75 571.56 L117.20 571.56 L117.65 571.57 L118.10 571.57 L118.55 571.57 L119.00 571.57 L119.45 571.57 L119.90 571.56 L120.35 571.55 L120.80 571.54 L121.25 571.52 L121.70 571.51 L122.15 571.49 L122.60 571.46 L123.05 571.43 L123.50 571.40 L123.95 571.37 L124.40 571.33 L124.85 571.29 L125.30 571.25 L125.75 571.20 L126.20 571.15 L126.65 571.10 L127.10 571.04 L127.55 570.98 L128.00 570.91 L128.45 570.85 L128.90 570.78 L129.35 570.71 L129.80 570.64 L130.25 570.56 L130.70 570.48 L131.15 570.41 L131.60 570.33 L132.05 570.25 L132.50 570.16 L132.95 570.08 L133.40 570.00 L133.85 569.91 L134.30 569.83 L134.75 569.74 L135.20 569.66 L135.65 569.58 L136.10 569.49 L136.55 569.41 L137.00 569.33 L137.45 569.24 L137.90 569.16 L138.35 569.08 L138.80 569.01 L139.25 568.93 L139.70 568.85 L140.15 568.78 L140.60 568.71 L141.05 568.64 L141.50 568.58 L141.95 568.51 L142.40 568.45 L142.85 568.40 L143.30 568.34 L143.75 568.29 L144.20 568.25 L144.65 568.20 L145.10 568.16 L145.55 568.12 L146.00 568.08 L146.45 568.05 L146.90 568.02 L147.35 567.99 L147.80 567.96 L148.25 567.93 L148.70 567.90 L149.15 567.88 L149.60 567.85 L150.05 567.83 L150.50 567.80 L150.95 567.78 L151.40 567.75 L151.85 567.73 L152.30 567.70 L152.75 567.68 L153.20 567.65 L153.65 567.62 L154.10 567.59 L154.55 567.56 L155.00 567.53 L155.45 567.50 L155.90 567.46 L156.35 567.42 L156.80 567.38 L157.25 567.34 L157.70 567.29 L158.15 567.25 L158.60 567.20 L159.05 567.15 L159.50 567.10 L159.95 567.05 L160.40 567.00 L160.85 566.94 L161.30 566.89 L161.75 566.83 L162.20 566.77 L162.65 566.71 L163.10 566.64 L163.55 566.58 L164.00 566.52 L164.45 566.45 L164.90 566.38 L165.35 566.31 L165.80 566.24 L166.25 566.17 L166.70 566.10 L167.15 566.03 L167.60 565.95 L168.05 565.88 L168.50 565.80 L168.95 565.72 L169.40 565.65 L169.85 565.57 L170.30 565.49 L170.75 565.41 L171.20 565.33 L171.65 565.25 L172.10 565.16 L172.55 565.08 L173.00 565.00 L173.45 564.91 L173.90 564.83 L174.35 564.74 L174.80 564.66 L175.25 564.57 L175.70 564.48 L176.15 564.40 L176.60 564.31 L177.05 564.22 L177.50 564.13 L177.95 564.05 L178.40 563.96 L178.85 563.87 L179.30 563.78 L179.75 563.69 L180.20 563.61 L180.65 563.52 L181.10 563.43 L181.55 563.34 L182.00 563.25 L182.45 563.16 L182.90 563.07 L183.35 562.99 L183.80 562.90 L184.25 562.81 L184.70 562.72 L185.15 562.64 L185.60 562.55 L186.05 562.46 L186.50 562.38 L186.95 562.29 L187.40 562.21 L187.85 562.12 L188.30 562.04 L188.75 561.95 L189.20 561.87 L189.65 561.79 L190.10 561.70 L190.55 561.62 L191.00 561.54 L191.45 561.46 L191.90 561.38 L192.35 561.30 L192.80 561.22 L193.25 561.15 L193.70 561.07 L194.15 561.00 L194.60 560.92 L195.05 560.85 L195.50 560.77 L195.95 560.70 L196.40 560.63 L196.85 560.56 L197.30 560.49 L197.75 560.42 L198.20 560.36 L198.65 560.29 L199.10 560.23 L199.55 560.16 L200.00 560.10 L200.45 560.04 L200.90 559.98 L201.35 559.92 L201.80 559.87 L202.25 559.81 L202.70 559.76 L203.15 559.70 L203.60 559.65 L204.05 559.60 L204.50 559.56 L204.95 559.51 L205.40 559.46 L205.85 559.42 L206.30 559.38 L206.75 559.35 L207.20 559.32 L207.65 559.29 L208.10 559.27 L208.55 559.26 L209.00 559.26 L209.45 559.26 L209.90 559.28 L210.35 559.30 L210.80 559.34 L211.25 559.38 L211.70 559.43 L212.15 559.50 L212.60 559.57 L213.05 559.65 L213.50 559.73 L213.95 559.83 L214.40 559.93 L214.85 560.04 L215.30 560.15 L215.75 560.27 L216.20 560.40 L216.65 560.53 L217.10 560.66 L217.55 560.80 L218.00 560.95 L218.45 561.10 L218.90 561.25 L219.35 561.40 L219.80 561.56 L220.25 561.72 L220.70 561.88 L221.15 562.04 L221.60 562.20 L222.05 562.37 L222.50 562.53" fill="none" stroke="#ff30ff" stroke-width="1.2" stroke-linejoin="round" />
<path d="M42.50 527.66 L42.95 527.81 L43.40 527.96 L43.85 528.11 L44.30 528.26 L44.75 528.41 L45.20 528.57 L45.65 528.73 L46.10 528.89 L46.55 529.05 L47.00 529.21 L47.45 529.39 L47.90 529.56 L48.35 529.74 L48.80 529.92 L49.25 530.11 L49.70 530.30 L50.15 530.50 L50.60 530.71 L51.05 530.92 L51.50 531.14 L51.95 531.37 L52.40 531.60 L52.85 531.84 L53.30 532.08 L53.75 532.31 L54.20 532.55 L54.65 532.78 L55.10 533.00 L55.55 533.22 L56.00 533.42 L56.45 533.61 L56.90 533.79 L57.35 533.95 L57.80 534.10 L58.25 534.22 L58.70 534.32 L59.15 534.40 L59.60 534.45 L60.05 534.48 L60.50 534.48 L60.95 534.47 L61.40 534.44 L61.85 534.39 L62.30 534.33 L62.75 534.26 L63.20 534.18 L63.65 534.09 L64.10 534.00 L64.55 533.91 L65.00 533.82 L65.45 533.73 L65.90 533.64 L66.35 533.57 L66.80 533.50 L67.25 533.46 L67.70 533.43 L68.15 533.42 L68.60 533.44 L69.05 533.49 L69.50 533.57 L69.95 533.68 L70.40 533.82 L70.85 533.98 L71.30 534.17 L71.75 534.38 L72.20 534.61 L72.65 534.86 L73.10 535.13 L73.55 535.42 L74.00 535.72 L74.45 536.03 L74.90 536.35 L75.35 536.68 L75.80 537.02 L76.25 537.38 L76.70 537.74 L77.15 538.11 L77.60 538.48 L78.05 538.87 L78.50 539.26 L78.95 539.66 L79.40 540.06 L79.85 540.47 L80.30 540.88 L80.75 541.30 L81.20 541.72 L81.65 542.15 L82.10 542.57 L82.55 543.00 L83.00 543.42 L83.45 543.84 L83.90 544.26 L84.35 544.67 L84.80 545.07 L85.25 545.46 L85.70 545.85 L86.15 546.22 L86.60 546.57 L87.05 546.91 L87.50 547.23 L87.95 547.53 L88.40 547.82 L88.85 548.08 L89.30 548.33 L89.75 548.56 L90.20 548.77 L90.65 548.97 L91.10 549.15 L91.55 549.32 L92.00 549.48 L92.45 549.63 L92.90 549.76 L93.35 549.89 L93.80 550.01 L94.25 550.13 L94.70 550.24 L95.15 550.34 L95.60 550.44 L96.05 550.54 L96.50 550.64 L96.95 550.73 L97.40 550.82 L97.85 550.91 L98.30 550.99 L98.75 551.07 L99.20 551.15 L99.65 551.23 L100.10 551.30 L100.55 551.37 L101.00 551.44 L101.45 551.50 L101.90 551.56 L102.35 551.61 L102.80 551.66 L103.25 551.71 L103.70 551.75 L104.15 551.79 L104.60 551.83 L105.05 551.86 L105.50 551.89 L105.95 551.91 L106.40 551.93 L106.85 551.94 L107.30 551.95 L107.75 551.96 L108.20 551.96 L108.65 551.95 L109.10 551.94 L109.55 551.92 L110.00 551.90 L110.45 551.88 L110.90 551.84 L111.35 551.80 L111.80 551.76 L112.25 551.71 L112.70 551.65 L113.15 551.58 L113.60 551.51 L114.05 551.43 L114.50 551.34 L114.95 551.25 L115.40 551.15 L115.85 551.03 L116.30 550.92 L116.75 550.79 L117.20 550.65 L117.65 550.51 L118.10 550.36 L118.55 550.19 L119.00 550.01 L119.45 549.82 L119.90 549.61 L120.35 549.38 L120.80 549.14 L121.25 548.89 L121.70 548.61 L122.15 548.31 L122.60 547.99 L123.05 547.65 L123.50 547.29 L123.95 546.90 L124.40 546.49 L124.85 546.05 L125.30 545.59 L125.75 545.10 L126.20 544.59 L126.65 544.07 L127.10 543.52 L127.55 542.96 L128.00 542.39 L128.45 541.80 L128.90 541.20 L129.35 540.59 L129.80 539.98 L130.25 539.36 L130.70 538.73 L131.15 538.10 L131.60 537.46 L132.05 536.82 L132.50 536.18 L132.95 535.53 L133.40 534.87 L133.85 534.21 L134.30 533.55 L134.75 532.89 L135.20 532.22 L135.65 531.56 L136.10 530.90 L136.55 530.26 L137.00 529.65 L137.45 529.06 L137.90 528.52 L138.35 528.01 L138.80 527.56 L139.25 527.16 L139.70 526.82 L140.15 526.56 L140.60 526.37 L141.05 526.26 L141.50 526.24 L141.95 526.31 L142.40 526.46 L142.85 526.69 L143.30 526.99 L143.75 527.37 L144.20 527.81 L144.65 528.32 L145.10 528.89 L145.55 529.52 L146.00 530.20 L146.45 530.94 L146.90 531.72 L147.35 532.54 L147.80 533.40 L148.25 534.30 L148.70 535.24 L149.15 536.20 L149.60 537.19 L150.05 538.20 L150.50 539.24 L150.95 540.29 L151.40 541.35 L151.85 542.43 L152.30 543.51 L152.75 544.60 L153.20 545.69 L153.65 546.77 L154.10 547.85 L154.55 548.92 L155.00 549.98 L155.45 551.02 L155.90 552.05 L156.35 553.06 L156.80 554.05 L157.25 555.03 L157.70 555.99 L158.15 556.93 L158.60 557.86 L159.05 558.77 L159.50 559.66 L159.95 560.54 L160.40 561.39 L160.85 562.23 L161.30 563.06 L161.75 563.86 L162.20 564.64 L162.65 565.41 L163.10 566.15 L163.55 566.88 L164.00 567.59 L164.45 568.28 L164.90 568.94 L165.35 569.59 L165.80 570.22 L166.25 570.83 L166.70 571.42 L167.15 571.98 L167.60 572.53 L168.05 573.05 L168.50 573.56 L168.95 574.04 L169.40 574.51 L169.85 574.95 L170.30 575.38 L170.75 575.79 L171.20 576.18 L171.65 576.56 L172.10 576.92 L172.55 577.27 L173.00 577.60 L173.45 577.92 L173.90 578.22 L174.35 578.52 L174.80 578.80 L175.25 579.06 L175.70 579.32 L176.15 579.57 L176.60 579.81 L177.05 580.04 L177.50 580.25 L177.95 580.47 L178.40 580.67 L178.85 580.87 L179.30 581.06 L179.75 581.25 L180.20 581.43 L180.65 581.61 L181.10 581.78 L181.55 581.94 L182.00 582.11 L182.45 582.27 L182.90 582.42 L183.35 582.57 L183.80 582.71 L184.25 582.85 L184.70 582.99 L185.15 583.12 L185.60 583.25 L186.05 583.38 L186.50 583.50 L186.95 583.62 L187.40 583.73 L187.85 583.84 L188.30 583.95 L188.75 584.05 L189.20 584.15 L189.65 584.25 L190.10 584.35 L190.55 584.44 L191.00 584.52 L191.45 584.61 L191.90 584.69 L192.35 584.77 L192.80 584.85 L193.25 584.92 L193.70 585.00 L194.15 585.07 L194.60 585.13 L195.05 585.20 L195.50 585.26 L195.95 585.33 L196.40 585.38 L196.85 585.44 L197.30 585.50 L197.75 585.55 L198.20 585.60 L198.65 585.65 L199.10 585.70 L199.55 585.75 L200.00 585.80 L200.45 585.84 L200.90 585.89 L201.35 585.93 L201.80 585.97 L202.25 586.01 L202.70 586.05 L203.15 586.09 L203.60 586.13 L204.05 586.17 L204.50 586.21 L204.95 586.25 L205.40 586.28 L205.85 586.32 L206.30 586.36 L206.75 586.39 L207.20 586.43 L207.65 586.46 L208.10 586.50 L208.55 586.53 L209.00 586.57 L209.45 586.60 L209.90 586.64 L210.35 586.67 L210.80 586.70 L211.25 586.74 L211.70 586.77 L212.15 586.80 L212.60 586.84 L213.05 586.87 L213.50 586.90 L213.95 586.93 L214.40 586.97 L214.85 587.00 L215.30 587.03 L215.75 587.06 L216.20 587.09 L216.65 587.12 L217.10 587.16 L217.55 587.19 L218.00 587.22 L218.45 587.25 L218.90 587.28 L219.35 587.31 L219.80 587.34 L220.25 587.37 L220.70 587.40 L221.15 587.43 L221.60 587.46 L222.05 587.49 L222.50 587.52" fill="none" stroke="#3030ff" stroke-width="1.2" stroke-linejoin="round" />
<path d="M42.50 588.80 L42.95 588.47 L43.40 588.13 L43.85 587.78 L44.30 587.44 L44.75 587.10 L45.20 586.75 L45.65 586.41 L46.10 586.06 L46.55 585.72 L47.00 585.37 L47.45 585.03 L47.90 584.69 L48.35 584.35 L48.80 584.01 L49.25 583.68 L49.70 583.35 L50.15 583.02 L50.60 582.70 L51.05 582.38 L51.50 582.06 L51.95 582.90 L52.40 582.58 L52.85 582.24 L53.30 581.90 L53.75 581.56 L54.20 581.23 L54.65 580.90 L55.10 580.58 L55.55 580.26 L56.00 579.97 L56.45 579.69 L56.90 579.43 L57.35 579.19 L57.80 578.99 L58.25 578.81 L58.70 578.64 L59.15 578.48 L59.60 578.31 L60.05 578.15 L60.50 578.00 L60.95 577.86 L61.40 577.74 L61.85 577.63 L62.30 577.54 L62.75 577.47 L63.20 577.43 L63.65 577.41 L64.10 577.43 L64.55 577.47 L65.00 577.54 L65.45 577.64 L65.90 577.76 L66.35 577.90 L66.80 578.06 L67.25 578.24 L67.70 578.43 L68.15 578.64 L68.60 578.86 L69.05 579.09 L69.50 579.33 L69.95 579.57 L70.40 579.82 L70.85 580.07 L71.30 580.32 L71.75 580.60 L72.20 580.93 L72.65 581.31 L73.10 581.73 L73.55 582.18 L74.00 582.67 L74.45 583.18 L74.90 583.70 L75.35 584.23 L75.80 584.77 L76.25 585.30 L76.70 585.83 L77.15 586.34 L77.60 586.83 L78.05 587.29 L78.50 586.56 L78.95 586.94 L79.40 587.31 L79.85 587.67 L80.30 588.02 L80.75 588.37 L81.20 588.71 L81.65 589.04 L82.10 589.36 L82.55 589.67 L83.00 589.97 L83.45 590.26 L83.90 590.53 L84.35 590.78 L84.80 591.02 L85.25 591.25 L85.70 591.45 L86.15 591.65 L86.60 591.84 L87.05 592.01 L87.50 592.18 L87.95 592.34 L88.40 592.48 L88.85 592.62 L89.30 592.76 L89.75 592.89 L90.20 593.02 L90.65 593.15 L91.10 593.28 L91.55 593.39 L92.00 593.50 L92.45 593.58 L92.90 593.65 L93.35 593.69 L93.80 593.71 L94.25 593.74 L94.70 593.76 L95.15 593.78 L95.60 593.80 L96.05 593.82 L96.50 593.84" fill="none" stroke="#40e040" stroke-width="1.2" stroke-linejoin="round" />
<path d="M42.50 588.80 L42.95 588.47 L43.40 588.13 L43.85 587.78 L44.30 587.44 L44.75 587.10 L45.20 586.75 L45.65 586.41 L46.10 586.06 L46.55 585.72 L47.00 585.37 L47.45 585.03 L47.90 584.69 L48.35 584.35 L48.80 584.01 L49.25 583.68 L49.70 583.35 L50.15 583.02 L50.60 582.70 L51.05 582.38 L51.50 582.06 L51.95 581.74 L52.40 581.41 L52.85 581.08 L53.30 580.74 L53.75 580.40 L54.20 580.07 L54.65 579.73 L55.10 579.41 L55.55 579.10 L56.00 578.81 L56.45 578.53 L56.90 578.27 L57.35 578.03 L57.80 577.82 L58.25 577.64 L58.70 577.48 L59.15 577.31 L59.60 577.15 L60.05 576.99 L60.50 576.84 L60.95 576.70 L61.40 576.57 L61.85 576.46 L62.30 576.37 L62.75 576.31 L63.20 576.26 L63.65 576.25 L64.10 576.26 L64.55 576.31 L65.00 576.38 L65.45 576.48 L65.90 576.60 L66.35 576.74 L66.80 576.90 L67.25 577.08 L67.70 577.27 L68.15 577.48 L68.60 577.70 L69.05 577.93 L69.50 578.17 L69.95 578.41 L70.40 578.66 L70.85 578.91 L71.30 579.15 L71.75 579.43 L72.20 579.76 L72.65 580.14 L73.10 580.57 L73.55 581.02 L74.00 581.51 L74.45 582.01 L74.90 582.54 L75.35 583.07 L75.80 583.61 L76.25 584.14 L76.70 584.67 L77.15 585.18 L77.60 585.67 L78.05 586.13 L78.50 586.56 L78.95 586.94 L79.40 587.31 L79.85 587.67 L80.30 588.02 L80.75 588.37 L81.20 588.71 L81.65 589.04 L82.10 589.36 L82.55 589.67 L83.00 589.97 L83.45 590.26 L83.90 590.53 L84.35 590.78 L84.80 591.02 L85.25 591.25 L85.70 591.45 L86.15 591.65 L86.60 591.84 L87.05 592.01 L87.50 592.18 L87.95 592.34 L88.40 592.48 L88.85 592.62 L89.30 592.76 L89.75 592.89 L90.20 593.02 L90.65 593.15 L91.10 593.28 L91.55 593.39 L92.00 593.50 L92.45 593.58 L92.90 593.65 L93.35 593.69 L93.80 593.71 L94.25 593.74 L94.70 593.76 L95.15 593.78 L95.60 593.80 L96.05 593.82 L96.50 593.84 L96.95 593.85 L97.40 593.86 L97.85 593.88 L98.30 593.89 L98.75 593.90 L99.20 593.91 L99.65 593.91 L100.10 593.92 L100.55 593.92 L101.00 593.92 L101.45 593.92 L101.90 593.92 L102.35 593.92 L102.80 593.92 L103.25 593.92 L103.70 593.92 L104.15 593.92 L104.60 593.92 L105.05 593.92 L105.50 593.92 L105.95 593.92 L106.40 593.92 L106.85 593.92 L107.30 593.92 L107.75 593.92 L108.20 593.92 L108.65 593.92 L109.10 593.92 L109.55 593.92 L110.00 593.92 L110.45 593.91 L110.90 593.91 L111.35 593.91 L111.80 593.91 L112.25 593.91 L112.70 593.91 L113.15 593.91 L113.60 593.91 L114.05 593.91 L114.50 593.91 L114.95 593.91 L115.40 593.91 L115.85 593.91 L116.30 593.91 L116.75 593.91 L117.20 593.91 L117.65 593.91 L118.10 593.91 L118.55 593.91 L119.00 593.90 L119.45 593.90 L119.90 593.90 L120.35 593.90 L120.80 593.90 L121.25 593.90 L121.70 593.90 L122.15 593.90 L122.60 593.90 L123.05 593.90 L123.50 593.90 L123.95 593.90 L124.40 593.90 L124.85 593.89 L125.30 593.89 L125.75 593.89 L126.20 593.89 L126.65 593.89 L127.10 593.89 L127.55 593.89 L128.00 593.89 L128.45 593.89 L128.90 593.89 L129.35 593.89 L129.80 593.88 L130.25 593.88 L130.70 593.88 L131.15 593.88 L131.60 593.88 L132.05 593.88 L132.50 593.88 L132.95 593.88 L133.40 593.88 L133.85 593.87 L134.30 593.87 L134.75 593.87 L135.20 593.87 L135.65 593.87 L136.10 593.87 L136.55 593.87 L137.00 593.87 L137.45 593.87 L137.90 593.86 L138.35 593.86 L138.80 593.86 L139.25 593.86 L139.70 593.86 L140.15 593.86 L140.60 593.86 L141.05 593.86 L141.50 593.85 L141.95 593.85 L142.40 593.85 L142.85 593.85 L143.30 593.85 L143.75 593.85 L144.20 593.85 L144.65 593.84 L145.10 593.84 L145.55 593.84 L146.00 593.84 L146.45 593.84 L146.90 593.84 L147.35 593.84 L147.80 593.84 L148.25 593.83 L148.70 593.83 L149.15 593.83 L149.60 593.83 L150.05 593.83 L150.50 593.83 L150.95 593.83 L151.40 593.82 L151.85 593.82 L152.30 593.82 L152.75 593.82 L153.20 593.82 L153.65 593.82 L154.10 593.81 L154.55 593.81 L155.00 593.81 L155.45 593.81 L155.90 593.81 L156.35 593.81 L156.80 593.81 L157.25 593.80 L157.70 593.80 L158.15 593.80 L158.60 593.80 L159.05 593.80 L159.50 593.80 L159.95 593.79 L160.40 593.79 L160.85 593.79 L161.30 593.79 L161.75 593.79 L162.20 593.79 L162.65 593.78 L163.10 593.78 L163.55 593.78 L164.00 593.78 L164.45 593.78 L164.90 593.78 L165.35 593.77 L165.80 593.77 L166.25 593.77 L166.70 593.77 L167.15 593.77 L167.60 593.77 L168.05 593.76 L168.50 593.76 L168.95 593.76 L169.40 593.76 L169.85 593.76 L170.30 593.76 L170.75 593.75 L171.20 593.75 L171.65 593.75 L172.10 593.75 L172.55 593.75 L173.00 593.75 L173.45 593.74 L173.90 593.74 L174.35 593.74 L174.80 593.74 L175.25 593.74 L175.70 593.74 L176.15 593.73 L176.60 593.73 L177.05 593.73 L177.50 593.73 L177.95 593.73 L178.40 593.73 L178.85 593.72 L179.30 593.72 L179.75 593.72 L180.20 593.72 L180.65 593.72 L181.10 593.72 L181.55 593.71 L182.00 593.71 L182.45 593.71 L182.90 593.71 L183.35 593.71 L183.80 593.71 L184.25 593.70 L184.70 593.70 L185.15 593.70 L185.60 593.70 L186.05 593.70 L186.50 593.69 L186.95 593.69 L187.40 593.69 L187.85 593.69 L188.30 593.69 L188.75 593.69 L189.20 593.68 L189.65 593.68 L190.10 593.68 L190.55 593.68 L191.00 593.68 L191.45 593.68 L191.90 593.67 L192.35 593.67 L192.80 593.67 L193.25 593.67 L193.70 593.67 L194.15 593.67 L194.60 593.66 L195.05 593.66 L195.50 593.66 L195.95 593.66 L196.40 593.66 L196.85 593.66 L197.30 593.65 L197.75 593.65 L198.20 593.65 L198.65 593.65 L199.10 593.65 L199.55 593.65 L200.00 593.64 L200.45 593.64 L200.90 593.64 L201.35 593.64 L201.80 593.64 L202.25 593.64 L202.70 593.63 L203.15 593.63 L203.60 593.63 L204.05 593.63 L204.50 593.63 L204.95 593.63 L205.40 593.63 L205.85 593.62 L206.30 593.62 L206.75 593.62 L207.20 593.62 L207.65 593.62 L208.10 593.62 L208.55 593.61 L209.00 593.61 L209.45 593.61 L209.90 593.61 L210.35 593.61 L210.80 593.61 L211.25 593.61 L211.70 593.60 L212.15 593.60 L212.60 593.60 L213.05 593.60 L213.50 593.60 L213.95 593.60 L214.40 593.59 L214.85 593.59 L215.30 593.59 L215.75 593.59 L216.20 593.59 L216.65 593.59 L217.10 593.59 L217.55 593.58 L218.00 593.58 L218.45 593.58 L218.90 593.58 L219.35 593.58 L219.80 593.58 L220.25 593.58 L220.70 593.58 L221.15 593.57 L221.60 593.57 L222.05 593.57 L222.50 593.57" fill="none" stroke="#222" stroke-width="1.2" stroke-linejoin="round" />
<rect x="42.2" y="455" width="203.1" height="151.2" fill="none" stroke="#4a4a4a" stroke-width="1.3"/>
<line x1="42.5" y1="606.2" x2="42.5" y2="609.2" stroke="#4a4a4a" stroke-width="1.0" />
<line x1="87.5" y1="606.2" x2="87.5" y2="609.2" stroke="#4a4a4a" stroke-width="1.0" />
<line x1="132.5" y1="606.2" x2="132.5" y2="609.2" stroke="#4a4a4a" stroke-width="1.0" />
<line x1="177.5" y1="606.2" x2="177.5" y2="609.2" stroke="#4a4a4a" stroke-width="1.0" />
<line x1="222.5" y1="606.2" x2="222.5" y2="609.2" stroke="#4a4a4a" stroke-width="1.0" />
<line x1="65" y1="606.2" x2="65" y2="608.2" stroke="#4a4a4a" stroke-width="1.0" />
<line x1="110" y1="606.2" x2="110" y2="608.2" stroke="#4a4a4a" stroke-width="1.0" />
<line x1="155" y1="606.2" x2="155" y2="608.2" stroke="#4a4a4a" stroke-width="1.0" />
<line x1="200" y1="606.2" x2="200" y2="608.2" stroke="#4a4a4a" stroke-width="1.0" />
<line x1="245" y1="606.2" x2="245" y2="608.2" stroke="#4a4a4a" stroke-width="1.0" />
<line x1="42.2" y1="594.5" x2="39.2" y2="594.5" stroke="#4a4a4a" stroke-width="1.0" />
<line x1="42.2" y1="571.25" x2="39.2" y2="571.25" stroke="#4a4a4a" stroke-width="1.0" />
<line x1="42.2" y1="548" x2="39.2" y2="548" stroke="#4a4a4a" stroke-width="1.0" />
<line x1="42.2" y1="524.75" x2="39.2" y2="524.75" stroke="#4a4a4a" stroke-width="1.0" />
<line x1="42.2" y1="501.5" x2="39.2" y2="501.5" stroke="#4a4a4a" stroke-width="1.0" />
<line x1="42.2" y1="478.25" x2="39.2" y2="478.25" stroke="#4a4a4a" stroke-width="1.0" />
<line x1="42.2" y1="455" x2="39.2" y2="455" stroke="#4a4a4a" stroke-width="1.0" />
<line x1="42.2" y1="606.12" x2="40.2" y2="606.12" stroke="#4a4a4a" stroke-width="1.0" />
<line x1="42.2" y1="582.88" x2="40.2" y2="582.88" stroke="#4a4a4a" stroke-width="1.0" />
<line x1="42.2" y1="559.62" x2="40.2" y2="559.62" stroke="#4a4a4a" stroke-width="1.0" />
<line x1="42.2" y1="536.38" x2="40.2" y2="536.38" stroke="#4a4a4a" stroke-width="1.0" />
<line x1="42.2" y1="513.12" x2="40.2" y2="513.12" stroke="#4a4a4a" stroke-width="1.0" />
<line x1="42.2" y1="489.88" x2="40.2" y2="489.88" stroke="#4a4a4a" stroke-width="1.0" />
<line x1="42.2" y1="466.62" x2="40.2" y2="466.62" stroke="#4a4a4a" stroke-width="1.0" />
<text x="42.5" y="619.8" font-size="10.4" text-anchor="middle" font-weight="bold" fill="#000" >300</text>
<text x="87.5" y="619.8" font-size="10.4" text-anchor="middle" font-weight="bold" fill="#000" >400</text>
<text x="132.5" y="619.8" font-size="10.4" text-anchor="middle" font-weight="bold" fill="#000" >500</text>
<text x="177.5" y="619.8" font-size="10.4" text-anchor="middle" font-weight="bold" fill="#000" >600</text>
<text x="222.5" y="619.8" font-size="10.4" text-anchor="middle" font-weight="bold" fill="#000" >700</text>
<text x="37.6" y="598.2" font-size="10.4" text-anchor="end" font-weight="bold" fill="#000" >0.0</text>
<text x="37.6" y="574.95" font-size="10.4" text-anchor="end" font-weight="bold" fill="#000" >0.2</text>
<text x="37.6" y="551.7" font-size="10.4" text-anchor="end" font-weight="bold" fill="#000" >0.4</text>
<text x="37.6" y="528.45" font-size="10.4" text-anchor="end" font-weight="bold" fill="#000" >0.6</text>
<text x="37.6" y="505.2" font-size="10.4" text-anchor="end" font-weight="bold" fill="#000" >0.8</text>
<text x="37.6" y="481.95" font-size="10.4" text-anchor="end" font-weight="bold" fill="#000" >1.0</text>
<text x="37.6" y="458.7" font-size="10.4" text-anchor="end" font-weight="bold" fill="#000" >1.2</text>
<text x="144" y="638" font-size="11.4" text-anchor="middle" font-weight="bold" fill="#000" >Wavelength (nm)</text>
<text x="10.2" y="536.9" font-size="10.8" text-anchor="middle" font-weight="bold" fill="#000" transform="rotate(-90 10.2 536.9)" >Abs</text>
<line x1="95" y1="464.25" x2="112.5" y2="464.25" stroke="#40e040" stroke-width="1.2" />
<text x="118.8" y="467.95" font-size="10.5" text-anchor="start" font-weight="bold" fill="#000" >CQDs</text>
<line x1="95" y1="477.5" x2="112.5" y2="477.5" stroke="#ff2020" stroke-width="1.2" />
<text x="118.8" y="481.2" font-size="10.5" text-anchor="start" font-weight="bold" fill="#000" >protamine</text>
<line x1="95" y1="490.75" x2="112.5" y2="490.75" stroke="#3030ff" stroke-width="1.2" />
<text x="118.8" y="494.45" font-size="10.5" text-anchor="start" font-weight="bold" fill="#000" >CQDs + AuNPs</text>
<line x1="95" y1="503.75" x2="112.5" y2="503.75" stroke="#ff30ff" stroke-width="1.2" />
<text x="118.8" y="507.45" font-size="10.5" text-anchor="start" font-weight="bold" fill="#000" >CQDs/AuNPs+protamine</text>
<line x1="95" y1="517" x2="112.5" y2="517" stroke="#222" stroke-width="1.2" />
<text x="118.8" y="520.7" font-size="10.5" text-anchor="start" font-weight="bold" fill="#000" >CQDs + protamine</text>
<text x="273.9" y="450.8" font-size="20.5" text-anchor="start" font-weight="bold" fill="#000" >f</text>
<path d="M332.50 586.45 L333.00 586.20 L333.50 585.75 L334.00 585.11 L334.50 584.27 L335.00 583.23 L335.50 582.00 L336.00 580.59 L336.50 579.00 L337.00 577.24 L337.50 575.33 L338.00 573.26 L338.50 571.05 L339.00 568.73 L339.50 566.29 L340.00 563.75 L340.50 561.12 L341.00 558.43 L341.50 555.67 L342.00 552.88 L342.50 550.05 L343.00 547.20 L343.50 544.35 L344.00 541.50 L344.50 538.67 L345.00 535.87 L345.50 533.10 L346.00 530.38 L346.50 527.72 L347.00 525.11 L347.50 522.58 L348.00 520.12 L348.50 517.74 L349.00 515.45 L349.50 513.24 L350.00 511.13 L350.50 509.12 L351.00 507.20 L351.50 505.38 L352.00 503.66 L352.50 502.04 L353.00 500.53 L353.50 499.11 L354.00 497.80 L354.50 496.58 L355.00 495.47 L355.50 494.45 L356.00 493.53 L356.50 492.70 L357.00 491.96 L357.50 491.31 L358.00 490.74 L358.50 490.27 L359.00 489.87 L359.50 489.55 L360.00 489.30 L360.50 489.13 L361.00 489.03 L361.50 489.00 L362.00 489.04 L362.50 489.18 L363.00 489.40 L363.50 489.71 L364.00 490.11 L364.50 490.59 L365.00 491.16 L365.50 491.80 L366.00 492.53 L366.50 493.33 L367.00 494.20 L367.50 495.15 L368.00 496.16 L368.50 497.24 L369.00 498.38 L369.50 499.58 L370.00 500.84 L370.50 502.15 L371.00 503.50 L371.50 504.91 L372.00 506.36 L372.50 507.85 L373.00 509.37 L373.50 510.93 L374.00 512.51 L374.50 514.13 L375.00 515.76 L375.50 517.42 L376.00 519.09 L376.50 520.78 L377.00 522.48 L377.50 524.18 L378.00 525.89 L378.50 527.61 L379.00 529.32 L379.50 531.03 L380.00 532.74 L380.50 534.43 L381.00 536.12 L381.50 537.80 L382.00 539.46 L382.50 541.10 L383.00 542.73 L383.50 544.34 L384.00 545.92 L384.50 547.49 L385.00 549.03 L385.50 550.54 L386.00 552.03 L386.50 553.49 L387.00 554.93 L387.50 556.33 L388.00 557.71 L388.50 559.05 L389.00 560.36 L389.50 561.65 L390.00 562.90 L390.50 564.12 L391.00 565.30 L391.50 566.46 L392.00 567.58 L392.50 568.67 L393.00 569.72 L393.50 570.75 L394.00 571.74 L394.50 572.70 L395.00 573.63 L395.50 574.53 L396.00 575.40 L396.50 576.24 L397.00 577.05 L397.50 577.83 L398.00 578.58 L398.50 579.30 L399.00 580.00 L399.50 580.66 L400.00 581.31 L400.50 581.92 L401.00 582.51 L401.50 583.08 L402.00 583.62 L402.50 584.14 L403.00 584.64 L403.50 585.12 L404.00 585.57 L404.50 586.00 L405.00 586.42 L405.50 586.81 L406.00 587.19 L406.50 587.55 L407.00 587.89 L407.50 588.22 L408.00 588.52 L408.50 588.82 L409.00 589.10 L409.50 589.36 L410.00 589.61 L410.50 589.85 L411.00 590.07 L411.50 590.29 L412.00 590.49 L412.50 590.68 L413.00 590.86 L413.50 591.03 L414.00 591.19 L414.50 591.34 L415.00 591.48 L415.50 591.61 L416.00 591.74 L416.50 591.85 L417.00 591.96 L417.50 592.07 L418.00 592.16 L418.50 592.25 L419.00 592.34 L419.50 592.41 L420.00 592.49 L420.50 592.55 L421.00 592.62 L421.50 592.67 L422.00 592.73 L422.50 592.78 L423.00 592.82 L423.50 592.86 L424.00 592.90 L424.50 592.93 L425.00 592.97 L425.50 592.99 L426.00 593.02 L426.50 593.04 L427.00 593.06 L427.50 593.08 L428.00 593.09 L428.50 593.10 L429.00 593.11 L429.50 593.12 L430.00 593.12 L430.50 593.13 L431.00 593.13 L431.50 593.13 L432.00 593.13 L432.50 593.12 L433.00 593.12 L433.50 593.11 L434.00 593.10 L434.50 593.09 L435.00 593.08 L435.50 593.07 L436.00 593.06 L436.50 593.04 L437.00 593.03 L437.50 593.01 L438.00 592.99 L438.50 592.97 L439.00 592.95 L439.50 592.93 L440.00 592.91 L440.50 592.89 L441.00 592.86 L441.50 592.84 L442.00 592.81 L442.50 592.78" fill="none" stroke="#3030ff" stroke-width="1.2" stroke-linejoin="round" />
<path d="M332.50 589.46 L333.00 589.01 L333.50 588.40 L334.00 587.63 L334.50 586.70 L335.00 585.61 L335.50 584.36 L336.00 582.95 L336.50 581.39 L337.00 579.69 L337.50 577.85 L338.00 575.88 L338.50 573.80 L339.00 571.61 L339.50 569.33 L340.00 566.96 L340.50 564.52 L341.00 562.01 L341.50 559.46 L342.00 556.88 L342.50 554.26 L343.00 551.64 L343.50 549.01 L344.00 546.39 L344.50 543.79 L345.00 541.21 L345.50 538.67 L346.00 536.18 L346.50 533.73 L347.00 531.35 L347.50 529.02 L348.00 526.77 L348.50 524.59 L349.00 522.49 L349.50 520.47 L350.00 518.54 L350.50 516.70 L351.00 514.94 L351.50 513.28 L352.00 511.71 L352.50 510.23 L353.00 508.84 L353.50 507.55 L354.00 506.35 L354.50 505.24 L355.00 504.22 L355.50 503.28 L356.00 502.44 L356.50 501.68 L357.00 501.01 L357.50 500.41 L358.00 499.90 L358.50 499.46 L359.00 499.10 L359.50 498.80 L360.00 498.58 L360.50 498.42 L361.00 498.33 L361.50 498.30 L362.00 498.34 L362.50 498.46 L363.00 498.66 L363.50 498.95 L364.00 499.31 L364.50 499.75 L365.00 500.26 L365.50 500.85 L366.00 501.51 L366.50 502.24 L367.00 503.04 L367.50 503.90 L368.00 504.82 L368.50 505.81 L369.00 506.85 L369.50 507.94 L370.00 509.08 L370.50 510.28 L371.00 511.52 L371.50 512.80 L372.00 514.12 L372.50 515.47 L373.00 516.86 L373.50 518.28 L374.00 519.73 L374.50 521.20 L375.00 522.69 L375.50 524.20 L376.00 525.72 L376.50 527.26 L377.00 528.81 L377.50 530.37 L378.00 531.92 L378.50 533.49 L379.00 535.05 L379.50 536.61 L380.00 538.16 L380.50 539.71 L381.00 541.25 L381.50 542.77 L382.00 544.29 L382.50 545.79 L383.00 547.27 L383.50 548.74 L384.00 550.18 L384.50 551.61 L385.00 553.01 L385.50 554.39 L386.00 555.75 L386.50 557.08 L387.00 558.39 L387.50 559.67 L388.00 560.92 L388.50 562.15 L389.00 563.35 L389.50 564.51 L390.00 565.65 L390.50 566.76 L391.00 567.85 L391.50 568.90 L392.00 569.92 L392.50 570.91 L393.00 571.88 L393.50 572.81 L394.00 573.71 L394.50 574.59 L395.00 575.44 L395.50 576.26 L396.00 577.05 L396.50 577.81 L397.00 578.55 L397.50 579.26 L398.00 579.94 L398.50 580.60 L399.00 581.24 L399.50 581.85 L400.00 582.43 L400.50 582.99 L401.00 583.53 L401.50 584.05 L402.00 584.54 L402.50 585.01 L403.00 585.47 L403.50 585.90 L404.00 586.31 L404.50 586.71 L405.00 587.09 L405.50 587.45 L406.00 587.79 L406.50 588.12 L407.00 588.43 L407.50 588.72 L408.00 589.00 L408.50 589.27 L409.00 589.52 L409.50 589.76 L410.00 589.99 L410.50 590.21 L411.00 590.41 L411.50 590.60 L412.00 590.79 L412.50 590.96 L413.00 591.12 L413.50 591.28 L414.00 591.42 L414.50 591.56 L415.00 591.69 L415.50 591.81 L416.00 591.92 L416.50 592.03 L417.00 592.12 L417.50 592.22 L418.00 592.30 L418.50 592.39 L419.00 592.46 L419.50 592.53 L420.00 592.60 L420.50 592.66 L421.00 592.71 L421.50 592.76 L422.00 592.81 L422.50 592.86 L423.00 592.90 L423.50 592.93 L424.00 592.96 L424.50 592.99 L425.00 593.02 L425.50 593.05 L426.00 593.07 L426.50 593.09 L427.00 593.10 L427.50 593.11 L428.00 593.13 L428.50 593.14 L429.00 593.14 L429.50 593.15 L430.00 593.15 L430.50 593.15 L431.00 593.15 L431.50 593.15 L432.00 593.15 L432.50 593.14 L433.00 593.14 L433.50 593.13 L434.00 593.12 L434.50 593.11 L435.00 593.10 L435.50 593.08 L436.00 593.07 L436.50 593.05 L437.00 593.04 L437.50 593.02 L438.00 593.00 L438.50 592.98 L439.00 592.96 L439.50 592.94 L440.00 592.92 L440.50 592.89 L441.00 592.87 L441.50 592.84 L442.00 592.82 L442.50 592.79" fill="none" stroke="#ff2020" stroke-width="1.2" stroke-linejoin="round" />
<path d="M332.50 589.93 L333.00 589.12 L333.50 588.10 L334.00 586.89 L334.50 585.48 L335.00 583.86 L335.50 582.04 L336.00 580.02 L336.50 577.81 L337.00 575.41 L337.50 572.83 L338.00 570.09 L338.50 567.21 L339.00 564.18 L339.50 561.03 L340.00 557.76 L340.50 554.41 L341.00 550.98 L341.50 547.49 L342.00 543.95 L342.50 540.38 L343.00 536.80 L343.50 533.21 L344.00 529.64 L344.50 526.09 L345.00 522.59 L345.50 519.13 L346.00 515.73 L346.50 512.41 L347.00 509.16 L347.50 506.00 L348.00 502.94 L348.50 499.98 L349.00 497.13 L349.50 494.39 L350.00 491.76 L350.50 489.26 L351.00 486.87 L351.50 484.62 L352.00 482.48 L352.50 480.47 L353.00 478.59 L353.50 476.84 L354.00 475.21 L354.50 473.70 L355.00 472.32 L355.50 471.05 L356.00 469.91 L356.50 468.88 L357.00 467.96 L357.50 467.16 L358.00 466.46 L358.50 465.86 L359.00 465.37 L359.50 464.97 L360.00 464.67 L360.50 464.46 L361.00 464.33 L361.50 464.29 L362.00 464.34 L362.50 464.50 L363.00 464.78 L363.50 465.16 L364.00 465.65 L364.50 466.25 L365.00 466.95 L365.50 467.74 L366.00 468.64 L366.50 469.63 L367.00 470.71 L367.50 471.87 L368.00 473.12 L368.50 474.46 L369.00 475.87 L369.50 477.35 L370.00 478.90 L370.50 480.52 L371.00 482.19 L371.50 483.93 L372.00 485.72 L372.50 487.55 L373.00 489.44 L373.50 491.36 L374.00 493.32 L374.50 495.31 L375.00 497.33 L375.50 499.38 L376.00 501.45 L376.50 503.53 L377.00 505.63 L377.50 507.73 L378.00 509.85 L378.50 511.96 L379.00 514.08 L379.50 516.19 L380.00 518.30 L380.50 520.40 L381.00 522.48 L381.50 524.55 L382.00 526.60 L382.50 528.63 L383.00 530.64 L383.50 532.63 L384.00 534.59 L384.50 536.52 L385.00 538.43 L385.50 540.30 L386.00 542.14 L386.50 543.94 L387.00 545.71 L387.50 547.45 L388.00 549.15 L388.50 550.81 L389.00 552.43 L389.50 554.02 L390.00 555.56 L390.50 557.07 L391.00 558.53 L391.50 559.96 L392.00 561.34 L392.50 562.69 L393.00 564.00 L393.50 565.26 L394.00 566.49 L394.50 567.68 L395.00 568.83 L395.50 569.94 L396.00 571.01 L396.50 572.05 L397.00 573.05 L397.50 574.01 L398.00 574.94 L398.50 575.83 L399.00 576.69 L399.50 577.52 L400.00 578.31 L400.50 579.08 L401.00 579.81 L401.50 580.51 L402.00 581.18 L402.50 581.82 L403.00 582.44 L403.50 583.03 L404.00 583.59 L404.50 584.13 L405.00 584.64 L405.50 585.13 L406.00 585.60 L406.50 586.04 L407.00 586.46 L407.50 586.87 L408.00 587.25 L408.50 587.61 L409.00 587.96 L409.50 588.29 L410.00 588.60 L410.50 588.89 L411.00 589.17 L411.50 589.44 L412.00 589.69 L412.50 589.93 L413.00 590.15 L413.50 590.36 L414.00 590.56 L414.50 590.75 L415.00 590.92 L415.50 591.09 L416.00 591.25 L416.50 591.39 L417.00 591.53 L417.50 591.66 L418.00 591.78 L418.50 591.90 L419.00 592.00 L419.50 592.10 L420.00 592.19 L420.50 592.28 L421.00 592.36 L421.50 592.44 L422.00 592.50 L422.50 592.57 L423.00 592.63 L423.50 592.68 L424.00 592.73 L424.50 592.78 L425.00 592.82 L425.50 592.85 L426.00 592.89 L426.50 592.92 L427.00 592.95 L427.50 592.97 L428.00 592.99 L428.50 593.01 L429.00 593.03 L429.50 593.04 L430.00 593.05 L430.50 593.06 L431.00 593.07 L431.50 593.07 L432.00 593.07 L432.50 593.07 L433.00 593.07 L433.50 593.07 L434.00 593.06 L434.50 593.06 L435.00 593.05 L435.50 593.04 L436.00 593.03 L436.50 593.02 L437.00 593.00 L437.50 592.99 L438.00 592.97 L438.50 592.95 L439.00 592.94 L439.50 592.92 L440.00 592.89 L440.50 592.87 L441.00 592.85 L441.50 592.83 L442.00 592.80 L442.50 592.77" fill="none" stroke="#222" stroke-width="1.2" stroke-linejoin="round" />
<path d="M332.50 591.84 L333.00 590.85 L333.50 589.68 L334.00 588.33 L334.50 586.79 L335.00 585.06 L335.50 583.14 L336.00 581.04 L336.50 578.75 L337.00 576.28 L337.50 573.65 L338.00 570.87 L338.50 567.93 L339.00 564.87 L339.50 561.69 L340.00 558.40 L340.50 555.03 L341.00 551.59 L341.50 548.08 L342.00 544.54 L342.50 540.96 L343.00 537.38 L343.50 533.79 L344.00 530.22 L344.50 526.68 L345.00 523.18 L345.50 519.72 L346.00 516.34 L346.50 513.02 L347.00 509.78 L347.50 506.63 L348.00 503.58 L348.50 500.63 L349.00 497.79 L349.50 495.06 L350.00 492.44 L350.50 489.95 L351.00 487.57 L351.50 485.32 L352.00 483.20 L352.50 481.20 L353.00 479.32 L353.50 477.58 L354.00 475.95 L354.50 474.45 L355.00 473.08 L355.50 471.82 L356.00 470.68 L356.50 469.65 L357.00 468.74 L357.50 467.94 L358.00 467.24 L358.50 466.65 L359.00 466.16 L359.50 465.76 L360.00 465.46 L360.50 465.25 L361.00 465.12 L361.50 465.08 L362.00 465.13 L362.50 465.30 L363.00 465.57 L363.50 465.95 L364.00 466.44 L364.50 467.03 L365.00 467.72 L365.50 468.51 L366.00 469.40 L366.50 470.38 L367.00 471.46 L367.50 472.62 L368.00 473.86 L368.50 475.18 L369.00 476.58 L369.50 478.06 L370.00 479.60 L370.50 481.21 L371.00 482.87 L371.50 484.60 L372.00 486.38 L372.50 488.20 L373.00 490.07 L373.50 491.98 L374.00 493.93 L374.50 495.91 L375.00 497.92 L375.50 499.95 L376.00 502.01 L376.50 504.08 L377.00 506.16 L377.50 508.26 L378.00 510.36 L378.50 512.46 L379.00 514.57 L379.50 516.67 L380.00 518.76 L380.50 520.84 L381.00 522.91 L381.50 524.97 L382.00 527.01 L382.50 529.03 L383.00 531.03 L383.50 533.00 L384.00 534.95 L384.50 536.87 L385.00 538.76 L385.50 540.62 L386.00 542.45 L386.50 544.25 L387.00 546.01 L387.50 547.73 L388.00 549.42 L388.50 551.07 L389.00 552.68 L389.50 554.26 L390.00 555.79 L390.50 557.29 L391.00 558.75 L391.50 560.16 L392.00 561.54 L392.50 562.88 L393.00 564.18 L393.50 565.44 L394.00 566.66 L394.50 567.84 L395.00 568.98 L395.50 570.09 L396.00 571.15 L396.50 572.18 L397.00 573.18 L397.50 574.13 L398.00 575.06 L398.50 575.94 L399.00 576.80 L399.50 577.62 L400.00 578.41 L400.50 579.17 L401.00 579.89 L401.50 580.59 L402.00 581.26 L402.50 581.90 L403.00 582.51 L403.50 583.09 L404.00 583.65 L404.50 584.19 L405.00 584.70 L405.50 585.18 L406.00 585.65 L406.50 586.09 L407.00 586.51 L407.50 586.91 L408.00 587.29 L408.50 587.65 L409.00 588.00 L409.50 588.32 L410.00 588.63 L410.50 588.92 L411.00 589.20 L411.50 589.47 L412.00 589.71 L412.50 589.95 L413.00 590.17 L413.50 590.38 L414.00 590.58 L414.50 590.77 L415.00 590.94 L415.50 591.11 L416.00 591.26 L416.50 591.41 L417.00 591.55 L417.50 591.68 L418.00 591.80 L418.50 591.91 L419.00 592.01 L419.50 592.11 L420.00 592.20 L420.50 592.29 L421.00 592.37 L421.50 592.44 L422.00 592.51 L422.50 592.57 L423.00 592.63 L423.50 592.69 L424.00 592.74 L424.50 592.78 L425.00 592.82 L425.50 592.86 L426.00 592.89 L426.50 592.92 L427.00 592.95 L427.50 592.97 L428.00 592.99 L428.50 593.01 L429.00 593.03 L429.50 593.04 L430.00 593.05 L430.50 593.06 L431.00 593.07 L431.50 593.07 L432.00 593.07 L432.50 593.07 L433.00 593.07 L433.50 593.07 L434.00 593.06 L434.50 593.06 L435.00 593.05 L435.50 593.04 L436.00 593.03 L436.50 593.02 L437.00 593.00 L437.50 592.99 L438.00 592.97 L438.50 592.95 L439.00 592.94 L439.50 592.92 L440.00 592.90 L440.50 592.87 L441.00 592.85 L441.50 592.83 L442.00 592.80 L442.50 592.77" fill="none" stroke="#ff30ff" stroke-width="1.2" stroke-linejoin="round" />
<rect x="318" y="452.5" width="199.5" height="157.5" fill="none" stroke="#4a4a4a" stroke-width="1.3"/>
<line x1="342.5" y1="610" x2="342.5" y2="613" stroke="#4a4a4a" stroke-width="1.0" />
<line x1="392.5" y1="610" x2="392.5" y2="613" stroke="#4a4a4a" stroke-width="1.0" />
<line x1="442.5" y1="610" x2="442.5" y2="613" stroke="#4a4a4a" stroke-width="1.0" />
<line x1="492.5" y1="610" x2="492.5" y2="613" stroke="#4a4a4a" stroke-width="1.0" />
<line x1="317.5" y1="610" x2="317.5" y2="612" stroke="#4a4a4a" stroke-width="1.0" />
<line x1="367.5" y1="610" x2="367.5" y2="612" stroke="#4a4a4a" stroke-width="1.0" />
<line x1="417.5" y1="610" x2="417.5" y2="612" stroke="#4a4a4a" stroke-width="1.0" />
<line x1="467.5" y1="610" x2="467.5" y2="612" stroke="#4a4a4a" stroke-width="1.0" />
<line x1="517.5" y1="610" x2="517.5" y2="612" stroke="#4a4a4a" stroke-width="1.0" />
<line x1="318" y1="594.25" x2="315" y2="594.25" stroke="#4a4a4a" stroke-width="1.0" />
<line x1="318" y1="562.75" x2="315" y2="562.75" stroke="#4a4a4a" stroke-width="1.0" />
<line x1="318" y1="531.25" x2="315" y2="531.25" stroke="#4a4a4a" stroke-width="1.0" />
<line x1="318" y1="499.75" x2="315" y2="499.75" stroke="#4a4a4a" stroke-width="1.0" />
<line x1="318" y1="468.25" x2="315" y2="468.25" stroke="#4a4a4a" stroke-width="1.0" />
<line x1="318" y1="610" x2="316" y2="610" stroke="#4a4a4a" stroke-width="1.0" />
<line x1="318" y1="578.5" x2="316" y2="578.5" stroke="#4a4a4a" stroke-width="1.0" />
<line x1="318" y1="547" x2="316" y2="547" stroke="#4a4a4a" stroke-width="1.0" />
<line x1="318" y1="515.5" x2="316" y2="515.5" stroke="#4a4a4a" stroke-width="1.0" />
<line x1="318" y1="484" x2="316" y2="484" stroke="#4a4a4a" stroke-width="1.0" />
<line x1="318" y1="452.5" x2="316" y2="452.5" stroke="#4a4a4a" stroke-width="1.0" />
<text x="342.5" y="623.6" font-size="10.4" text-anchor="middle" font-weight="bold" fill="#000" >400</text>
<text x="392.5" y="623.6" font-size="10.4" text-anchor="middle" font-weight="bold" fill="#000" >500</text>
<text x="442.5" y="623.6" font-size="10.4" text-anchor="middle" font-weight="bold" fill="#000" >600</text>
<text x="492.5" y="623.6" font-size="10.4" text-anchor="middle" font-weight="bold" fill="#000" >700</text>
<text x="313.2" y="597.95" font-size="10.4" text-anchor="end" font-weight="bold" fill="#000" >0</text>
<text x="313.2" y="566.45" font-size="10.4" text-anchor="end" font-weight="bold" fill="#000" >200</text>
<text x="313.2" y="534.95" font-size="10.4" text-anchor="end" font-weight="bold" fill="#000" >400</text>
<text x="313.2" y="503.45" font-size="10.4" text-anchor="end" font-weight="bold" fill="#000" >600</text>
<text x="313.2" y="471.95" font-size="10.4" text-anchor="end" font-weight="bold" fill="#000" >800</text>
<text x="417.5" y="643" font-size="11.4" text-anchor="middle" font-weight="bold" fill="#000" >Wavelength (nm)</text>
<text x="283.1" y="539" font-size="11.75" text-anchor="middle" font-weight="bold" fill="#000" transform="rotate(-90 283.1 539)" >Fluorescence Intensity (a.u.)</text>
<line x1="379.5" y1="467.5" x2="396.3" y2="467.5" stroke="#222" stroke-width="1.2" />
<text x="400" y="471.3" font-size="10.4" text-anchor="start" font-weight="normal" fill="#000" >CQDs</text>
<line x1="379.5" y1="480.75" x2="396.3" y2="480.75" stroke="#ff2020" stroke-width="1.2" />
<text x="400" y="484.55" font-size="10.4" text-anchor="start" font-weight="normal" fill="#000" >CQDs/AuNPs</text>
<line x1="379.5" y1="494.25" x2="396.3" y2="494.25" stroke="#3030ff" stroke-width="1.2" />
<text x="400" y="498.05" font-size="10.4" text-anchor="start" font-weight="normal" fill="#000" >CQDs/AuNPs+protamine</text>
<line x1="379.5" y1="507.5" x2="396.3" y2="507.5" stroke="#ff30ff" stroke-width="1.2" />
<text x="400" y="511.3" font-size="10.4" text-anchor="start" font-weight="normal" fill="#000" >CQDs+protamine</text>
</svg></body></html>
